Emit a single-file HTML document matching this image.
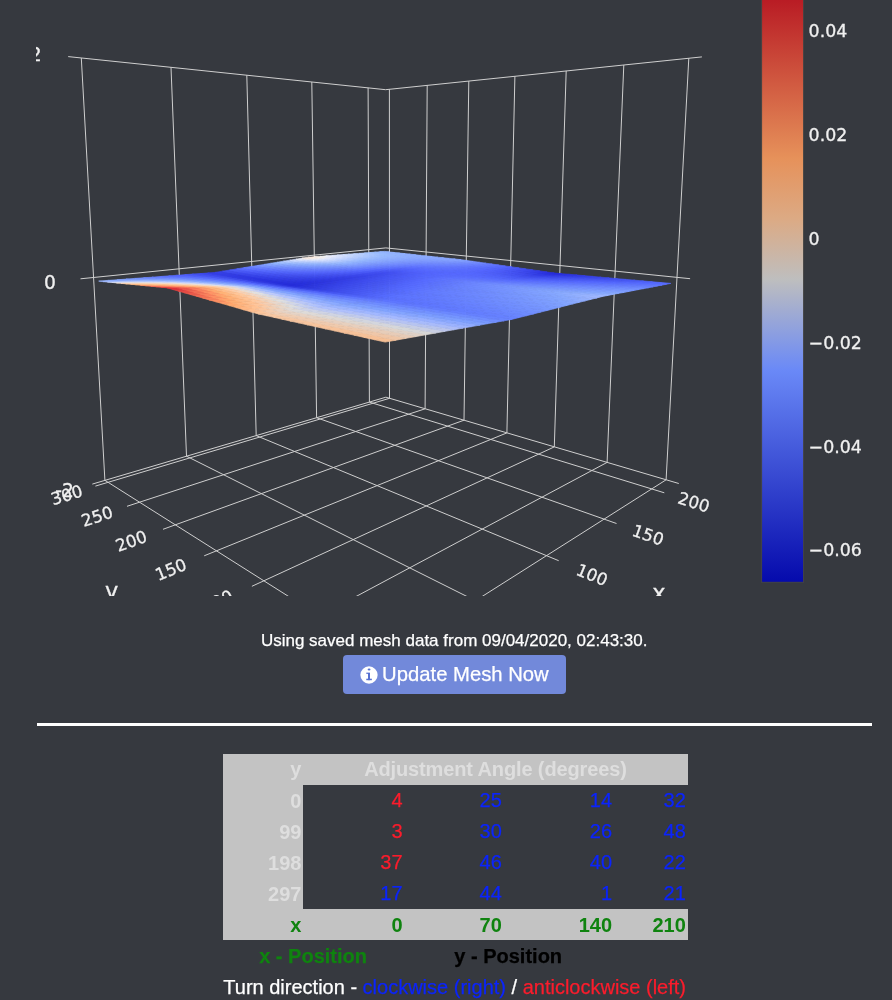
<!DOCTYPE html>
<html lang="en"><head><meta charset="utf-8"><title>Bed Visualizer</title>
<style>
html,body{margin:0;padding:0}
body{width:892px;height:1000px;overflow:hidden;background:#36393f;position:relative;font-family:"Liberation Sans",Arial,sans-serif;color:#fff}
#plot{position:absolute;left:36.2px;top:0;width:836px;height:596.4px;overflow:hidden}
#plot svg{position:absolute;left:-36.2px;top:0}
#info,#btn span,.leg,.r,.b{-webkit-text-stroke:0.25px currentColor}
#info{position:absolute;left:0;width:908.4px;top:630.9px;text-align:center;font-size:17px;line-height:20px;color:#fff;white-space:nowrap}
#btn{position:absolute;left:343.1px;top:655px;width:222.7px;height:39.2px;background:#7289da;border-radius:4px;box-sizing:border-box;color:#fff;font-size:20.25px;line-height:39.2px;white-space:nowrap}
#btn span{position:absolute;left:39px;top:0}
#btn svg{position:absolute;left:16.7px;top:10.6px}
#hr{position:absolute;left:36.9px;top:722.8px;width:835.2px;height:2.9px;background:#fff}
#tbl{position:absolute;left:222.5px;top:754.4px;width:465.2px;height:185.5px;background:#c3c3c3}
#inner{position:absolute;left:80.7px;top:30.4px;width:384.5px;height:124.2px;background:#36393f}
.c{position:absolute;height:31px;line-height:31px;font-size:20px;text-align:right;white-space:nowrap}
.h{font-weight:bold;color:#dedede}
.r{color:#fb1c2c}.b{color:#0b24fb}.g{color:#0f830f;font-weight:bold}
.leg{position:absolute;font-size:20px;font-weight:bold;line-height:22px;white-space:nowrap}
</style></head><body>
<div id="plot"><svg width="892" height="600" viewBox="0 0 892 600">
<defs><linearGradient id="cbg" gradientUnits="userSpaceOnUse" x1="0" y1="-24" x2="0" y2="582.3"><stop offset="0" stop-color="rgb(178,10,28)"/><stop offset="0.3" stop-color="rgb(230,145,90)"/><stop offset="0.4" stop-color="rgb(220,170,132)"/><stop offset="0.5" stop-color="rgb(190,190,190)"/><stop offset="0.65" stop-color="rgb(106,137,247)"/><stop offset="1" stop-color="rgb(5,10,172)"/></linearGradient></defs>
<rect x="761.6" y="-24" width="42" height="606.3" fill="url(#cbg)" stroke="#444" stroke-width="1"/>
<text x="808.6" y="37.3" font-size="17.4" font-family="DejaVu Sans, Verdana, sans-serif" stroke="#f0f0f0" stroke-width="0.3" fill="#f0f0f0">0.04</text>
<text x="808.6" y="141.3" font-size="17.4" font-family="DejaVu Sans, Verdana, sans-serif" stroke="#f0f0f0" stroke-width="0.3" fill="#f0f0f0">0.02</text>
<text x="808.6" y="245.3" font-size="17.4" font-family="DejaVu Sans, Verdana, sans-serif" stroke="#f0f0f0" stroke-width="0.3" fill="#f0f0f0">0</text>
<text x="808.6" y="349.3" font-size="17.4" font-family="DejaVu Sans, Verdana, sans-serif" stroke="#f0f0f0" stroke-width="0.3" fill="#f0f0f0">−0.02</text>
<text x="808.6" y="452.8" font-size="17.4" font-family="DejaVu Sans, Verdana, sans-serif" stroke="#f0f0f0" stroke-width="0.3" fill="#f0f0f0">−0.04</text>
<text x="808.6" y="556.3" font-size="17.4" font-family="DejaVu Sans, Verdana, sans-serif" stroke="#f0f0f0" stroke-width="0.3" fill="#f0f0f0">−0.06</text>
<g stroke="#cfcfcf" stroke-width="1.0" fill="none" stroke-linecap="butt">
<path d="M104.9 480.3L81.3 58.0"/>
<path d="M186.5 456.2L171.0 67.3"/>
<path d="M256.2 435.6L246.8 75.2"/>
<path d="M316.6 417.7L311.8 82.0"/>
<path d="M369.4 402.1L368.1 87.8"/>
<path d="M385.9 397.2L92.3 484.1"/>
<path d="M385.8 247.9L80.5 278.8"/>
<path d="M385.6 89.7L68.2 56.6"/>
<path d="M666.1 479.8L688.8 58.2"/>
<path d="M607.1 462.4L623.8 65.0"/>
<path d="M554.3 446.9L566.2 70.9"/>
<path d="M506.9 432.9L514.9 76.3"/>
<path d="M464.0 420.2L468.8 81.0"/>
<path d="M425.1 408.8L427.2 85.4"/>
<path d="M389.5 398.3L389.4 89.3"/>
<path d="M385.9 397.2L678.8 483.5"/>
<path d="M385.8 247.9L690.1 278.7"/>
<path d="M385.6 89.7L701.9 56.9"/>
<path d="M104.9 480.3L396.7 664.8"/>
<path d="M186.5 456.2L487.2 606.6"/>
<path d="M256.2 435.6L558.7 560.7"/>
<path d="M316.6 417.7L616.5 523.5"/>
<path d="M369.4 402.1L664.3 492.8"/>
<path d="M666.1 479.8L374.4 664.8"/>
<path d="M607.1 462.4L307.9 622.2"/>
<path d="M554.3 446.9L251.9 586.3"/>
<path d="M506.9 432.9L204.2 555.8"/>
<path d="M464.0 420.2L163.0 529.3"/>
<path d="M425.1 408.8L127.0 506.3"/>
<path d="M389.5 398.3L95.4 486.1"/>
</g>
<g stroke-width="0.7" stroke-linejoin="round">
<path d="M385.2 342.1L395.8 340.2L385.1 337.9L374.5 339.7Z" fill="#f6c096" stroke="#f6c096"/>
<path d="M374.5 339.7L385.1 337.9L374.7 335.6L364.0 337.4Z" fill="#f6c097" stroke="#f6c097"/>
<path d="M364.0 337.4L374.7 335.6L364.6 333.4L353.9 335.1Z" fill="#f6c198" stroke="#f6c198"/>
<path d="M353.9 335.1L364.6 333.4L354.7 331.3L344.0 333.0Z" fill="#f6c299" stroke="#f6c299"/>
<path d="M344.0 333.0L354.7 331.3L345.1 329.2L334.4 330.8Z" fill="#f7c29a" stroke="#f7c29a"/>
<path d="M334.4 330.8L345.1 329.2L335.7 327.2L325.1 328.8Z" fill="#f7c39b" stroke="#f7c39b"/>
<path d="M325.1 328.8L335.7 327.2L326.6 325.2L316.0 326.7Z" fill="#f7c39c" stroke="#f7c39c"/>
<path d="M316.0 326.7L326.6 325.2L317.7 323.3L307.1 324.8Z" fill="#f7c49d" stroke="#f7c49d"/>
<path d="M307.1 324.8L317.7 323.3L309.0 321.4L298.4 322.8Z" fill="#f7c59f" stroke="#f7c59f"/>
<path d="M298.4 322.8L309.0 321.4L300.5 319.6L290.0 321.0Z" fill="#f7c5a0" stroke="#f7c5a0"/>
<path d="M290.0 321.0L300.5 319.6L292.3 317.8L281.7 319.1Z" fill="#f7c6a1" stroke="#f7c6a1"/>
<path d="M281.7 319.1L292.3 317.8L284.2 316.0L273.7 317.3Z" fill="#f7c7a2" stroke="#f7c7a2"/>
<path d="M273.7 317.3L284.2 316.0L276.3 314.3L265.8 315.6Z" fill="#f7c7a3" stroke="#f7c7a3"/>
<path d="M265.8 315.6L276.3 314.3L268.6 312.7L258.2 313.9Z" fill="#f8c8a4" stroke="#f8c8a4"/>
<path d="M395.8 340.2L406.2 338.3L395.5 336.1L385.1 337.9Z" fill="#eec5a6" stroke="#eec5a6"/>
<path d="M385.1 337.9L395.5 336.1L385.1 333.9L374.7 335.6Z" fill="#efc6a7" stroke="#efc6a7"/>
<path d="M374.7 335.6L385.1 333.9L375.0 331.7L364.6 333.4Z" fill="#efc7a9" stroke="#efc7a9"/>
<path d="M364.6 333.4L375.0 331.7L365.1 329.7L354.7 331.3Z" fill="#efc8aa" stroke="#efc8aa"/>
<path d="M354.7 331.3L365.1 329.7L355.5 327.6L345.1 329.2Z" fill="#efc8ab" stroke="#efc8ab"/>
<path d="M345.1 329.2L355.5 327.6L346.1 325.7L335.7 327.2Z" fill="#efc9ac" stroke="#efc9ac"/>
<path d="M335.7 327.2L346.1 325.7L336.9 323.7L326.6 325.2Z" fill="#efcaad" stroke="#efcaad"/>
<path d="M326.6 325.2L336.9 323.7L328.0 321.8L317.7 323.3Z" fill="#efcaaf" stroke="#efcaaf"/>
<path d="M317.7 323.3L328.0 321.8L319.3 320.0L309.0 321.4Z" fill="#efcbb0" stroke="#efcbb0"/>
<path d="M309.0 321.4L319.3 320.0L310.8 318.2L300.5 319.6Z" fill="#efccb1" stroke="#efccb1"/>
<path d="M300.5 319.6L310.8 318.2L302.5 316.5L292.3 317.8Z" fill="#efccb2" stroke="#efccb2"/>
<path d="M292.3 317.8L302.5 316.5L294.4 314.8L284.2 316.0Z" fill="#efcdb3" stroke="#efcdb3"/>
<path d="M284.2 316.0L294.4 314.8L286.5 313.1L276.3 314.3Z" fill="#efceb5" stroke="#efceb5"/>
<path d="M276.3 314.3L286.5 313.1L278.8 311.5L268.6 312.7Z" fill="#efceb6" stroke="#efceb6"/>
<path d="M406.2 338.3L416.3 336.5L405.6 334.3L395.5 336.1Z" fill="#e7cbb6" stroke="#e7cbb6"/>
<path d="M395.5 336.1L405.6 334.3L395.2 332.2L385.1 333.9Z" fill="#e7ccb8" stroke="#e7ccb8"/>
<path d="M385.1 333.9L395.2 332.2L385.1 330.1L375.0 331.7Z" fill="#e7cdb9" stroke="#e7cdb9"/>
<path d="M375.0 331.7L385.1 330.1L375.2 328.1L365.1 329.7Z" fill="#e7cdba" stroke="#e7cdba"/>
<path d="M365.1 329.7L375.2 328.1L365.6 326.1L355.5 327.6Z" fill="#e7cebc" stroke="#e7cebc"/>
<path d="M355.5 327.6L365.6 326.1L356.2 324.2L346.1 325.7Z" fill="#e7cfbd" stroke="#e7cfbd"/>
<path d="M346.1 325.7L356.2 324.2L347.0 322.3L336.9 323.7Z" fill="#e7d0be" stroke="#e7d0be"/>
<path d="M336.9 323.7L347.0 322.3L338.1 320.4L328.0 321.8Z" fill="#e6d0c0" stroke="#e6d0c0"/>
<path d="M328.0 321.8L338.1 320.4L329.4 318.7L319.3 320.0Z" fill="#e6d1c1" stroke="#e6d1c1"/>
<path d="M319.3 320.0L329.4 318.7L320.9 316.9L310.8 318.2Z" fill="#e6d2c2" stroke="#e6d2c2"/>
<path d="M310.8 318.2L320.9 316.9L312.5 315.2L302.5 316.5Z" fill="#e6d3c4" stroke="#e6d3c4"/>
<path d="M302.5 316.5L312.5 315.2L304.4 313.5L294.4 314.8Z" fill="#e6d3c5" stroke="#e6d3c5"/>
<path d="M294.4 314.8L304.4 313.5L296.5 311.9L286.5 313.1Z" fill="#e6d4c6" stroke="#e6d4c6"/>
<path d="M286.5 313.1L296.5 311.9L288.7 310.3L278.8 311.5Z" fill="#e6d5c8" stroke="#e6d5c8"/>
<path d="M416.3 336.5L426.2 334.7L415.5 332.6L405.6 334.3Z" fill="#dfd1c6" stroke="#dfd1c6"/>
<path d="M405.6 334.3L415.5 332.6L405.1 330.5L395.2 332.2Z" fill="#dfd2c8" stroke="#dfd2c8"/>
<path d="M395.2 332.2L405.1 330.5L394.9 328.5L385.1 330.1Z" fill="#dfd3c9" stroke="#dfd3c9"/>
<path d="M385.1 330.1L394.9 328.5L385.1 326.5L375.2 328.1Z" fill="#dfd3cb" stroke="#dfd3cb"/>
<path d="M375.2 328.1L385.1 326.5L375.4 324.6L365.6 326.1Z" fill="#dfd4cc" stroke="#dfd4cc"/>
<path d="M365.6 326.1L375.4 324.6L366.0 322.7L356.2 324.2Z" fill="#dfd5ce" stroke="#dfd5ce"/>
<path d="M356.2 324.2L366.0 322.7L356.9 320.9L347.0 322.3Z" fill="#ded6cf" stroke="#ded6cf"/>
<path d="M347.0 322.3L356.9 320.9L347.9 319.1L338.1 320.4Z" fill="#ded7d1" stroke="#ded7d1"/>
<path d="M338.1 320.4L347.9 319.1L339.2 317.3L329.4 318.7Z" fill="#ded7d2" stroke="#ded7d2"/>
<path d="M329.4 318.7L339.2 317.3L330.7 315.6L320.9 316.9Z" fill="#ded8d4" stroke="#ded8d4"/>
<path d="M320.9 316.9L330.7 315.6L322.3 314.0L312.5 315.2Z" fill="#ded9d5" stroke="#ded9d5"/>
<path d="M312.5 315.2L322.3 314.0L314.2 312.3L304.4 313.5Z" fill="#dedad7" stroke="#dedad7"/>
<path d="M304.4 313.5L314.2 312.3L306.2 310.7L296.5 311.9Z" fill="#dedbd8" stroke="#dedbd8"/>
<path d="M296.5 311.9L306.2 310.7L298.5 309.2L288.7 310.3Z" fill="#dedbda" stroke="#dedbda"/>
<path d="M426.2 334.7L435.7 333.0L425.1 330.9L415.5 332.6Z" fill="#d8d7d6" stroke="#d8d7d6"/>
<path d="M415.5 332.6L425.1 330.9L414.7 328.9L405.1 330.5Z" fill="#d7d7d8" stroke="#d7d7d8"/>
<path d="M405.1 330.5L414.7 328.9L404.5 326.9L394.9 328.5Z" fill="#d6d7d9" stroke="#d6d7d9"/>
<path d="M394.9 328.5L404.5 326.9L394.7 325.0L385.1 326.5Z" fill="#d6d7da" stroke="#d6d7da"/>
<path d="M385.1 326.5L394.7 325.0L385.0 323.1L375.4 324.6Z" fill="#d5d6dc" stroke="#d5d6dc"/>
<path d="M375.4 324.6L385.0 323.1L375.6 321.3L366.0 322.7Z" fill="#d4d6dd" stroke="#d4d6dd"/>
<path d="M366.0 322.7L375.6 321.3L366.5 319.5L356.9 320.9Z" fill="#d3d6de" stroke="#d3d6de"/>
<path d="M356.9 320.9L366.5 319.5L357.5 317.7L347.9 319.1Z" fill="#d3d5df" stroke="#d3d5df"/>
<path d="M347.9 319.1L357.5 317.7L348.8 316.0L339.2 317.3Z" fill="#d2d5e1" stroke="#d2d5e1"/>
<path d="M339.2 317.3L348.8 316.0L340.2 314.4L330.7 315.6Z" fill="#d1d5e2" stroke="#d1d5e2"/>
<path d="M330.7 315.6L340.2 314.4L331.9 312.7L322.3 314.0Z" fill="#d0d4e3" stroke="#d0d4e3"/>
<path d="M322.3 314.0L331.9 312.7L323.7 311.2L314.2 312.3Z" fill="#d0d4e4" stroke="#d0d4e4"/>
<path d="M314.2 312.3L323.7 311.2L315.8 309.6L306.2 310.7Z" fill="#cfd4e5" stroke="#cfd4e5"/>
<path d="M306.2 310.7L315.8 309.6L308.0 308.1L298.5 309.2Z" fill="#ced3e7" stroke="#ced3e7"/>
<path d="M435.7 333.0L445.1 331.3L434.4 329.3L425.1 330.9Z" fill="#c9cee1" stroke="#c9cee1"/>
<path d="M425.1 330.9L434.4 329.3L424.0 327.3L414.7 328.9Z" fill="#c8cee3" stroke="#c8cee3"/>
<path d="M414.7 328.9L424.0 327.3L413.9 325.4L404.5 326.9Z" fill="#c7cee4" stroke="#c7cee4"/>
<path d="M404.5 326.9L413.9 325.4L404.0 323.5L394.7 325.0Z" fill="#c6cde5" stroke="#c6cde5"/>
<path d="M394.7 325.0L404.0 323.5L394.4 321.7L385.0 323.1Z" fill="#c6cde7" stroke="#c6cde7"/>
<path d="M385.0 323.1L394.4 321.7L385.0 319.9L375.6 321.3Z" fill="#c5cce8" stroke="#c5cce8"/>
<path d="M375.6 321.3L385.0 319.9L375.9 318.2L366.5 319.5Z" fill="#c4cce9" stroke="#c4cce9"/>
<path d="M366.5 319.5L375.9 318.2L366.9 316.4L357.5 317.7Z" fill="#c3cceb" stroke="#c3cceb"/>
<path d="M357.5 317.7L366.9 316.4L358.1 314.8L348.8 316.0Z" fill="#c2cbec" stroke="#c2cbec"/>
<path d="M348.8 316.0L358.1 314.8L349.6 313.2L340.2 314.4Z" fill="#c1cbed" stroke="#c1cbed"/>
<path d="M340.2 314.4L349.6 313.2L341.2 311.6L331.9 312.7Z" fill="#c0caef" stroke="#c0caef"/>
<path d="M331.9 312.7L341.2 311.6L333.1 310.0L323.7 311.2Z" fill="#bfcaf0" stroke="#bfcaf0"/>
<path d="M323.7 311.2L333.1 310.0L325.1 308.5L315.8 309.6Z" fill="#becaf1" stroke="#becaf1"/>
<path d="M315.8 309.6L325.1 308.5L317.3 307.0L308.0 308.1Z" fill="#bdc9f3" stroke="#bdc9f3"/>
<path d="M445.1 331.3L454.1 329.7L443.5 327.7L434.4 329.3Z" fill="#bbc5ec" stroke="#bbc5ec"/>
<path d="M434.4 329.3L443.5 327.7L433.2 325.8L424.0 327.3Z" fill="#b9c5ed" stroke="#b9c5ed"/>
<path d="M424.0 327.3L433.2 325.8L423.0 323.9L413.9 325.4Z" fill="#b8c4ef" stroke="#b8c4ef"/>
<path d="M413.9 325.4L423.0 323.9L413.2 322.1L404.0 323.5Z" fill="#b7c4f0" stroke="#b7c4f0"/>
<path d="M404.0 323.5L413.2 322.1L403.6 320.3L394.4 321.7Z" fill="#b6c3f2" stroke="#b6c3f2"/>
<path d="M394.4 321.7L403.6 320.3L394.2 318.6L385.0 319.9Z" fill="#b5c3f3" stroke="#b5c3f3"/>
<path d="M385.0 319.9L394.2 318.6L385.0 316.8L375.9 318.2Z" fill="#b4c2f5" stroke="#b4c2f5"/>
<path d="M375.9 318.2L385.0 316.8L376.0 315.2L366.9 316.4Z" fill="#b3c2f6" stroke="#b3c2f6"/>
<path d="M366.9 316.4L376.0 315.2L367.3 313.5L358.1 314.8Z" fill="#b2c1f7" stroke="#b2c1f7"/>
<path d="M358.1 314.8L367.3 313.5L358.7 312.0L349.6 313.2Z" fill="#b1c1f9" stroke="#b1c1f9"/>
<path d="M349.6 313.2L358.7 312.0L350.4 310.4L341.2 311.6Z" fill="#b0c0fa" stroke="#b0c0fa"/>
<path d="M341.2 311.6L350.4 310.4L342.2 308.9L333.1 310.0Z" fill="#afc0fc" stroke="#afc0fc"/>
<path d="M333.1 310.0L342.2 308.9L334.2 307.4L325.1 308.5Z" fill="#aebffd" stroke="#aebffd"/>
<path d="M325.1 308.5L334.2 307.4L326.4 305.9L317.3 307.0Z" fill="#adbfff" stroke="#adbfff"/>
<path d="M454.1 329.7L463.0 328.1L452.4 326.2L443.5 327.7Z" fill="#acbcf7" stroke="#acbcf7"/>
<path d="M443.5 327.7L452.4 326.2L442.0 324.3L433.2 325.8Z" fill="#abbcf8" stroke="#abbcf8"/>
<path d="M433.2 325.8L442.0 324.3L432.0 322.5L423.0 323.9Z" fill="#a9bbfa" stroke="#a9bbfa"/>
<path d="M423.0 323.9L432.0 322.5L422.1 320.7L413.2 322.1Z" fill="#a8bbfb" stroke="#a8bbfb"/>
<path d="M413.2 322.1L422.1 320.7L412.5 318.9L403.6 320.3Z" fill="#a7bafd" stroke="#a7bafd"/>
<path d="M403.6 320.3L412.5 318.9L403.1 317.2L394.2 318.6Z" fill="#a6b9fe" stroke="#a6b9fe"/>
<path d="M394.2 318.6L403.1 317.2L393.9 315.6L385.0 316.8Z" fill="#a5b9ff" stroke="#a5b9ff"/>
<path d="M385.0 316.8L393.9 315.6L385.0 313.9L376.0 315.2Z" fill="#a3b8ff" stroke="#a3b8ff"/>
<path d="M376.0 315.2L385.0 313.9L376.2 312.3L367.3 313.5Z" fill="#a2b8ff" stroke="#a2b8ff"/>
<path d="M367.3 313.5L376.2 312.3L367.7 310.8L358.7 312.0Z" fill="#a1b7ff" stroke="#a1b7ff"/>
<path d="M358.7 312.0L367.7 310.8L359.3 309.3L350.4 310.4Z" fill="#a0b6ff" stroke="#a0b6ff"/>
<path d="M350.4 310.4L359.3 309.3L351.1 307.8L342.2 308.9Z" fill="#9fb6ff" stroke="#9fb6ff"/>
<path d="M342.2 308.9L351.1 307.8L343.1 306.3L334.2 307.4Z" fill="#9db5ff" stroke="#9db5ff"/>
<path d="M334.2 307.4L343.1 306.3L335.3 304.9L326.4 305.9Z" fill="#9cb5ff" stroke="#9cb5ff"/>
<path d="M463.0 328.1L471.6 326.6L461.0 324.7L452.4 326.2Z" fill="#9db3ff" stroke="#9db3ff"/>
<path d="M452.4 326.2L461.0 324.7L450.7 322.9L442.0 324.3Z" fill="#9cb3ff" stroke="#9cb3ff"/>
<path d="M442.0 324.3L450.7 322.9L440.6 321.1L432.0 322.5Z" fill="#9bb2ff" stroke="#9bb2ff"/>
<path d="M432.0 322.5L440.6 321.1L430.8 319.3L422.1 320.7Z" fill="#99b1ff" stroke="#99b1ff"/>
<path d="M422.1 320.7L430.8 319.3L421.2 317.6L412.5 318.9Z" fill="#98b0ff" stroke="#98b0ff"/>
<path d="M412.5 318.9L421.2 317.6L411.8 315.9L403.1 317.2Z" fill="#96b0ff" stroke="#96b0ff"/>
<path d="M403.1 317.2L411.8 315.9L402.7 314.3L393.9 315.6Z" fill="#95afff" stroke="#95afff"/>
<path d="M393.9 315.6L402.7 314.3L393.7 312.7L385.0 313.9Z" fill="#94aeff" stroke="#94aeff"/>
<path d="M385.0 313.9L393.7 312.7L385.0 311.2L376.2 312.3Z" fill="#92aeff" stroke="#92aeff"/>
<path d="M376.2 312.3L385.0 311.2L376.4 309.6L367.7 310.8Z" fill="#91adff" stroke="#91adff"/>
<path d="M367.7 310.8L376.4 309.6L368.0 308.2L359.3 309.3Z" fill="#90acff" stroke="#90acff"/>
<path d="M359.3 309.3L368.0 308.2L359.9 306.7L351.1 307.8Z" fill="#8eacff" stroke="#8eacff"/>
<path d="M351.1 307.8L359.9 306.7L351.8 305.3L343.1 306.3Z" fill="#8dabff" stroke="#8dabff"/>
<path d="M343.1 306.3L351.8 305.3L344.0 303.9L335.3 304.9Z" fill="#8caaff" stroke="#8caaff"/>
<path d="M471.6 326.6L480.0 325.1L469.5 323.2L461.0 324.7Z" fill="#8faaff" stroke="#8faaff"/>
<path d="M461.0 324.7L469.5 323.2L459.2 321.4L450.7 322.9Z" fill="#8da9ff" stroke="#8da9ff"/>
<path d="M450.7 322.9L459.2 321.4L449.1 319.7L440.6 321.1Z" fill="#8ca9ff" stroke="#8ca9ff"/>
<path d="M440.6 321.1L449.1 319.7L439.3 318.0L430.8 319.3Z" fill="#8aa8ff" stroke="#8aa8ff"/>
<path d="M430.8 319.3L439.3 318.0L429.7 316.3L421.2 317.6Z" fill="#89a7ff" stroke="#89a7ff"/>
<path d="M421.2 317.6L429.7 316.3L420.4 314.7L411.8 315.9Z" fill="#87a6ff" stroke="#87a6ff"/>
<path d="M411.8 315.9L420.4 314.7L411.2 313.1L402.7 314.3Z" fill="#86a5ff" stroke="#86a5ff"/>
<path d="M402.7 314.3L411.2 313.1L402.3 311.5L393.7 312.7Z" fill="#84a5ff" stroke="#84a5ff"/>
<path d="M393.7 312.7L402.3 311.5L393.5 310.0L385.0 311.2Z" fill="#83a4ff" stroke="#83a4ff"/>
<path d="M385.0 311.2L393.5 310.0L385.0 308.5L376.4 309.6Z" fill="#81a3ff" stroke="#81a3ff"/>
<path d="M376.4 309.6L385.0 308.5L376.6 307.1L368.0 308.2Z" fill="#80a2ff" stroke="#80a2ff"/>
<path d="M368.0 308.2L376.6 307.1L368.4 305.6L359.9 306.7Z" fill="#80a1ff" stroke="#80a1ff"/>
<path d="M359.9 306.7L368.4 305.6L360.4 304.2L351.8 305.3Z" fill="#7fa1ff" stroke="#7fa1ff"/>
<path d="M351.8 305.3L360.4 304.2L352.5 302.9L344.0 303.9Z" fill="#7fa0ff" stroke="#7fa0ff"/>
<path d="M480.0 325.1L488.2 323.6L477.7 321.8L469.5 323.2Z" fill="#80a1ff" stroke="#80a1ff"/>
<path d="M469.5 323.2L477.7 321.8L467.4 320.1L459.2 321.4Z" fill="#7ea0ff" stroke="#7ea0ff"/>
<path d="M459.2 321.4L467.4 320.1L457.4 318.3L449.1 319.7Z" fill="#7d9fff" stroke="#7d9fff"/>
<path d="M449.1 319.7L457.4 318.3L447.6 316.7L439.3 318.0Z" fill="#7d9eff" stroke="#7d9eff"/>
<path d="M439.3 318.0L447.6 316.7L438.0 315.0L429.7 316.3Z" fill="#7c9dff" stroke="#7c9dff"/>
<path d="M429.7 316.3L438.0 315.0L428.7 313.5L420.4 314.7Z" fill="#7b9dff" stroke="#7b9dff"/>
<path d="M420.4 314.7L428.7 313.5L419.5 311.9L411.2 313.1Z" fill="#7b9cff" stroke="#7b9cff"/>
<path d="M411.2 313.1L419.5 311.9L410.6 310.4L402.3 311.5Z" fill="#7a9bff" stroke="#7a9bff"/>
<path d="M402.3 311.5L410.6 310.4L401.9 308.9L393.5 310.0Z" fill="#7a9aff" stroke="#7a9aff"/>
<path d="M393.5 310.0L401.9 308.9L393.3 307.4L385.0 308.5Z" fill="#7999ff" stroke="#7999ff"/>
<path d="M385.0 308.5L393.3 307.4L384.9 306.0L376.6 307.1Z" fill="#7898ff" stroke="#7898ff"/>
<path d="M376.6 307.1L384.9 306.0L376.7 304.6L368.4 305.6Z" fill="#7897ff" stroke="#7897ff"/>
<path d="M368.4 305.6L376.7 304.6L368.7 303.2L360.4 304.2Z" fill="#7796ff" stroke="#7796ff"/>
<path d="M360.4 304.2L368.7 303.2L360.9 301.9L352.5 302.9Z" fill="#7695ff" stroke="#7695ff"/>
<path d="M488.2 323.6L496.3 322.2L485.8 320.4L477.7 321.8Z" fill="#7798ff" stroke="#7798ff"/>
<path d="M477.7 321.8L485.8 320.4L475.5 318.7L467.4 320.1Z" fill="#7797ff" stroke="#7797ff"/>
<path d="M467.4 320.1L475.5 318.7L465.5 317.0L457.4 318.3Z" fill="#7696ff" stroke="#7696ff"/>
<path d="M457.4 318.3L465.5 317.0L455.7 315.4L447.6 316.7Z" fill="#7595ff" stroke="#7595ff"/>
<path d="M447.6 316.7L455.7 315.4L446.2 313.8L438.0 315.0Z" fill="#7494ff" stroke="#7494ff"/>
<path d="M438.0 315.0L446.2 313.8L436.8 312.3L428.7 313.5Z" fill="#7493ff" stroke="#7493ff"/>
<path d="M428.7 313.5L436.8 312.3L427.7 310.7L419.5 311.9Z" fill="#7392ff" stroke="#7392ff"/>
<path d="M419.5 311.9L427.7 310.7L418.8 309.2L410.6 310.4Z" fill="#7291ff" stroke="#7291ff"/>
<path d="M410.6 310.4L418.8 309.2L410.0 307.8L401.9 308.9Z" fill="#7290ff" stroke="#7290ff"/>
<path d="M401.9 308.9L410.0 307.8L401.5 306.4L393.3 307.4Z" fill="#718fff" stroke="#718fff"/>
<path d="M393.3 307.4L401.5 306.4L393.1 305.0L384.9 306.0Z" fill="#708eff" stroke="#708eff"/>
<path d="M384.9 306.0L393.1 305.0L384.9 303.6L376.7 304.6Z" fill="#6f8dff" stroke="#6f8dff"/>
<path d="M376.7 304.6L384.9 303.6L376.9 302.3L368.7 303.2Z" fill="#6f8cff" stroke="#6f8cff"/>
<path d="M368.7 303.2L376.9 302.3L369.0 300.9L360.9 301.9Z" fill="#6e8bff" stroke="#6e8bff"/>
<path d="M496.3 322.2L504.1 320.8L493.6 319.1L485.8 320.4Z" fill="#708eff" stroke="#708eff"/>
<path d="M485.8 320.4L493.6 319.1L483.4 317.4L475.5 318.7Z" fill="#6f8dff" stroke="#6f8dff"/>
<path d="M475.5 318.7L483.4 317.4L473.4 315.8L465.5 317.0Z" fill="#6e8cff" stroke="#6e8cff"/>
<path d="M465.5 317.0L473.4 315.8L463.7 314.2L455.7 315.4Z" fill="#6e8bff" stroke="#6e8bff"/>
<path d="M455.7 315.4L463.7 314.2L454.1 312.6L446.2 313.8Z" fill="#6d8aff" stroke="#6d8aff"/>
<path d="M446.2 313.8L454.1 312.6L444.8 311.1L436.8 312.3Z" fill="#6c89ff" stroke="#6c89ff"/>
<path d="M436.8 312.3L444.8 311.1L435.7 309.6L427.7 310.7Z" fill="#6b88ff" stroke="#6b88ff"/>
<path d="M427.7 310.7L435.7 309.6L426.8 308.1L418.8 309.2Z" fill="#6a87ff" stroke="#6a87ff"/>
<path d="M418.8 309.2L426.8 308.1L418.0 306.7L410.0 307.8Z" fill="#6a86ff" stroke="#6a86ff"/>
<path d="M410.0 307.8L418.0 306.7L409.5 305.3L401.5 306.4Z" fill="#6984ff" stroke="#6984ff"/>
<path d="M401.5 306.4L409.5 305.3L401.1 303.9L393.1 305.0Z" fill="#6883ff" stroke="#6883ff"/>
<path d="M393.1 305.0L401.1 303.9L392.9 302.6L384.9 303.6Z" fill="#6782ff" stroke="#6782ff"/>
<path d="M384.9 303.6L392.9 302.6L384.9 301.3L376.9 302.3Z" fill="#6681ff" stroke="#6681ff"/>
<path d="M376.9 302.3L384.9 301.3L377.0 300.0L369.0 300.9Z" fill="#6680ff" stroke="#6680ff"/>
<path d="M504.1 320.8L511.7 319.4L501.3 317.7L493.6 319.1Z" fill="#6985ff" stroke="#6985ff"/>
<path d="M493.6 319.1L501.3 317.7L491.1 316.1L483.4 317.4Z" fill="#6884ff" stroke="#6884ff"/>
<path d="M483.4 317.4L491.1 316.1L481.1 314.5L473.4 315.8Z" fill="#6783ff" stroke="#6783ff"/>
<path d="M473.4 315.8L481.1 314.5L471.4 312.9L463.7 314.2Z" fill="#6681ff" stroke="#6681ff"/>
<path d="M463.7 314.2L471.4 312.9L461.9 311.4L454.1 312.6Z" fill="#6580ff" stroke="#6580ff"/>
<path d="M454.1 312.6L461.9 311.4L452.6 309.9L444.8 311.1Z" fill="#647fff" stroke="#647fff"/>
<path d="M444.8 311.1L452.6 309.9L443.5 308.5L435.7 309.6Z" fill="#637eff" stroke="#637eff"/>
<path d="M435.7 309.6L443.5 308.5L434.6 307.0L426.8 308.1Z" fill="#637dff" stroke="#637dff"/>
<path d="M426.8 308.1L434.6 307.0L425.8 305.6L418.0 306.7Z" fill="#627bff" stroke="#627bff"/>
<path d="M418.0 306.7L425.8 305.6L417.3 304.3L409.5 305.3Z" fill="#617aff" stroke="#617aff"/>
<path d="M409.5 305.3L417.3 304.3L409.0 302.9L401.1 303.9Z" fill="#6079ff" stroke="#6079ff"/>
<path d="M401.1 303.9L409.0 302.9L400.8 301.6L392.9 302.6Z" fill="#5f78ff" stroke="#5f78ff"/>
<path d="M392.9 302.6L400.8 301.6L392.7 300.4L384.9 301.3Z" fill="#5e77ff" stroke="#5e77ff"/>
<path d="M384.9 301.3L392.7 300.4L384.9 299.1L377.0 300.0Z" fill="#5d75ff" stroke="#5d75ff"/>
<path d="M511.7 319.4L519.2 317.5L508.8 315.9L501.3 317.7Z" fill="#6782ff" stroke="#6782ff"/>
<path d="M501.3 317.7L508.8 315.9L498.6 314.3L491.1 316.1Z" fill="#6681ff" stroke="#6681ff"/>
<path d="M491.1 316.1L498.6 314.3L488.7 312.8L481.1 314.5Z" fill="#6580ff" stroke="#6580ff"/>
<path d="M481.1 314.5L488.7 312.8L479.0 311.2L471.4 312.9Z" fill="#647eff" stroke="#647eff"/>
<path d="M471.4 312.9L479.0 311.2L469.5 309.8L461.9 311.4Z" fill="#637dff" stroke="#637dff"/>
<path d="M461.9 311.4L469.5 309.8L460.2 308.3L452.6 309.9Z" fill="#627cff" stroke="#627cff"/>
<path d="M452.6 309.9L460.2 308.3L451.1 306.9L443.5 308.5Z" fill="#617aff" stroke="#617aff"/>
<path d="M443.5 308.5L451.1 306.9L442.2 305.5L434.6 307.0Z" fill="#6079ff" stroke="#6079ff"/>
<path d="M434.6 307.0L442.2 305.5L433.5 304.1L425.8 305.6Z" fill="#5f78ff" stroke="#5f78ff"/>
<path d="M425.8 305.6L433.5 304.1L425.0 302.8L417.3 304.3Z" fill="#5e76ff" stroke="#5e76ff"/>
<path d="M417.3 304.3L425.0 302.8L416.6 301.5L409.0 302.9Z" fill="#5d75ff" stroke="#5d75ff"/>
<path d="M409.0 302.9L416.6 301.5L408.5 300.2L400.8 301.6Z" fill="#5c74ff" stroke="#5c74ff"/>
<path d="M400.8 301.6L408.5 300.2L400.4 299.0L392.7 300.4Z" fill="#5b72ff" stroke="#5b72ff"/>
<path d="M392.7 300.4L400.4 299.0L392.6 297.8L384.9 299.1Z" fill="#5a71ff" stroke="#5a71ff"/>
<path d="M519.2 317.5L526.5 315.7L516.1 314.1L508.8 315.9Z" fill="#6a86ff" stroke="#6a86ff"/>
<path d="M508.8 315.9L516.1 314.1L506.0 312.5L498.6 314.3Z" fill="#6985ff" stroke="#6985ff"/>
<path d="M498.6 314.3L506.0 312.5L496.1 311.0L488.7 312.8Z" fill="#6883ff" stroke="#6883ff"/>
<path d="M488.7 312.8L496.1 311.0L486.4 309.6L479.0 311.2Z" fill="#6782ff" stroke="#6782ff"/>
<path d="M479.0 311.2L486.4 309.6L476.9 308.1L469.5 309.8Z" fill="#6580ff" stroke="#6580ff"/>
<path d="M469.5 309.8L476.9 308.1L467.7 306.7L460.2 308.3Z" fill="#647fff" stroke="#647fff"/>
<path d="M460.2 308.3L467.7 306.7L458.6 305.3L451.1 306.9Z" fill="#637dff" stroke="#637dff"/>
<path d="M451.1 306.9L458.6 305.3L449.7 304.0L442.2 305.5Z" fill="#627cff" stroke="#627cff"/>
<path d="M442.2 305.5L449.7 304.0L441.0 302.7L433.5 304.1Z" fill="#617aff" stroke="#617aff"/>
<path d="M433.5 304.1L441.0 302.7L432.5 301.4L425.0 302.8Z" fill="#6079ff" stroke="#6079ff"/>
<path d="M425.0 302.8L432.5 301.4L424.2 300.1L416.6 301.5Z" fill="#5f77ff" stroke="#5f77ff"/>
<path d="M416.6 301.5L424.2 300.1L416.0 298.9L408.5 300.2Z" fill="#5e76ff" stroke="#5e76ff"/>
<path d="M408.5 300.2L416.0 298.9L408.0 297.6L400.4 299.0Z" fill="#5d74ff" stroke="#5d74ff"/>
<path d="M400.4 299.0L408.0 297.6L400.1 296.4L392.6 297.8Z" fill="#5c73ff" stroke="#5c73ff"/>
<path d="M526.5 315.7L533.6 313.9L523.3 312.3L516.1 314.1Z" fill="#6d8aff" stroke="#6d8aff"/>
<path d="M516.1 314.1L523.3 312.3L513.2 310.8L506.0 312.5Z" fill="#6c89ff" stroke="#6c89ff"/>
<path d="M506.0 312.5L513.2 310.8L503.3 309.4L496.1 311.0Z" fill="#6b87ff" stroke="#6b87ff"/>
<path d="M496.1 311.0L503.3 309.4L493.7 307.9L486.4 309.6Z" fill="#6985ff" stroke="#6985ff"/>
<path d="M486.4 309.6L493.7 307.9L484.2 306.5L476.9 308.1Z" fill="#6884ff" stroke="#6884ff"/>
<path d="M476.9 308.1L484.2 306.5L475.0 305.2L467.7 306.7Z" fill="#6782ff" stroke="#6782ff"/>
<path d="M467.7 306.7L475.0 305.2L465.9 303.8L458.6 305.3Z" fill="#6680ff" stroke="#6680ff"/>
<path d="M458.6 305.3L465.9 303.8L457.0 302.5L449.7 304.0Z" fill="#657fff" stroke="#657fff"/>
<path d="M449.7 304.0L457.0 302.5L448.4 301.2L441.0 302.7Z" fill="#637dff" stroke="#637dff"/>
<path d="M441.0 302.7L448.4 301.2L439.9 300.0L432.5 301.4Z" fill="#627bff" stroke="#627bff"/>
<path d="M432.5 301.4L439.9 300.0L431.5 298.7L424.2 300.1Z" fill="#617aff" stroke="#617aff"/>
<path d="M424.2 300.1L431.5 298.7L423.4 297.5L416.0 298.9Z" fill="#6078ff" stroke="#6078ff"/>
<path d="M416.0 298.9L423.4 297.5L415.3 296.3L408.0 297.6Z" fill="#5e76ff" stroke="#5e76ff"/>
<path d="M408.0 297.6L415.3 296.3L407.5 295.2L400.1 296.4Z" fill="#5d75ff" stroke="#5d75ff"/>
<path d="M533.6 313.9L540.6 312.1L530.3 310.6L523.3 312.3Z" fill="#708eff" stroke="#708eff"/>
<path d="M523.3 312.3L530.3 310.6L520.2 309.2L513.2 310.8Z" fill="#6f8dff" stroke="#6f8dff"/>
<path d="M513.2 310.8L520.2 309.2L510.4 307.7L503.3 309.4Z" fill="#6e8bff" stroke="#6e8bff"/>
<path d="M503.3 309.4L510.4 307.7L500.8 306.3L493.7 307.9Z" fill="#6c89ff" stroke="#6c89ff"/>
<path d="M493.7 307.9L500.8 306.3L491.3 305.0L484.2 306.5Z" fill="#6b87ff" stroke="#6b87ff"/>
<path d="M484.2 306.5L491.3 305.0L482.1 303.6L475.0 305.2Z" fill="#6a85ff" stroke="#6a85ff"/>
<path d="M475.0 305.2L482.1 303.6L473.1 302.3L465.9 303.8Z" fill="#6883ff" stroke="#6883ff"/>
<path d="M465.9 303.8L473.1 302.3L464.2 301.1L457.0 302.5Z" fill="#6782ff" stroke="#6782ff"/>
<path d="M457.0 302.5L464.2 301.1L455.6 299.8L448.4 301.2Z" fill="#6680ff" stroke="#6680ff"/>
<path d="M448.4 301.2L455.6 299.8L447.1 298.6L439.9 300.0Z" fill="#647eff" stroke="#647eff"/>
<path d="M439.9 300.0L447.1 298.6L438.7 297.4L431.5 298.7Z" fill="#637cff" stroke="#637cff"/>
<path d="M431.5 298.7L438.7 297.4L430.6 296.2L423.4 297.5Z" fill="#617aff" stroke="#617aff"/>
<path d="M423.4 297.5L430.6 296.2L422.6 295.0L415.3 296.3Z" fill="#6078ff" stroke="#6078ff"/>
<path d="M415.3 296.3L422.6 295.0L414.7 293.9L407.5 295.2Z" fill="#5f77ff" stroke="#5f77ff"/>
<path d="M540.6 312.1L547.4 310.4L537.1 308.9L530.3 310.6Z" fill="#7493ff" stroke="#7493ff"/>
<path d="M530.3 310.6L537.1 308.9L527.1 307.5L520.2 309.2Z" fill="#7291ff" stroke="#7291ff"/>
<path d="M520.2 309.2L527.1 307.5L517.3 306.1L510.4 307.7Z" fill="#718fff" stroke="#718fff"/>
<path d="M510.4 307.7L517.3 306.1L507.7 304.8L500.8 306.3Z" fill="#6f8dff" stroke="#6f8dff"/>
<path d="M500.8 306.3L507.7 304.8L498.3 303.4L491.3 305.0Z" fill="#6e8bff" stroke="#6e8bff"/>
<path d="M491.3 305.0L498.3 303.4L489.1 302.2L482.1 303.6Z" fill="#6c89ff" stroke="#6c89ff"/>
<path d="M482.1 303.6L489.1 302.2L480.1 300.9L473.1 302.3Z" fill="#6b87ff" stroke="#6b87ff"/>
<path d="M473.1 302.3L480.1 300.9L471.3 299.6L464.2 301.1Z" fill="#6985ff" stroke="#6985ff"/>
<path d="M464.2 301.1L471.3 299.6L462.6 298.4L455.6 299.8Z" fill="#6883ff" stroke="#6883ff"/>
<path d="M455.6 299.8L462.6 298.4L454.1 297.2L447.1 298.6Z" fill="#6681ff" stroke="#6681ff"/>
<path d="M447.1 298.6L454.1 297.2L445.8 296.0L438.7 297.4Z" fill="#657fff" stroke="#657fff"/>
<path d="M438.7 297.4L445.8 296.0L437.7 294.9L430.6 296.2Z" fill="#637cff" stroke="#637cff"/>
<path d="M430.6 296.2L437.7 294.9L429.7 293.8L422.6 295.0Z" fill="#627aff" stroke="#627aff"/>
<path d="M422.6 295.0L429.7 293.8L421.8 292.7L414.7 293.9Z" fill="#6078ff" stroke="#6078ff"/>
<path d="M547.4 310.4L554.1 308.7L543.9 307.3L537.1 308.9Z" fill="#7797ff" stroke="#7797ff"/>
<path d="M537.1 308.9L543.9 307.3L533.9 305.9L527.1 307.5Z" fill="#7594ff" stroke="#7594ff"/>
<path d="M527.1 307.5L533.9 305.9L524.1 304.6L517.3 306.1Z" fill="#7492ff" stroke="#7492ff"/>
<path d="M517.3 306.1L524.1 304.6L514.5 303.2L507.7 304.8Z" fill="#7290ff" stroke="#7290ff"/>
<path d="M507.7 304.8L514.5 303.2L505.1 302.0L498.3 303.4Z" fill="#718eff" stroke="#718eff"/>
<path d="M498.3 303.4L505.1 302.0L496.0 300.7L489.1 302.2Z" fill="#6f8cff" stroke="#6f8cff"/>
<path d="M489.1 302.2L496.0 300.7L487.0 299.5L480.1 300.9Z" fill="#6d8aff" stroke="#6d8aff"/>
<path d="M480.1 300.9L487.0 299.5L478.2 298.2L471.3 299.6Z" fill="#6c87ff" stroke="#6c87ff"/>
<path d="M471.3 299.6L478.2 298.2L469.5 297.1L462.6 298.4Z" fill="#6a85ff" stroke="#6a85ff"/>
<path d="M462.6 298.4L469.5 297.1L461.1 295.9L454.1 297.2Z" fill="#6883ff" stroke="#6883ff"/>
<path d="M454.1 297.2L461.1 295.9L452.8 294.7L445.8 296.0Z" fill="#6781ff" stroke="#6781ff"/>
<path d="M445.8 296.0L452.8 294.7L444.6 293.6L437.7 294.9Z" fill="#657fff" stroke="#657fff"/>
<path d="M437.7 294.9L444.6 293.6L436.6 292.5L429.7 293.8Z" fill="#637dff" stroke="#637dff"/>
<path d="M429.7 293.8L436.6 292.5L428.8 291.4L421.8 292.7Z" fill="#627aff" stroke="#627aff"/>
<path d="M554.1 308.7L560.6 307.0L550.4 305.7L543.9 307.3Z" fill="#7a9bff" stroke="#7a9bff"/>
<path d="M543.9 307.3L550.4 305.7L540.5 304.3L533.9 305.9Z" fill="#7998ff" stroke="#7998ff"/>
<path d="M533.9 305.9L540.5 304.3L530.7 303.0L524.1 304.6Z" fill="#7796ff" stroke="#7796ff"/>
<path d="M524.1 304.6L530.7 303.0L521.2 301.7L514.5 303.2Z" fill="#7594ff" stroke="#7594ff"/>
<path d="M514.5 303.2L521.2 301.7L511.8 300.5L505.1 302.0Z" fill="#7391ff" stroke="#7391ff"/>
<path d="M505.1 302.0L511.8 300.5L502.7 299.3L496.0 300.7Z" fill="#728fff" stroke="#728fff"/>
<path d="M496.0 300.7L502.7 299.3L493.7 298.1L487.0 299.5Z" fill="#708dff" stroke="#708dff"/>
<path d="M487.0 299.5L493.7 298.1L484.9 296.9L478.2 298.2Z" fill="#6e8aff" stroke="#6e8aff"/>
<path d="M478.2 298.2L484.9 296.9L476.3 295.7L469.5 297.1Z" fill="#6c88ff" stroke="#6c88ff"/>
<path d="M469.5 297.1L476.3 295.7L467.9 294.6L461.1 295.9Z" fill="#6a86ff" stroke="#6a86ff"/>
<path d="M461.1 295.9L467.9 294.6L459.6 293.5L452.8 294.7Z" fill="#6983ff" stroke="#6983ff"/>
<path d="M452.8 294.7L459.6 293.5L451.4 292.4L444.6 293.6Z" fill="#6781ff" stroke="#6781ff"/>
<path d="M444.6 293.6L451.4 292.4L443.5 291.3L436.6 292.5Z" fill="#657fff" stroke="#657fff"/>
<path d="M436.6 292.5L443.5 291.3L435.7 290.3L428.8 291.4Z" fill="#637cff" stroke="#637cff"/>
<path d="M560.6 307.0L567.0 305.4L556.8 304.1L550.4 305.7Z" fill="#7e9fff" stroke="#7e9fff"/>
<path d="M550.4 305.7L556.8 304.1L546.9 302.8L540.5 304.3Z" fill="#7c9cff" stroke="#7c9cff"/>
<path d="M540.5 304.3L546.9 302.8L537.2 301.5L530.7 303.0Z" fill="#7a9aff" stroke="#7a9aff"/>
<path d="M530.7 303.0L537.2 301.5L527.7 300.3L521.2 301.7Z" fill="#7897ff" stroke="#7897ff"/>
<path d="M521.2 301.7L527.7 300.3L518.4 299.1L511.8 300.5Z" fill="#7695ff" stroke="#7695ff"/>
<path d="M511.8 300.5L518.4 299.1L509.3 297.9L502.7 299.3Z" fill="#7492ff" stroke="#7492ff"/>
<path d="M502.7 299.3L509.3 297.9L500.3 296.7L493.7 298.1Z" fill="#7290ff" stroke="#7290ff"/>
<path d="M493.7 298.1L500.3 296.7L491.5 295.5L484.9 296.9Z" fill="#708dff" stroke="#708dff"/>
<path d="M484.9 296.9L491.5 295.5L482.9 294.4L476.3 295.7Z" fill="#6e8bff" stroke="#6e8bff"/>
<path d="M476.3 295.7L482.9 294.4L474.5 293.3L467.9 294.6Z" fill="#6d88ff" stroke="#6d88ff"/>
<path d="M467.9 294.6L474.5 293.3L466.2 292.2L459.6 293.5Z" fill="#6b86ff" stroke="#6b86ff"/>
<path d="M459.6 293.5L466.2 292.2L458.1 291.2L451.4 292.4Z" fill="#6983ff" stroke="#6983ff"/>
<path d="M451.4 292.4L458.1 291.2L450.2 290.1L443.5 291.3Z" fill="#6781ff" stroke="#6781ff"/>
<path d="M443.5 291.3L450.2 290.1L442.4 289.1L435.7 290.3Z" fill="#657eff" stroke="#657eff"/>
<path d="M567.0 305.4L573.2 303.8L563.1 302.6L556.8 304.1Z" fill="#81a3ff" stroke="#81a3ff"/>
<path d="M556.8 304.1L563.1 302.6L553.2 301.3L546.9 302.8Z" fill="#7fa0ff" stroke="#7fa0ff"/>
<path d="M546.9 302.8L553.2 301.3L543.6 300.1L537.2 301.5Z" fill="#7d9dff" stroke="#7d9dff"/>
<path d="M537.2 301.5L543.6 300.1L534.1 298.8L527.7 300.3Z" fill="#7b9bff" stroke="#7b9bff"/>
<path d="M527.7 300.3L534.1 298.8L524.8 297.7L518.4 299.1Z" fill="#7998ff" stroke="#7998ff"/>
<path d="M518.4 299.1L524.8 297.7L515.7 296.5L509.3 297.9Z" fill="#7795ff" stroke="#7795ff"/>
<path d="M509.3 297.9L515.7 296.5L506.8 295.3L500.3 296.7Z" fill="#7593ff" stroke="#7593ff"/>
<path d="M500.3 296.7L506.8 295.3L498.0 294.2L491.5 295.5Z" fill="#7390ff" stroke="#7390ff"/>
<path d="M491.5 295.5L498.0 294.2L489.5 293.1L482.9 294.4Z" fill="#718dff" stroke="#718dff"/>
<path d="M482.9 294.4L489.5 293.1L481.0 292.0L474.5 293.3Z" fill="#6f8bff" stroke="#6f8bff"/>
<path d="M474.5 293.3L481.0 292.0L472.8 291.0L466.2 292.2Z" fill="#6d88ff" stroke="#6d88ff"/>
<path d="M466.2 292.2L472.8 291.0L464.7 290.0L458.1 291.2Z" fill="#6b85ff" stroke="#6b85ff"/>
<path d="M458.1 291.2L464.7 290.0L456.8 288.9L450.2 290.1Z" fill="#6883ff" stroke="#6883ff"/>
<path d="M450.2 290.1L456.8 288.9L449.0 287.9L442.4 289.1Z" fill="#6680ff" stroke="#6680ff"/>
<path d="M573.2 303.8L579.3 302.3L569.3 301.0L563.1 302.6Z" fill="#86a7ff" stroke="#86a7ff"/>
<path d="M563.1 302.6L569.3 301.0L559.4 299.8L553.2 301.3Z" fill="#82a4ff" stroke="#82a4ff"/>
<path d="M553.2 301.3L559.4 299.8L549.8 298.6L543.6 300.1Z" fill="#80a1ff" stroke="#80a1ff"/>
<path d="M543.6 300.1L549.8 298.6L540.4 297.4L534.1 298.8Z" fill="#7e9eff" stroke="#7e9eff"/>
<path d="M534.1 298.8L540.4 297.4L531.1 296.3L524.8 297.7Z" fill="#7c9bff" stroke="#7c9bff"/>
<path d="M524.8 297.7L531.1 296.3L522.0 295.1L515.7 296.5Z" fill="#7998ff" stroke="#7998ff"/>
<path d="M515.7 296.5L522.0 295.1L513.1 294.0L506.8 295.3Z" fill="#7796ff" stroke="#7796ff"/>
<path d="M506.8 295.3L513.1 294.0L504.4 292.9L498.0 294.2Z" fill="#7593ff" stroke="#7593ff"/>
<path d="M498.0 294.2L504.4 292.9L495.8 291.9L489.5 293.1Z" fill="#7390ff" stroke="#7390ff"/>
<path d="M489.5 293.1L495.8 291.9L487.5 290.8L481.0 292.0Z" fill="#718dff" stroke="#718dff"/>
<path d="M481.0 292.0L487.5 290.8L479.2 289.8L472.8 291.0Z" fill="#6f8aff" stroke="#6f8aff"/>
<path d="M472.8 291.0L479.2 289.8L471.1 288.8L464.7 290.0Z" fill="#6c87ff" stroke="#6c87ff"/>
<path d="M464.7 290.0L471.1 288.8L463.2 287.8L456.8 288.9Z" fill="#6a85ff" stroke="#6a85ff"/>
<path d="M456.8 288.9L463.2 287.8L455.4 286.8L449.0 287.9Z" fill="#6882ff" stroke="#6882ff"/>
<path d="M579.3 302.3L585.3 300.8L575.3 299.6L569.3 301.0Z" fill="#8cabff" stroke="#8cabff"/>
<path d="M569.3 301.0L575.3 299.6L565.5 298.4L559.4 299.8Z" fill="#87a8ff" stroke="#87a8ff"/>
<path d="M559.4 299.8L565.5 298.4L555.9 297.2L549.8 298.6Z" fill="#83a5ff" stroke="#83a5ff"/>
<path d="M549.8 298.6L555.9 297.2L546.5 296.0L540.4 297.4Z" fill="#81a2ff" stroke="#81a2ff"/>
<path d="M540.4 297.4L546.5 296.0L537.3 294.9L531.1 296.3Z" fill="#7e9fff" stroke="#7e9fff"/>
<path d="M531.1 296.3L537.3 294.9L528.2 293.8L522.0 295.1Z" fill="#7c9cff" stroke="#7c9cff"/>
<path d="M522.0 295.1L528.2 293.8L519.3 292.7L513.1 294.0Z" fill="#7a99ff" stroke="#7a99ff"/>
<path d="M513.1 294.0L519.3 292.7L510.6 291.7L504.4 292.9Z" fill="#7796ff" stroke="#7796ff"/>
<path d="M504.4 292.9L510.6 291.7L502.1 290.6L495.8 291.9Z" fill="#7593ff" stroke="#7593ff"/>
<path d="M495.8 291.9L502.1 290.6L493.7 289.6L487.5 290.8Z" fill="#7390ff" stroke="#7390ff"/>
<path d="M487.5 290.8L493.7 289.6L485.5 288.6L479.2 289.8Z" fill="#708dff" stroke="#708dff"/>
<path d="M479.2 289.8L485.5 288.6L477.5 287.6L471.1 288.8Z" fill="#6e8aff" stroke="#6e8aff"/>
<path d="M471.1 288.8L477.5 287.6L469.5 286.7L463.2 287.8Z" fill="#6c87ff" stroke="#6c87ff"/>
<path d="M463.2 287.8L469.5 286.7L461.8 285.7L455.4 286.8Z" fill="#6a84ff" stroke="#6a84ff"/>
<path d="M585.3 300.8L591.2 299.3L581.2 298.1L575.3 299.6Z" fill="#92afff" stroke="#92afff"/>
<path d="M575.3 299.6L581.2 298.1L571.5 297.0L565.5 298.4Z" fill="#8cabff" stroke="#8cabff"/>
<path d="M565.5 298.4L571.5 297.0L561.9 295.8L555.9 297.2Z" fill="#87a8ff" stroke="#87a8ff"/>
<path d="M555.9 297.2L561.9 295.8L552.5 294.7L546.5 296.0Z" fill="#84a5ff" stroke="#84a5ff"/>
<path d="M546.5 296.0L552.5 294.7L543.3 293.6L537.3 294.9Z" fill="#81a2ff" stroke="#81a2ff"/>
<path d="M537.3 294.9L543.3 293.6L534.3 292.5L528.2 293.8Z" fill="#7f9fff" stroke="#7f9fff"/>
<path d="M528.2 293.8L534.3 292.5L525.5 291.5L519.3 292.7Z" fill="#7c9cff" stroke="#7c9cff"/>
<path d="M519.3 292.7L525.5 291.5L516.8 290.4L510.6 291.7Z" fill="#7a99ff" stroke="#7a99ff"/>
<path d="M510.6 291.7L516.8 290.4L508.3 289.4L502.1 290.6Z" fill="#7795ff" stroke="#7795ff"/>
<path d="M502.1 290.6L508.3 289.4L499.9 288.4L493.7 289.6Z" fill="#7592ff" stroke="#7592ff"/>
<path d="M493.7 289.6L499.9 288.4L491.7 287.5L485.5 288.6Z" fill="#728fff" stroke="#728fff"/>
<path d="M485.5 288.6L491.7 287.5L483.7 286.5L477.5 287.6Z" fill="#708cff" stroke="#708cff"/>
<path d="M477.5 287.6L483.7 286.5L475.8 285.6L469.5 286.7Z" fill="#6e89ff" stroke="#6e89ff"/>
<path d="M469.5 286.7L475.8 285.6L468.0 284.6L461.8 285.7Z" fill="#6b85ff" stroke="#6b85ff"/>
<path d="M591.2 299.3L597.0 297.9L587.0 296.7L581.2 298.1Z" fill="#98b2ff" stroke="#98b2ff"/>
<path d="M581.2 298.1L587.0 296.7L577.3 295.6L571.5 297.0Z" fill="#92afff" stroke="#92afff"/>
<path d="M571.5 297.0L577.3 295.6L567.8 294.5L561.9 295.8Z" fill="#8dacff" stroke="#8dacff"/>
<path d="M561.9 295.8L567.8 294.5L558.4 293.4L552.5 294.7Z" fill="#87a9ff" stroke="#87a9ff"/>
<path d="M552.5 294.7L558.4 293.4L549.2 292.3L543.3 293.6Z" fill="#84a5ff" stroke="#84a5ff"/>
<path d="M543.3 293.6L549.2 292.3L540.3 291.3L534.3 292.5Z" fill="#81a2ff" stroke="#81a2ff"/>
<path d="M534.3 292.5L540.3 291.3L531.4 290.2L525.5 291.5Z" fill="#7f9fff" stroke="#7f9fff"/>
<path d="M525.5 291.5L531.4 290.2L522.8 289.2L516.8 290.4Z" fill="#7c9bff" stroke="#7c9bff"/>
<path d="M516.8 290.4L522.8 289.2L514.3 288.2L508.3 289.4Z" fill="#7a98ff" stroke="#7a98ff"/>
<path d="M508.3 289.4L514.3 288.2L506.0 287.3L499.9 288.4Z" fill="#7795ff" stroke="#7795ff"/>
<path d="M499.9 288.4L506.0 287.3L497.8 286.3L491.7 287.5Z" fill="#7491ff" stroke="#7491ff"/>
<path d="M491.7 287.5L497.8 286.3L489.8 285.4L483.7 286.5Z" fill="#728eff" stroke="#728eff"/>
<path d="M483.7 286.5L489.8 285.4L481.9 284.5L475.8 285.6Z" fill="#6f8bff" stroke="#6f8bff"/>
<path d="M475.8 285.6L481.9 284.5L474.1 283.6L468.0 284.6Z" fill="#6d87ff" stroke="#6d87ff"/>
<path d="M597.0 297.9L602.6 296.4L592.7 295.3L587.0 296.7Z" fill="#9eb6ff" stroke="#9eb6ff"/>
<path d="M587.0 296.7L592.7 295.3L583.0 294.2L577.3 295.6Z" fill="#98b3ff" stroke="#98b3ff"/>
<path d="M577.3 295.6L583.0 294.2L573.5 293.1L567.8 294.5Z" fill="#92b0ff" stroke="#92b0ff"/>
<path d="M567.8 294.5L573.5 293.1L564.2 292.1L558.4 293.4Z" fill="#8dacff" stroke="#8dacff"/>
<path d="M558.4 293.4L564.2 292.1L555.1 291.0L549.2 292.3Z" fill="#87a9ff" stroke="#87a9ff"/>
<path d="M549.2 292.3L555.1 291.0L546.1 290.0L540.3 291.3Z" fill="#84a5ff" stroke="#84a5ff"/>
<path d="M540.3 291.3L546.1 290.0L537.3 289.0L531.4 290.2Z" fill="#81a2ff" stroke="#81a2ff"/>
<path d="M531.4 290.2L537.3 289.0L528.7 288.0L522.8 289.2Z" fill="#7e9eff" stroke="#7e9eff"/>
<path d="M522.8 289.2L528.7 288.0L520.2 287.1L514.3 288.2Z" fill="#7c9bff" stroke="#7c9bff"/>
<path d="M514.3 288.2L520.2 287.1L511.9 286.1L506.0 287.3Z" fill="#7997ff" stroke="#7997ff"/>
<path d="M506.0 287.3L511.9 286.1L503.8 285.2L497.8 286.3Z" fill="#7694ff" stroke="#7694ff"/>
<path d="M497.8 286.3L503.8 285.2L495.7 284.3L489.8 285.4Z" fill="#7490ff" stroke="#7490ff"/>
<path d="M489.8 285.4L495.7 284.3L487.9 283.4L481.9 284.5Z" fill="#718dff" stroke="#718dff"/>
<path d="M481.9 284.5L487.9 283.4L480.1 282.5L474.1 283.6Z" fill="#6e89ff" stroke="#6e89ff"/>
<path d="M602.6 296.4L608.1 295.4L598.3 294.3L592.7 295.3Z" fill="#9cb6ff" stroke="#9cb6ff"/>
<path d="M592.7 295.3L598.3 294.3L588.6 293.2L583.0 294.2Z" fill="#96b2ff" stroke="#96b2ff"/>
<path d="M583.0 294.2L588.6 293.2L579.1 292.1L573.5 293.1Z" fill="#90afff" stroke="#90afff"/>
<path d="M573.5 293.1L579.1 292.1L569.9 291.1L564.2 292.1Z" fill="#8aabff" stroke="#8aabff"/>
<path d="M564.2 292.1L569.9 291.1L560.8 290.1L555.1 291.0Z" fill="#86a7ff" stroke="#86a7ff"/>
<path d="M555.1 291.0L560.8 290.1L551.8 289.1L546.1 290.0Z" fill="#83a4ff" stroke="#83a4ff"/>
<path d="M546.1 290.0L551.8 289.1L543.1 288.1L537.3 289.0Z" fill="#80a0ff" stroke="#80a0ff"/>
<path d="M537.3 289.0L543.1 288.1L534.5 287.2L528.7 288.0Z" fill="#7d9dff" stroke="#7d9dff"/>
<path d="M528.7 288.0L534.5 287.2L526.0 286.2L520.2 287.1Z" fill="#7a99ff" stroke="#7a99ff"/>
<path d="M520.2 287.1L526.0 286.2L517.7 285.3L511.9 286.1Z" fill="#7895ff" stroke="#7895ff"/>
<path d="M511.9 286.1L517.7 285.3L509.6 284.4L503.8 285.2Z" fill="#7592ff" stroke="#7592ff"/>
<path d="M503.8 285.2L509.6 284.4L501.6 283.5L495.7 284.3Z" fill="#728eff" stroke="#728eff"/>
<path d="M495.7 284.3L501.6 283.5L493.8 282.6L487.9 283.4Z" fill="#6f8aff" stroke="#6f8aff"/>
<path d="M487.9 283.4L493.8 282.6L486.1 281.8L480.1 282.5Z" fill="#6c87ff" stroke="#6c87ff"/>
<path d="M608.1 295.4L613.5 294.3L603.7 293.3L598.3 294.3Z" fill="#93b0ff" stroke="#93b0ff"/>
<path d="M598.3 294.3L603.7 293.3L594.1 292.2L588.6 293.2Z" fill="#8dadff" stroke="#8dadff"/>
<path d="M588.6 293.2L594.1 292.2L584.7 291.2L579.1 292.1Z" fill="#87a9ff" stroke="#87a9ff"/>
<path d="M579.1 292.1L584.7 291.2L575.4 290.2L569.9 291.1Z" fill="#84a5ff" stroke="#84a5ff"/>
<path d="M569.9 291.1L575.4 290.2L566.4 289.2L560.8 290.1Z" fill="#81a1ff" stroke="#81a1ff"/>
<path d="M560.8 290.1L566.4 289.2L557.5 288.2L551.8 289.1Z" fill="#7e9eff" stroke="#7e9eff"/>
<path d="M551.8 289.1L557.5 288.2L548.7 287.2L543.1 288.1Z" fill="#7b9aff" stroke="#7b9aff"/>
<path d="M543.1 288.1L548.7 287.2L540.2 286.3L534.5 287.2Z" fill="#7896ff" stroke="#7896ff"/>
<path d="M534.5 287.2L540.2 286.3L531.7 285.4L526.0 286.2Z" fill="#7592ff" stroke="#7592ff"/>
<path d="M526.0 286.2L531.7 285.4L523.5 284.5L517.7 285.3Z" fill="#728fff" stroke="#728fff"/>
<path d="M517.7 285.3L523.5 284.5L515.4 283.6L509.6 284.4Z" fill="#708bff" stroke="#708bff"/>
<path d="M509.6 284.4L515.4 283.6L507.4 282.7L501.6 283.5Z" fill="#6d87ff" stroke="#6d87ff"/>
<path d="M501.6 283.5L507.4 282.7L499.6 281.9L493.8 282.6Z" fill="#6a83ff" stroke="#6a83ff"/>
<path d="M493.8 282.6L499.6 281.9L491.9 281.0L486.1 281.8Z" fill="#6780ff" stroke="#6780ff"/>
<path d="M613.5 294.3L618.8 293.3L609.0 292.3L603.7 293.3Z" fill="#8aabff" stroke="#8aabff"/>
<path d="M603.7 293.3L609.0 292.3L599.5 291.3L594.1 292.2Z" fill="#85a7ff" stroke="#85a7ff"/>
<path d="M594.1 292.2L599.5 291.3L590.1 290.2L584.7 291.2Z" fill="#82a3ff" stroke="#82a3ff"/>
<path d="M584.7 291.2L590.1 290.2L580.9 289.3L575.4 290.2Z" fill="#7f9fff" stroke="#7f9fff"/>
<path d="M575.4 290.2L580.9 289.3L571.8 288.3L566.4 289.2Z" fill="#7c9bff" stroke="#7c9bff"/>
<path d="M566.4 289.2L571.8 288.3L563.0 287.3L557.5 288.2Z" fill="#7998ff" stroke="#7998ff"/>
<path d="M557.5 288.2L563.0 287.3L554.3 286.4L548.7 287.2Z" fill="#7694ff" stroke="#7694ff"/>
<path d="M548.7 287.2L554.3 286.4L545.7 285.5L540.2 286.3Z" fill="#7390ff" stroke="#7390ff"/>
<path d="M540.2 286.3L545.7 285.5L537.3 284.6L531.7 285.4Z" fill="#708cff" stroke="#708cff"/>
<path d="M531.7 285.4L537.3 284.6L529.1 283.7L523.5 284.5Z" fill="#6d88ff" stroke="#6d88ff"/>
<path d="M523.5 284.5L529.1 283.7L521.0 282.8L515.4 283.6Z" fill="#6a84ff" stroke="#6a84ff"/>
<path d="M515.4 283.6L521.0 282.8L513.1 282.0L507.4 282.7Z" fill="#6781ff" stroke="#6781ff"/>
<path d="M507.4 282.7L513.1 282.0L505.2 281.1L499.6 281.9Z" fill="#657dff" stroke="#657dff"/>
<path d="M499.6 281.9L505.2 281.1L497.6 280.3L491.9 281.0Z" fill="#6279ff" stroke="#6279ff"/>
<path d="M618.8 293.3L624.0 292.4L614.3 291.3L609.0 292.3Z" fill="#84a5ff" stroke="#84a5ff"/>
<path d="M609.0 292.3L614.3 291.3L604.7 290.3L599.5 291.3Z" fill="#81a1ff" stroke="#81a1ff"/>
<path d="M599.5 291.3L604.7 290.3L595.4 289.3L590.1 290.2Z" fill="#7e9dff" stroke="#7e9dff"/>
<path d="M590.1 290.2L595.4 289.3L586.2 288.4L580.9 289.3Z" fill="#7b99ff" stroke="#7b99ff"/>
<path d="M580.9 289.3L586.2 288.4L577.2 287.4L571.8 288.3Z" fill="#7795ff" stroke="#7795ff"/>
<path d="M571.8 288.3L577.2 287.4L568.4 286.5L563.0 287.3Z" fill="#7491ff" stroke="#7491ff"/>
<path d="M563.0 287.3L568.4 286.5L559.7 285.5L554.3 286.4Z" fill="#718dff" stroke="#718dff"/>
<path d="M554.3 286.4L559.7 285.5L551.2 284.6L545.7 285.5Z" fill="#6e8aff" stroke="#6e8aff"/>
<path d="M545.7 285.5L551.2 284.6L542.8 283.8L537.3 284.6Z" fill="#6b86ff" stroke="#6b86ff"/>
<path d="M537.3 284.6L542.8 283.8L534.6 282.9L529.1 283.7Z" fill="#6882ff" stroke="#6882ff"/>
<path d="M529.1 283.7L534.6 282.9L526.5 282.0L521.0 282.8Z" fill="#657eff" stroke="#657eff"/>
<path d="M521.0 282.8L526.5 282.0L518.6 281.2L513.1 282.0Z" fill="#627aff" stroke="#627aff"/>
<path d="M513.1 282.0L518.6 281.2L510.8 280.4L505.2 281.1Z" fill="#5f76ff" stroke="#5f76ff"/>
<path d="M505.2 281.1L510.8 280.4L503.2 279.6L497.6 280.3Z" fill="#5c72ff" stroke="#5c72ff"/>
<path d="M624.0 292.4L629.1 291.4L619.4 290.4L614.3 291.3Z" fill="#7f9fff" stroke="#7f9fff"/>
<path d="M614.3 291.3L619.4 290.4L609.9 289.4L604.7 290.3Z" fill="#7c9bff" stroke="#7c9bff"/>
<path d="M604.7 290.3L609.9 289.4L600.6 288.4L595.4 289.3Z" fill="#7997ff" stroke="#7997ff"/>
<path d="M595.4 289.3L600.6 288.4L591.5 287.5L586.2 288.4Z" fill="#7693ff" stroke="#7693ff"/>
<path d="M586.2 288.4L591.5 287.5L582.5 286.5L577.2 287.4Z" fill="#738fff" stroke="#738fff"/>
<path d="M577.2 287.4L582.5 286.5L573.7 285.6L568.4 286.5Z" fill="#708bff" stroke="#708bff"/>
<path d="M568.4 286.5L573.7 285.6L565.1 284.7L559.7 285.5Z" fill="#6d87ff" stroke="#6d87ff"/>
<path d="M559.7 285.5L565.1 284.7L556.6 283.8L551.2 284.6Z" fill="#6983ff" stroke="#6983ff"/>
<path d="M551.2 284.6L556.6 283.8L548.2 283.0L542.8 283.8Z" fill="#667fff" stroke="#667fff"/>
<path d="M542.8 283.8L548.2 283.0L540.0 282.1L534.6 282.9Z" fill="#637bff" stroke="#637bff"/>
<path d="M534.6 282.9L540.0 282.1L532.0 281.3L526.5 282.0Z" fill="#6077ff" stroke="#6077ff"/>
<path d="M526.5 282.0L532.0 281.3L524.1 280.5L518.6 281.2Z" fill="#5d73ff" stroke="#5d73ff"/>
<path d="M518.6 281.2L524.1 280.5L516.3 279.7L510.8 280.4Z" fill="#5a6fff" stroke="#5a6fff"/>
<path d="M510.8 280.4L516.3 279.7L508.7 278.9L503.2 279.6Z" fill="#576bff" stroke="#576bff"/>
<path d="M629.1 291.4L634.1 290.4L624.4 289.4L619.4 290.4Z" fill="#7b9aff" stroke="#7b9aff"/>
<path d="M619.4 290.4L624.4 289.4L615.0 288.5L609.9 289.4Z" fill="#7896ff" stroke="#7896ff"/>
<path d="M609.9 289.4L615.0 288.5L605.7 287.5L600.6 288.4Z" fill="#7491ff" stroke="#7491ff"/>
<path d="M600.6 288.4L605.7 287.5L596.6 286.6L591.5 287.5Z" fill="#718dff" stroke="#718dff"/>
<path d="M591.5 287.5L596.6 286.6L587.7 285.7L582.5 286.5Z" fill="#6e89ff" stroke="#6e89ff"/>
<path d="M582.5 286.5L587.7 285.7L578.9 284.8L573.7 285.6Z" fill="#6b85ff" stroke="#6b85ff"/>
<path d="M573.7 285.6L578.9 284.8L570.3 283.9L565.1 284.7Z" fill="#6881ff" stroke="#6881ff"/>
<path d="M565.1 284.7L570.3 283.9L561.9 283.0L556.6 283.8Z" fill="#647dff" stroke="#647dff"/>
<path d="M556.6 283.8L561.9 283.0L553.5 282.2L548.2 283.0Z" fill="#6179ff" stroke="#6179ff"/>
<path d="M548.2 283.0L553.5 282.2L545.4 281.4L540.0 282.1Z" fill="#5e75ff" stroke="#5e75ff"/>
<path d="M540.0 282.1L545.4 281.4L537.4 280.5L532.0 281.3Z" fill="#5b71ff" stroke="#5b71ff"/>
<path d="M532.0 281.3L537.4 280.5L529.5 279.7L524.1 280.5Z" fill="#586cff" stroke="#586cff"/>
<path d="M524.1 280.5L529.5 279.7L521.7 278.9L516.3 279.7Z" fill="#5568fe" stroke="#5568fe"/>
<path d="M516.3 279.7L521.7 278.9L514.1 278.2L508.7 278.9Z" fill="#5164fc" stroke="#5164fc"/>
<path d="M634.1 290.4L638.9 289.5L629.4 288.5L624.4 289.4Z" fill="#7694ff" stroke="#7694ff"/>
<path d="M624.4 289.4L629.4 288.5L620.0 287.6L615.0 288.5Z" fill="#7390ff" stroke="#7390ff"/>
<path d="M615.0 288.5L620.0 287.6L610.7 286.7L605.7 287.5Z" fill="#708cff" stroke="#708cff"/>
<path d="M605.7 287.5L610.7 286.7L601.7 285.7L596.6 286.6Z" fill="#6d87ff" stroke="#6d87ff"/>
<path d="M596.6 286.6L601.7 285.7L592.8 284.9L587.7 285.7Z" fill="#6983ff" stroke="#6983ff"/>
<path d="M587.7 285.7L592.8 284.9L584.1 284.0L578.9 284.8Z" fill="#667fff" stroke="#667fff"/>
<path d="M578.9 284.8L584.1 284.0L575.5 283.1L570.3 283.9Z" fill="#637bff" stroke="#637bff"/>
<path d="M570.3 283.9L575.5 283.1L567.0 282.3L561.9 283.0Z" fill="#6077ff" stroke="#6077ff"/>
<path d="M561.9 283.0L567.0 282.3L558.8 281.4L553.5 282.2Z" fill="#5c72ff" stroke="#5c72ff"/>
<path d="M553.5 282.2L558.8 281.4L550.6 280.6L545.4 281.4Z" fill="#596eff" stroke="#596eff"/>
<path d="M545.4 281.4L550.6 280.6L542.6 279.8L537.4 280.5Z" fill="#566aff" stroke="#566aff"/>
<path d="M537.4 280.5L542.6 279.8L534.8 279.0L529.5 279.7Z" fill="#5266fc" stroke="#5266fc"/>
<path d="M529.5 279.7L534.8 279.0L527.0 278.2L521.7 278.9Z" fill="#4f61fa" stroke="#4f61fa"/>
<path d="M521.7 278.9L527.0 278.2L519.4 277.5L514.1 278.2Z" fill="#4c5df8" stroke="#4c5df8"/>
<path d="M638.9 289.5L643.8 288.6L634.2 287.6L629.4 288.5Z" fill="#728eff" stroke="#728eff"/>
<path d="M629.4 288.5L634.2 287.6L624.9 286.7L620.0 287.6Z" fill="#6f8aff" stroke="#6f8aff"/>
<path d="M620.0 287.6L624.9 286.7L615.7 285.8L610.7 286.7Z" fill="#6b86ff" stroke="#6b86ff"/>
<path d="M610.7 286.7L615.7 285.8L606.7 284.9L601.7 285.7Z" fill="#6881ff" stroke="#6881ff"/>
<path d="M601.7 285.7L606.7 284.9L597.8 284.0L592.8 284.9Z" fill="#657dff" stroke="#657dff"/>
<path d="M592.8 284.9L597.8 284.0L589.1 283.2L584.1 284.0Z" fill="#6179ff" stroke="#6179ff"/>
<path d="M584.1 284.0L589.1 283.2L580.5 282.3L575.5 283.1Z" fill="#5e75ff" stroke="#5e75ff"/>
<path d="M575.5 283.1L580.5 282.3L572.1 281.5L567.0 282.3Z" fill="#5b70ff" stroke="#5b70ff"/>
<path d="M567.0 282.3L572.1 281.5L563.9 280.7L558.8 281.4Z" fill="#576cff" stroke="#576cff"/>
<path d="M558.8 281.4L563.9 280.7L555.8 279.9L550.6 280.6Z" fill="#5468fd" stroke="#5468fd"/>
<path d="M550.6 280.6L555.8 279.9L547.8 279.1L542.6 279.8Z" fill="#5163fb" stroke="#5163fb"/>
<path d="M542.6 279.8L547.8 279.1L539.9 278.3L534.8 279.0Z" fill="#4d5ff9" stroke="#4d5ff9"/>
<path d="M534.8 279.0L539.9 278.3L532.2 277.6L527.0 278.2Z" fill="#4a5bf6" stroke="#4a5bf6"/>
<path d="M527.0 278.2L532.2 277.6L524.7 276.8L519.4 277.5Z" fill="#4756f4" stroke="#4756f4"/>
<path d="M643.8 288.6L648.5 287.7L639.0 286.8L634.2 287.6Z" fill="#6e89ff" stroke="#6e89ff"/>
<path d="M634.2 287.6L639.0 286.8L629.7 285.9L624.9 286.7Z" fill="#6a84ff" stroke="#6a84ff"/>
<path d="M624.9 286.7L629.7 285.9L620.5 285.0L615.7 285.8Z" fill="#6780ff" stroke="#6780ff"/>
<path d="M615.7 285.8L620.5 285.0L611.5 284.1L606.7 284.9Z" fill="#637cff" stroke="#637cff"/>
<path d="M606.7 284.9L611.5 284.1L602.7 283.2L597.8 284.0Z" fill="#6077ff" stroke="#6077ff"/>
<path d="M597.8 284.0L602.7 283.2L594.0 282.4L589.1 283.2Z" fill="#5c73ff" stroke="#5c73ff"/>
<path d="M589.1 283.2L594.0 282.4L585.5 281.6L580.5 282.3Z" fill="#596eff" stroke="#596eff"/>
<path d="M580.5 282.3L585.5 281.6L577.1 280.7L572.1 281.5Z" fill="#566aff" stroke="#566aff"/>
<path d="M572.1 281.5L577.1 280.7L568.9 279.9L563.9 280.7Z" fill="#5265fc" stroke="#5265fc"/>
<path d="M563.9 280.7L568.9 279.9L560.8 279.2L555.8 279.9Z" fill="#4f61fa" stroke="#4f61fa"/>
<path d="M555.8 279.9L560.8 279.2L552.9 278.4L547.8 279.1Z" fill="#4b5df7" stroke="#4b5df7"/>
<path d="M547.8 279.1L552.9 278.4L545.1 277.6L539.9 278.3Z" fill="#4858f5" stroke="#4858f5"/>
<path d="M539.9 278.3L545.1 277.6L537.4 276.9L532.2 277.6Z" fill="#4554f2" stroke="#4554f2"/>
<path d="M532.2 277.6L537.4 276.9L529.8 276.1L524.7 276.8Z" fill="#414ff0" stroke="#414ff0"/>
<path d="M648.5 287.7L653.1 286.8L643.7 285.9L639.0 286.8Z" fill="#6983ff" stroke="#6983ff"/>
<path d="M639.0 286.8L643.7 285.9L634.4 285.0L629.7 285.9Z" fill="#667fff" stroke="#667fff"/>
<path d="M629.7 285.9L634.4 285.0L625.3 284.1L620.5 285.0Z" fill="#627aff" stroke="#627aff"/>
<path d="M620.5 285.0L625.3 284.1L616.3 283.3L611.5 284.1Z" fill="#5f76ff" stroke="#5f76ff"/>
<path d="M611.5 284.1L616.3 283.3L607.5 282.4L602.7 283.2Z" fill="#5b71ff" stroke="#5b71ff"/>
<path d="M602.7 283.2L607.5 282.4L598.9 281.6L594.0 282.4Z" fill="#586dff" stroke="#586dff"/>
<path d="M594.0 282.4L598.9 281.6L590.4 280.8L585.5 281.6Z" fill="#5468fe" stroke="#5468fe"/>
<path d="M585.5 281.6L590.4 280.8L582.1 280.0L577.1 280.7Z" fill="#5164fb" stroke="#5164fb"/>
<path d="M577.1 280.7L582.1 280.0L573.9 279.2L568.9 279.9Z" fill="#4d5ff9" stroke="#4d5ff9"/>
<path d="M568.9 279.9L573.9 279.2L565.8 278.5L560.8 279.2Z" fill="#4a5bf6" stroke="#4a5bf6"/>
<path d="M560.8 279.2L565.8 278.5L557.9 277.7L552.9 278.4Z" fill="#4656f4" stroke="#4656f4"/>
<path d="M552.9 278.4L557.9 277.7L550.1 277.0L545.1 277.6Z" fill="#4352f1" stroke="#4352f1"/>
<path d="M545.1 277.6L550.1 277.0L542.4 276.2L537.4 276.9Z" fill="#3f4def" stroke="#3f4def"/>
<path d="M537.4 276.9L542.4 276.2L534.9 275.5L529.8 276.1Z" fill="#3c49ec" stroke="#3c49ec"/>
<path d="M653.1 286.8L657.6 285.9L648.2 285.0L643.7 285.9Z" fill="#657dff" stroke="#657dff"/>
<path d="M643.7 285.9L648.2 285.0L639.0 284.2L634.4 285.0Z" fill="#6179ff" stroke="#6179ff"/>
<path d="M634.4 285.0L639.0 284.2L629.9 283.3L625.3 284.1Z" fill="#5e74ff" stroke="#5e74ff"/>
<path d="M625.3 284.1L629.9 283.3L621.0 282.5L616.3 283.3Z" fill="#5a70ff" stroke="#5a70ff"/>
<path d="M616.3 283.3L621.0 282.5L612.3 281.7L607.5 282.4Z" fill="#566bff" stroke="#566bff"/>
<path d="M607.5 282.4L612.3 281.7L603.7 280.9L598.9 281.6Z" fill="#5366fd" stroke="#5366fd"/>
<path d="M598.9 281.6L603.7 280.9L595.2 280.1L590.4 280.8Z" fill="#4f62fa" stroke="#4f62fa"/>
<path d="M590.4 280.8L595.2 280.1L586.9 279.3L582.1 280.0Z" fill="#4c5df7" stroke="#4c5df7"/>
<path d="M582.1 280.0L586.9 279.3L578.7 278.5L573.9 279.2Z" fill="#4859f5" stroke="#4859f5"/>
<path d="M573.9 279.2L578.7 278.5L570.7 277.8L565.8 278.5Z" fill="#4554f2" stroke="#4554f2"/>
<path d="M565.8 278.5L570.7 277.8L562.8 277.0L557.9 277.7Z" fill="#414ff0" stroke="#414ff0"/>
<path d="M557.9 277.7L562.8 277.0L555.0 276.3L550.1 277.0Z" fill="#3d4bed" stroke="#3d4bed"/>
<path d="M550.1 277.0L555.0 276.3L547.4 275.6L542.4 276.2Z" fill="#3a46eb" stroke="#3a46eb"/>
<path d="M542.4 276.2L547.4 275.6L539.9 274.9L534.9 275.5Z" fill="#3642e8" stroke="#3642e8"/>
<path d="M657.6 285.9L662.1 285.1L652.8 284.2L648.2 285.0Z" fill="#6078ff" stroke="#6078ff"/>
<path d="M648.2 285.0L652.8 284.2L643.6 283.4L639.0 284.2Z" fill="#5d73ff" stroke="#5d73ff"/>
<path d="M639.0 284.2L643.6 283.4L634.5 282.5L629.9 283.3Z" fill="#596eff" stroke="#596eff"/>
<path d="M629.9 283.3L634.5 282.5L625.7 281.7L621.0 282.5Z" fill="#556afe" stroke="#556afe"/>
<path d="M621.0 282.5L625.7 281.7L616.9 280.9L612.3 281.7Z" fill="#5265fc" stroke="#5265fc"/>
<path d="M612.3 281.7L616.9 280.9L608.4 280.1L603.7 280.9Z" fill="#4e60f9" stroke="#4e60f9"/>
<path d="M603.7 280.9L608.4 280.1L599.9 279.3L595.2 280.1Z" fill="#4a5cf7" stroke="#4a5cf7"/>
<path d="M595.2 280.1L599.9 279.3L591.7 278.6L586.9 279.3Z" fill="#4757f4" stroke="#4757f4"/>
<path d="M586.9 279.3L591.7 278.6L583.5 277.8L578.7 278.5Z" fill="#4352f1" stroke="#4352f1"/>
<path d="M578.7 278.5L583.5 277.8L575.5 277.1L570.7 277.8Z" fill="#404eef" stroke="#404eef"/>
<path d="M570.7 277.8L575.5 277.1L567.6 276.3L562.8 277.0Z" fill="#3c49ec" stroke="#3c49ec"/>
<path d="M562.8 277.0L567.6 276.3L559.9 275.6L555.0 276.3Z" fill="#3844ea" stroke="#3844ea"/>
<path d="M555.0 276.3L559.9 275.6L552.3 274.9L547.4 275.6Z" fill="#353fe7" stroke="#353fe7"/>
<path d="M547.4 275.6L552.3 274.9L544.8 274.2L539.9 274.9Z" fill="#313be4" stroke="#313be4"/>
<path d="M662.1 285.1L666.5 284.2L657.2 283.4L652.8 284.2Z" fill="#5c72ff" stroke="#5c72ff"/>
<path d="M652.8 284.2L657.2 283.4L648.0 282.6L643.6 283.4Z" fill="#586dff" stroke="#586dff"/>
<path d="M643.6 283.4L648.0 282.6L639.0 281.7L634.5 282.5Z" fill="#5469fe" stroke="#5469fe"/>
<path d="M634.5 282.5L639.0 281.7L630.2 280.9L625.7 281.7Z" fill="#5164fb" stroke="#5164fb"/>
<path d="M625.7 281.7L630.2 280.9L621.5 280.2L616.9 280.9Z" fill="#4d5ff8" stroke="#4d5ff8"/>
<path d="M616.9 280.9L621.5 280.2L613.0 279.4L608.4 280.1Z" fill="#495af6" stroke="#495af6"/>
<path d="M608.4 280.1L613.0 279.4L604.6 278.6L599.9 279.3Z" fill="#4655f3" stroke="#4655f3"/>
<path d="M599.9 279.3L604.6 278.6L596.3 277.9L591.7 278.6Z" fill="#4251f0" stroke="#4251f0"/>
<path d="M591.7 278.6L596.3 277.9L588.2 277.1L583.5 277.8Z" fill="#3e4cee" stroke="#3e4cee"/>
<path d="M583.5 277.8L588.2 277.1L580.2 276.4L575.5 277.1Z" fill="#3a47eb" stroke="#3a47eb"/>
<path d="M575.5 277.1L580.2 276.4L572.4 275.7L567.6 276.3Z" fill="#3742e8" stroke="#3742e8"/>
<path d="M567.6 276.3L572.4 275.7L564.7 275.0L559.9 275.6Z" fill="#333de6" stroke="#333de6"/>
<path d="M559.9 275.6L564.7 275.0L557.1 274.3L552.3 274.9Z" fill="#2f39e3" stroke="#2f39e3"/>
<path d="M552.3 274.9L557.1 274.3L549.6 273.6L544.8 274.2Z" fill="#2c34e0" stroke="#2c34e0"/>
<path d="M666.5 284.2L670.8 283.4L661.5 282.6L657.2 283.4Z" fill="#586cff" stroke="#586cff"/>
<path d="M657.2 283.4L661.5 282.6L652.4 281.8L648.0 282.6Z" fill="#5468fd" stroke="#5468fd"/>
<path d="M648.0 282.6L652.4 281.8L643.5 281.0L639.0 281.7Z" fill="#5063fa" stroke="#5063fa"/>
<path d="M639.0 281.7L643.5 281.0L634.7 280.2L630.2 280.9Z" fill="#4c5ef8" stroke="#4c5ef8"/>
<path d="M630.2 280.9L634.7 280.2L626.0 279.4L621.5 280.2Z" fill="#4859f5" stroke="#4859f5"/>
<path d="M621.5 280.2L626.0 279.4L617.5 278.7L613.0 279.4Z" fill="#4554f2" stroke="#4554f2"/>
<path d="M613.0 279.4L617.5 278.7L609.2 277.9L604.6 278.6Z" fill="#414ff0" stroke="#414ff0"/>
<path d="M604.6 278.6L609.2 277.9L600.9 277.2L596.3 277.9Z" fill="#3d4aed" stroke="#3d4aed"/>
<path d="M596.3 277.9L600.9 277.2L592.9 276.4L588.2 277.1Z" fill="#3945ea" stroke="#3945ea"/>
<path d="M588.2 277.1L592.9 276.4L584.9 275.7L580.2 276.4Z" fill="#3540e7" stroke="#3540e7"/>
<path d="M580.2 276.4L584.9 275.7L577.1 275.0L572.4 275.7Z" fill="#323ce5" stroke="#323ce5"/>
<path d="M572.4 275.7L577.1 275.0L569.4 274.3L564.7 275.0Z" fill="#2e37e2" stroke="#2e37e2"/>
<path d="M564.7 275.0L569.4 274.3L561.8 273.7L557.1 274.3Z" fill="#2a32df" stroke="#2a32df"/>
<path d="M557.1 274.3L561.8 273.7L554.3 273.0L549.6 273.6Z" fill="#262ddd" stroke="#262ddd"/>
<path d="M258.2 313.9L268.6 312.7L261.1 310.6L250.7 311.8Z" fill="#fcc69c" stroke="#fcc69c"/>
<path d="M250.7 311.8L261.1 310.6L253.7 308.6L243.3 309.7Z" fill="#ffbf90" stroke="#ffbf90"/>
<path d="M243.3 309.7L253.7 308.6L246.5 306.6L236.2 307.6Z" fill="#ffb784" stroke="#ffb784"/>
<path d="M236.2 307.6L246.5 306.6L239.5 304.7L229.2 305.6Z" fill="#ffb078" stroke="#ffb078"/>
<path d="M229.2 305.6L239.5 304.7L232.6 302.8L222.3 303.6Z" fill="#ffa86d" stroke="#ffa86d"/>
<path d="M222.3 303.6L232.6 302.8L225.9 301.0L215.6 301.7Z" fill="#ff9b68" stroke="#ff9b68"/>
<path d="M215.6 301.7L225.9 301.0L219.3 299.2L209.1 299.9Z" fill="#fe8e62" stroke="#fe8e62"/>
<path d="M209.1 299.9L219.3 299.2L212.8 297.4L202.6 298.0Z" fill="#f9815c" stroke="#f9815c"/>
<path d="M202.6 298.0L212.8 297.4L206.5 295.7L196.4 296.2Z" fill="#f57456" stroke="#f57456"/>
<path d="M196.4 296.2L206.5 295.7L200.3 294.0L190.2 294.5Z" fill="#f06751" stroke="#f06751"/>
<path d="M190.2 294.5L200.3 294.0L194.2 292.4L184.2 292.7Z" fill="#eb5a4b" stroke="#eb5a4b"/>
<path d="M184.2 292.7L194.2 292.4L188.3 290.7L178.3 291.1Z" fill="#e64d45" stroke="#e64d45"/>
<path d="M178.3 291.1L188.3 290.7L182.5 289.2L172.5 289.4Z" fill="#e24040" stroke="#e24040"/>
<path d="M172.5 289.4L182.5 289.2L176.8 287.6L166.8 287.8Z" fill="#dd333a" stroke="#dd333a"/>
<path d="M268.6 312.7L278.8 311.5L271.2 309.5L261.1 310.6Z" fill="#f3ccaf" stroke="#f3ccaf"/>
<path d="M261.1 310.6L271.2 309.5L263.8 307.6L253.7 308.6Z" fill="#fbc7a0" stroke="#fbc7a0"/>
<path d="M253.7 308.6L263.8 307.6L256.6 305.7L246.5 306.6Z" fill="#ffc294" stroke="#ffc294"/>
<path d="M246.5 306.6L256.6 305.7L249.5 303.9L239.5 304.7Z" fill="#ffbb8a" stroke="#ffbb8a"/>
<path d="M239.5 304.7L249.5 303.9L242.6 302.1L232.6 302.8Z" fill="#ffb57f" stroke="#ffb57f"/>
<path d="M232.6 302.8L242.6 302.1L235.9 300.3L225.9 301.0Z" fill="#ffaf74" stroke="#ffaf74"/>
<path d="M225.9 301.0L235.9 300.3L229.2 298.6L219.3 299.2Z" fill="#ffa66d" stroke="#ffa66d"/>
<path d="M219.3 299.2L229.2 298.6L222.7 296.9L212.8 297.4Z" fill="#ff9a68" stroke="#ff9a68"/>
<path d="M212.8 297.4L222.7 296.9L216.4 295.2L206.5 295.7Z" fill="#ff8f63" stroke="#ff8f63"/>
<path d="M206.5 295.7L216.4 295.2L210.2 293.6L200.3 294.0Z" fill="#fb835e" stroke="#fb835e"/>
<path d="M200.3 294.0L210.2 293.6L204.1 292.0L194.2 292.4Z" fill="#f77859" stroke="#f77859"/>
<path d="M194.2 292.4L204.1 292.0L198.1 290.4L188.3 290.7Z" fill="#f36c54" stroke="#f36c54"/>
<path d="M188.3 290.7L198.1 290.4L192.2 288.9L182.5 289.2Z" fill="#ef614f" stroke="#ef614f"/>
<path d="M182.5 289.2L192.2 288.9L186.5 287.4L176.8 287.6Z" fill="#ea554a" stroke="#ea554a"/>
<path d="M278.8 311.5L288.7 310.3L281.2 308.4L271.2 309.5Z" fill="#ead3c2" stroke="#ead3c2"/>
<path d="M271.2 309.5L281.2 308.4L273.7 306.6L263.8 307.6Z" fill="#f1cfb5" stroke="#f1cfb5"/>
<path d="M263.8 307.6L273.7 306.6L266.5 304.8L256.6 305.7Z" fill="#f9cba8" stroke="#f9cba8"/>
<path d="M256.6 305.7L266.5 304.8L259.4 303.0L249.5 303.9Z" fill="#ffc69c" stroke="#ffc69c"/>
<path d="M249.5 303.9L259.4 303.0L252.4 301.3L242.6 302.1Z" fill="#ffc192" stroke="#ffc192"/>
<path d="M242.6 302.1L252.4 301.3L245.6 299.6L235.9 300.3Z" fill="#ffbc89" stroke="#ffbc89"/>
<path d="M235.9 300.3L245.6 299.6L239.0 297.9L229.2 298.6Z" fill="#ffb680" stroke="#ffb680"/>
<path d="M229.2 298.6L239.0 297.9L232.5 296.3L222.7 296.9Z" fill="#ffb177" stroke="#ffb177"/>
<path d="M222.7 296.9L232.5 296.3L226.1 294.7L216.4 295.2Z" fill="#ffa96f" stroke="#ffa96f"/>
<path d="M216.4 295.2L226.1 294.7L219.8 293.2L210.2 293.6Z" fill="#ff9f6b" stroke="#ff9f6b"/>
<path d="M210.2 293.6L219.8 293.2L213.7 291.6L204.1 292.0Z" fill="#ff9567" stroke="#ff9567"/>
<path d="M204.1 292.0L213.7 291.6L207.7 290.1L198.1 290.4Z" fill="#ff8b62" stroke="#ff8b62"/>
<path d="M198.1 290.4L207.7 290.1L201.8 288.7L192.2 288.9Z" fill="#fc815e" stroke="#fc815e"/>
<path d="M192.2 288.9L201.8 288.7L196.0 287.2L186.5 287.4Z" fill="#f8775a" stroke="#f8775a"/>
<path d="M288.7 310.3L298.5 309.2L290.9 307.4L281.2 308.4Z" fill="#e1dad5" stroke="#e1dad5"/>
<path d="M281.2 308.4L290.9 307.4L283.4 305.6L273.7 306.6Z" fill="#e7d7ca" stroke="#e7d7ca"/>
<path d="M273.7 306.6L283.4 305.6L276.1 303.9L266.5 304.8Z" fill="#edd3bf" stroke="#edd3bf"/>
<path d="M266.5 304.8L276.1 303.9L269.0 302.2L259.4 303.0Z" fill="#f4cfb4" stroke="#f4cfb4"/>
<path d="M259.4 303.0L269.0 302.2L262.1 300.5L252.4 301.3Z" fill="#facca9" stroke="#facca9"/>
<path d="M252.4 301.3L262.1 300.5L255.2 298.9L245.6 299.6Z" fill="#ffc89e" stroke="#ffc89e"/>
<path d="M245.6 299.6L255.2 298.9L248.5 297.3L239.0 297.9Z" fill="#ffc496" stroke="#ffc496"/>
<path d="M239.0 297.9L248.5 297.3L242.0 295.8L232.5 296.3Z" fill="#ffbf8e" stroke="#ffbf8e"/>
<path d="M232.5 296.3L242.0 295.8L235.6 294.2L226.1 294.7Z" fill="#ffbb86" stroke="#ffbb86"/>
<path d="M226.1 294.7L235.6 294.2L229.3 292.7L219.8 293.2Z" fill="#ffb67e" stroke="#ffb67e"/>
<path d="M219.8 293.2L229.3 292.7L223.1 291.3L213.7 291.6Z" fill="#ffb276" stroke="#ffb276"/>
<path d="M213.7 291.6L223.1 291.3L217.1 289.8L207.7 290.1Z" fill="#ffab71" stroke="#ffab71"/>
<path d="M207.7 290.1L217.1 289.8L211.2 288.4L201.8 288.7Z" fill="#ffa26d" stroke="#ffa26d"/>
<path d="M201.8 288.7L211.2 288.4L205.4 287.1L196.0 287.2Z" fill="#ff9a6a" stroke="#ff9a6a"/>
<path d="M298.5 309.2L308.0 308.1L300.4 306.4L290.9 307.4Z" fill="#d3d6e4" stroke="#d3d6e4"/>
<path d="M290.9 307.4L300.4 306.4L292.9 304.7L283.4 305.6Z" fill="#dcddde" stroke="#dcddde"/>
<path d="M283.4 305.6L292.9 304.7L285.6 303.0L276.1 303.9Z" fill="#e2dbd6" stroke="#e2dbd6"/>
<path d="M276.1 303.9L285.6 303.0L278.5 301.4L269.0 302.2Z" fill="#e8d8cd" stroke="#e8d8cd"/>
<path d="M269.0 302.2L278.5 301.4L271.5 299.8L262.1 300.5Z" fill="#edd5c3" stroke="#edd5c3"/>
<path d="M262.1 300.5L271.5 299.8L264.6 298.2L255.2 298.9Z" fill="#f2d3ba" stroke="#f2d3ba"/>
<path d="M255.2 298.9L264.6 298.2L257.9 296.7L248.5 297.3Z" fill="#f8d0b1" stroke="#f8d0b1"/>
<path d="M248.5 297.3L257.9 296.7L251.3 295.2L242.0 295.8Z" fill="#fdcda8" stroke="#fdcda8"/>
<path d="M242.0 295.8L251.3 295.2L244.9 293.8L235.6 294.2Z" fill="#ffca9f" stroke="#ffca9f"/>
<path d="M235.6 294.2L244.9 293.8L238.6 292.3L229.3 292.7Z" fill="#ffc699" stroke="#ffc699"/>
<path d="M229.3 292.7L238.6 292.3L232.4 290.9L223.1 291.3Z" fill="#ffc292" stroke="#ffc292"/>
<path d="M223.1 291.3L232.4 290.9L226.3 289.6L217.1 289.8Z" fill="#ffbf8c" stroke="#ffbf8c"/>
<path d="M217.1 289.8L226.3 289.6L220.4 288.2L211.2 288.4Z" fill="#ffbb85" stroke="#ffbb85"/>
<path d="M211.2 288.4L220.4 288.2L214.5 286.9L205.4 287.1Z" fill="#ffb77f" stroke="#ffb77f"/>
<path d="M308.0 308.1L317.3 307.0L309.6 305.3L300.4 306.4Z" fill="#c1ccf1" stroke="#c1ccf1"/>
<path d="M300.4 306.4L309.6 305.3L302.2 303.7L292.9 304.7Z" fill="#c9d1ec" stroke="#c9d1ec"/>
<path d="M292.9 304.7L302.2 303.7L294.8 302.1L285.6 303.0Z" fill="#d1d6e8" stroke="#d1d6e8"/>
<path d="M285.6 303.0L294.8 302.1L287.7 300.6L278.5 301.4Z" fill="#d9dbe3" stroke="#d9dbe3"/>
<path d="M278.5 301.4L287.7 300.6L280.7 299.1L271.5 299.8Z" fill="#e0dfde" stroke="#e0dfde"/>
<path d="M271.5 299.8L280.7 299.1L273.8 297.6L264.6 298.2Z" fill="#e4ddd7" stroke="#e4ddd7"/>
<path d="M264.6 298.2L273.8 297.6L267.1 296.1L257.9 296.7Z" fill="#e9dad0" stroke="#e9dad0"/>
<path d="M257.9 296.7L267.1 296.1L260.5 294.7L251.3 295.2Z" fill="#edd8c8" stroke="#edd8c8"/>
<path d="M251.3 295.2L260.5 294.7L254.0 293.3L244.9 293.8Z" fill="#f2d6c1" stroke="#f2d6c1"/>
<path d="M244.9 293.8L254.0 293.3L247.7 291.9L238.6 292.3Z" fill="#f6d4ba" stroke="#f6d4ba"/>
<path d="M238.6 292.3L247.7 291.9L241.4 290.6L232.4 290.9Z" fill="#fad2b3" stroke="#fad2b3"/>
<path d="M232.4 290.9L241.4 290.6L235.3 289.3L226.3 289.6Z" fill="#ffcfab" stroke="#ffcfab"/>
<path d="M226.3 289.6L235.3 289.3L229.4 288.0L220.4 288.2Z" fill="#ffcda4" stroke="#ffcda4"/>
<path d="M220.4 288.2L229.4 288.0L223.5 286.7L214.5 286.9Z" fill="#ffca9f" stroke="#ffca9f"/>
<path d="M317.3 307.0L326.4 305.9L318.7 304.4L309.6 305.3Z" fill="#afc1fe" stroke="#afc1fe"/>
<path d="M309.6 305.3L318.7 304.4L311.2 302.8L302.2 303.7Z" fill="#b5c5fa" stroke="#b5c5fa"/>
<path d="M302.2 303.7L311.2 302.8L303.9 301.3L294.8 302.1Z" fill="#bbc8f7" stroke="#bbc8f7"/>
<path d="M294.8 302.1L303.9 301.3L296.7 299.8L287.7 300.6Z" fill="#c1ccf4" stroke="#c1ccf4"/>
<path d="M287.7 300.6L296.7 299.8L289.7 298.4L280.7 299.1Z" fill="#c7d0f0" stroke="#c7d0f0"/>
<path d="M280.7 299.1L289.7 298.4L282.8 296.9L273.8 297.6Z" fill="#cdd4ed" stroke="#cdd4ed"/>
<path d="M273.8 297.6L282.8 296.9L276.0 295.6L267.1 296.1Z" fill="#d3d8e9" stroke="#d3d8e9"/>
<path d="M267.1 296.1L276.0 295.6L269.4 294.2L260.5 294.7Z" fill="#d9dce6" stroke="#d9dce6"/>
<path d="M260.5 294.7L269.4 294.2L262.9 292.8L254.0 293.3Z" fill="#dfe0e3" stroke="#dfe0e3"/>
<path d="M254.0 293.3L262.9 292.8L256.6 291.5L247.7 291.9Z" fill="#e4e1de" stroke="#e4e1de"/>
<path d="M247.7 291.9L256.6 291.5L250.3 290.3L241.4 290.6Z" fill="#e7dfd9" stroke="#e7dfd9"/>
<path d="M241.4 290.6L250.3 290.3L244.2 289.0L235.3 289.3Z" fill="#ebddd3" stroke="#ebddd3"/>
<path d="M235.3 289.3L244.2 289.0L238.2 287.8L229.4 288.0Z" fill="#eedcce" stroke="#eedcce"/>
<path d="M229.4 288.0L238.2 287.8L232.3 286.5L223.5 286.7Z" fill="#f1dac9" stroke="#f1dac9"/>
<path d="M326.4 305.9L335.3 304.9L327.6 303.4L318.7 304.4Z" fill="#9eb6ff" stroke="#9eb6ff"/>
<path d="M318.7 304.4L327.6 303.4L320.1 301.9L311.2 302.8Z" fill="#a2b8ff" stroke="#a2b8ff"/>
<path d="M311.2 302.8L320.1 301.9L312.8 300.5L303.9 301.3Z" fill="#a6bbff" stroke="#a6bbff"/>
<path d="M303.9 301.3L312.8 300.5L305.6 299.1L296.7 299.8Z" fill="#aabeff" stroke="#aabeff"/>
<path d="M296.7 299.8L305.6 299.1L298.5 297.7L289.7 298.4Z" fill="#aec1ff" stroke="#aec1ff"/>
<path d="M289.7 298.4L298.5 297.7L291.6 296.3L282.8 296.9Z" fill="#b3c4ff" stroke="#b3c4ff"/>
<path d="M282.8 296.9L291.6 296.3L284.8 295.0L276.0 295.6Z" fill="#b7c6fe" stroke="#b7c6fe"/>
<path d="M276.0 295.6L284.8 295.0L278.2 293.7L269.4 294.2Z" fill="#bbc9fc" stroke="#bbc9fc"/>
<path d="M269.4 294.2L278.2 293.7L271.7 292.4L262.9 292.8Z" fill="#bfccf9" stroke="#bfccf9"/>
<path d="M262.9 292.8L271.7 292.4L265.3 291.2L256.6 291.5Z" fill="#c3cff7" stroke="#c3cff7"/>
<path d="M256.6 291.5L265.3 291.2L259.0 289.9L250.3 290.3Z" fill="#c7d1f5" stroke="#c7d1f5"/>
<path d="M250.3 290.3L259.0 289.9L252.9 288.7L244.2 289.0Z" fill="#ccd4f3" stroke="#ccd4f3"/>
<path d="M244.2 289.0L252.9 288.7L246.9 287.5L238.2 287.8Z" fill="#d0d7f1" stroke="#d0d7f1"/>
<path d="M238.2 287.8L246.9 287.5L240.9 286.4L232.3 286.5Z" fill="#d4daef" stroke="#d4daef"/>
<path d="M335.3 304.9L344.0 303.9L336.3 302.4L327.6 303.4Z" fill="#8cabff" stroke="#8cabff"/>
<path d="M327.6 303.4L336.3 302.4L328.8 301.0L320.1 301.9Z" fill="#8facff" stroke="#8facff"/>
<path d="M320.1 301.9L328.8 301.0L321.4 299.7L312.8 300.5Z" fill="#91aeff" stroke="#91aeff"/>
<path d="M312.8 300.5L321.4 299.7L314.2 298.3L305.6 299.1Z" fill="#93b0ff" stroke="#93b0ff"/>
<path d="M305.6 299.1L314.2 298.3L307.2 297.0L298.5 297.7Z" fill="#95b1ff" stroke="#95b1ff"/>
<path d="M298.5 297.7L307.2 297.0L300.2 295.7L291.6 296.3Z" fill="#98b3ff" stroke="#98b3ff"/>
<path d="M291.6 296.3L300.2 295.7L293.4 294.4L284.8 295.0Z" fill="#9ab4ff" stroke="#9ab4ff"/>
<path d="M284.8 295.0L293.4 294.4L286.8 293.2L278.2 293.7Z" fill="#9cb6ff" stroke="#9cb6ff"/>
<path d="M278.2 293.7L286.8 293.2L280.3 292.0L271.7 292.4Z" fill="#9fb8ff" stroke="#9fb8ff"/>
<path d="M271.7 292.4L280.3 292.0L273.9 290.8L265.3 291.2Z" fill="#a1b9ff" stroke="#a1b9ff"/>
<path d="M265.3 291.2L273.9 290.8L267.6 289.6L259.0 289.9Z" fill="#a3bbff" stroke="#a3bbff"/>
<path d="M259.0 289.9L267.6 289.6L261.4 288.4L252.9 288.7Z" fill="#a6bdff" stroke="#a6bdff"/>
<path d="M252.9 288.7L261.4 288.4L255.4 287.3L246.9 287.5Z" fill="#a8beff" stroke="#a8beff"/>
<path d="M246.9 287.5L255.4 287.3L249.4 286.2L240.9 286.4Z" fill="#aac0ff" stroke="#aac0ff"/>
<path d="M344.0 303.9L352.5 302.9L344.8 301.5L336.3 302.4Z" fill="#7fa0ff" stroke="#7fa0ff"/>
<path d="M336.3 302.4L344.8 301.5L337.3 300.2L328.8 301.0Z" fill="#7fa0ff" stroke="#7fa0ff"/>
<path d="M328.8 301.0L337.3 300.2L329.9 298.9L321.4 299.7Z" fill="#80a1ff" stroke="#80a1ff"/>
<path d="M321.4 299.7L329.9 298.9L322.7 297.6L314.2 298.3Z" fill="#80a1ff" stroke="#80a1ff"/>
<path d="M314.2 298.3L322.7 297.6L315.6 296.3L307.2 297.0Z" fill="#80a1ff" stroke="#80a1ff"/>
<path d="M307.2 297.0L315.6 296.3L308.7 295.1L300.2 295.7Z" fill="#81a2ff" stroke="#81a2ff"/>
<path d="M300.2 295.7L308.7 295.1L301.9 293.9L293.4 294.4Z" fill="#81a2ff" stroke="#81a2ff"/>
<path d="M293.4 294.4L301.9 293.9L295.2 292.7L286.8 293.2Z" fill="#82a3ff" stroke="#82a3ff"/>
<path d="M286.8 293.2L295.2 292.7L288.7 291.5L280.3 292.0Z" fill="#82a3ff" stroke="#82a3ff"/>
<path d="M280.3 292.0L288.7 291.5L282.2 290.4L273.9 290.8Z" fill="#83a4ff" stroke="#83a4ff"/>
<path d="M273.9 290.8L282.2 290.4L275.9 289.3L267.6 289.6Z" fill="#83a4ff" stroke="#83a4ff"/>
<path d="M267.6 289.6L275.9 289.3L269.8 288.2L261.4 288.4Z" fill="#84a5ff" stroke="#84a5ff"/>
<path d="M261.4 288.4L269.8 288.2L263.7 287.1L255.4 287.3Z" fill="#84a5ff" stroke="#84a5ff"/>
<path d="M255.4 287.3L263.7 287.1L257.7 286.1L249.4 286.2Z" fill="#84a6ff" stroke="#84a6ff"/>
<path d="M352.5 302.9L360.9 301.9L353.2 300.6L344.8 301.5Z" fill="#7694ff" stroke="#7694ff"/>
<path d="M344.8 301.5L353.2 300.6L345.6 299.3L337.3 300.2Z" fill="#7594ff" stroke="#7594ff"/>
<path d="M337.3 300.2L345.6 299.3L338.3 298.1L329.9 298.9Z" fill="#7593ff" stroke="#7593ff"/>
<path d="M329.9 298.9L338.3 298.1L331.0 296.9L322.7 297.6Z" fill="#7492ff" stroke="#7492ff"/>
<path d="M322.7 297.6L331.0 296.9L323.9 295.7L315.6 296.3Z" fill="#7491ff" stroke="#7491ff"/>
<path d="M315.6 296.3L323.9 295.7L317.0 294.5L308.7 295.1Z" fill="#7391ff" stroke="#7391ff"/>
<path d="M308.7 295.1L317.0 294.5L310.2 293.4L301.9 293.9Z" fill="#7390ff" stroke="#7390ff"/>
<path d="M301.9 293.9L310.2 293.4L303.5 292.2L295.2 292.7Z" fill="#728fff" stroke="#728fff"/>
<path d="M295.2 292.7L303.5 292.2L296.9 291.1L288.7 291.5Z" fill="#728eff" stroke="#728eff"/>
<path d="M288.7 291.5L296.9 291.1L290.5 290.0L282.2 290.4Z" fill="#718eff" stroke="#718eff"/>
<path d="M282.2 290.4L290.5 290.0L284.2 289.0L275.9 289.3Z" fill="#718dff" stroke="#718dff"/>
<path d="M275.9 289.3L284.2 289.0L278.0 287.9L269.8 288.2Z" fill="#708cff" stroke="#708cff"/>
<path d="M269.8 288.2L278.0 287.9L271.9 286.9L263.7 287.1Z" fill="#708bff" stroke="#708bff"/>
<path d="M263.7 287.1L271.9 286.9L265.9 285.9L257.7 286.1Z" fill="#6f8bff" stroke="#6f8bff"/>
<path d="M360.9 301.9L369.0 300.9L361.3 299.7L353.2 300.6Z" fill="#6d89ff" stroke="#6d89ff"/>
<path d="M353.2 300.6L361.3 299.7L353.8 298.5L345.6 299.3Z" fill="#6b87ff" stroke="#6b87ff"/>
<path d="M345.6 299.3L353.8 298.5L346.4 297.3L338.3 298.1Z" fill="#6a85ff" stroke="#6a85ff"/>
<path d="M338.3 298.1L346.4 297.3L339.2 296.2L331.0 296.9Z" fill="#6983ff" stroke="#6983ff"/>
<path d="M331.0 296.9L339.2 296.2L332.1 295.0L323.9 295.7Z" fill="#6781ff" stroke="#6781ff"/>
<path d="M323.9 295.7L332.1 295.0L325.1 293.9L317.0 294.5Z" fill="#667fff" stroke="#667fff"/>
<path d="M317.0 294.5L325.1 293.9L318.3 292.8L310.2 293.4Z" fill="#647dff" stroke="#647dff"/>
<path d="M310.2 293.4L318.3 292.8L311.6 291.8L303.5 292.2Z" fill="#637cff" stroke="#637cff"/>
<path d="M303.5 292.2L311.6 291.8L305.0 290.7L296.9 291.1Z" fill="#617aff" stroke="#617aff"/>
<path d="M296.9 291.1L305.0 290.7L298.6 289.7L290.5 290.0Z" fill="#6078ff" stroke="#6078ff"/>
<path d="M290.5 290.0L298.6 289.7L292.2 288.7L284.2 289.0Z" fill="#5e76ff" stroke="#5e76ff"/>
<path d="M284.2 289.0L292.2 288.7L286.0 287.7L278.0 287.9Z" fill="#5d74ff" stroke="#5d74ff"/>
<path d="M278.0 287.9L286.0 287.7L279.9 286.7L271.9 286.9Z" fill="#5b72ff" stroke="#5b72ff"/>
<path d="M271.9 286.9L279.9 286.7L273.9 285.7L265.9 285.9Z" fill="#5a70ff" stroke="#5a70ff"/>
<path d="M369.0 300.9L377.0 300.0L369.4 298.8L361.3 299.7Z" fill="#647eff" stroke="#647eff"/>
<path d="M361.3 299.7L369.4 298.8L361.8 297.7L353.8 298.5Z" fill="#627bff" stroke="#627bff"/>
<path d="M353.8 298.5L361.8 297.7L354.4 296.6L346.4 297.3Z" fill="#5f78ff" stroke="#5f78ff"/>
<path d="M346.4 297.3L354.4 296.6L347.2 295.5L339.2 296.2Z" fill="#5d74ff" stroke="#5d74ff"/>
<path d="M339.2 296.2L347.2 295.5L340.1 294.4L332.1 295.0Z" fill="#5a71ff" stroke="#5a71ff"/>
<path d="M332.1 295.0L340.1 294.4L333.1 293.4L325.1 293.9Z" fill="#586eff" stroke="#586eff"/>
<path d="M325.1 293.9L333.1 293.4L326.2 292.3L318.3 292.8Z" fill="#566bfd" stroke="#566bfd"/>
<path d="M318.3 292.8L326.2 292.3L319.5 291.3L311.6 291.8Z" fill="#5368fc" stroke="#5368fc"/>
<path d="M311.6 291.8L319.5 291.3L312.9 290.3L305.0 290.7Z" fill="#5165fa" stroke="#5165fa"/>
<path d="M305.0 290.7L312.9 290.3L306.5 289.3L298.6 289.7Z" fill="#4e62f8" stroke="#4e62f8"/>
<path d="M298.6 289.7L306.5 289.3L300.1 288.4L292.2 288.7Z" fill="#4c5ff7" stroke="#4c5ff7"/>
<path d="M292.2 288.7L300.1 288.4L293.9 287.4L286.0 287.7Z" fill="#4a5bf5" stroke="#4a5bf5"/>
<path d="M286.0 287.7L293.9 287.4L287.8 286.5L279.9 286.7Z" fill="#4758f3" stroke="#4758f3"/>
<path d="M279.9 286.7L287.8 286.5L281.8 285.6L273.9 285.7Z" fill="#4555f2" stroke="#4555f2"/>
<path d="M377.0 300.0L384.9 299.1L377.2 298.0L369.4 298.8Z" fill="#5b73ff" stroke="#5b73ff"/>
<path d="M369.4 298.8L377.2 298.0L369.6 296.9L361.8 297.7Z" fill="#586eff" stroke="#586eff"/>
<path d="M361.8 297.7L369.6 296.9L362.2 295.9L354.4 296.6Z" fill="#546afc" stroke="#546afc"/>
<path d="M354.4 296.6L362.2 295.9L355.0 294.8L347.2 295.5Z" fill="#5166fa" stroke="#5166fa"/>
<path d="M347.2 295.5L355.0 294.8L347.9 293.8L340.1 294.4Z" fill="#4e61f7" stroke="#4e61f7"/>
<path d="M340.1 294.4L347.9 293.8L340.9 292.8L333.1 293.4Z" fill="#4a5df5" stroke="#4a5df5"/>
<path d="M333.1 293.4L340.9 292.8L334.1 291.8L326.2 292.3Z" fill="#4759f3" stroke="#4759f3"/>
<path d="M326.2 292.3L334.1 291.8L327.3 290.9L319.5 291.3Z" fill="#4454f0" stroke="#4454f0"/>
<path d="M319.5 291.3L327.3 290.9L320.7 289.9L312.9 290.3Z" fill="#4050ee" stroke="#4050ee"/>
<path d="M312.9 290.3L320.7 289.9L314.3 289.0L306.5 289.3Z" fill="#3d4ceb" stroke="#3d4ceb"/>
<path d="M306.5 289.3L314.3 289.0L307.9 288.1L300.1 288.4Z" fill="#3a47e9" stroke="#3a47e9"/>
<path d="M300.1 288.4L307.9 288.1L301.7 287.2L293.9 287.4Z" fill="#3643e7" stroke="#3643e7"/>
<path d="M293.9 287.4L301.7 287.2L295.5 286.3L287.8 286.5Z" fill="#333fe4" stroke="#333fe4"/>
<path d="M287.8 286.5L295.5 286.3L289.5 285.4L281.8 285.6Z" fill="#303ae2" stroke="#303ae2"/>
<path d="M384.9 299.1L392.6 297.8L384.9 296.7L377.2 298.0Z" fill="#586efe" stroke="#586efe"/>
<path d="M377.2 298.0L384.9 296.7L377.3 295.6L369.6 296.9Z" fill="#5469fc" stroke="#5469fc"/>
<path d="M369.6 296.9L377.3 295.6L369.9 294.6L362.2 295.9Z" fill="#5064f9" stroke="#5064f9"/>
<path d="M362.2 295.9L369.9 294.6L362.7 293.6L355.0 294.8Z" fill="#4c5ff6" stroke="#4c5ff6"/>
<path d="M355.0 294.8L362.7 293.6L355.6 292.6L347.9 293.8Z" fill="#485af3" stroke="#485af3"/>
<path d="M347.9 293.8L355.6 292.6L348.6 291.6L340.9 292.8Z" fill="#4455f1" stroke="#4455f1"/>
<path d="M340.9 292.8L348.6 291.6L341.7 290.6L334.1 291.8Z" fill="#4150ee" stroke="#4150ee"/>
<path d="M334.1 291.8L341.7 290.6L335.0 289.7L327.3 290.9Z" fill="#3d4ceb" stroke="#3d4ceb"/>
<path d="M327.3 290.9L335.0 289.7L328.4 288.8L320.7 289.9Z" fill="#3947e9" stroke="#3947e9"/>
<path d="M320.7 289.9L328.4 288.8L321.9 287.8L314.3 289.0Z" fill="#3542e6" stroke="#3542e6"/>
<path d="M314.3 289.0L321.9 287.8L315.5 287.0L307.9 288.1Z" fill="#313de3" stroke="#313de3"/>
<path d="M307.9 288.1L315.5 287.0L309.3 286.1L301.7 287.2Z" fill="#2e38e0" stroke="#2e38e0"/>
<path d="M301.7 287.2L309.3 286.1L303.1 285.2L295.5 286.3Z" fill="#2a33de" stroke="#2a33de"/>
<path d="M295.5 286.3L303.1 285.2L297.1 284.4L289.5 285.4Z" fill="#262edb" stroke="#262edb"/>
<path d="M392.6 297.8L400.1 296.4L392.4 295.4L384.9 296.7Z" fill="#5970ff" stroke="#5970ff"/>
<path d="M384.9 296.7L392.4 295.4L384.9 294.3L377.3 295.6Z" fill="#556bfd" stroke="#556bfd"/>
<path d="M377.3 295.6L384.9 294.3L377.5 293.3L369.9 294.6Z" fill="#5266fa" stroke="#5266fa"/>
<path d="M369.9 294.6L377.5 293.3L370.2 292.3L362.7 293.6Z" fill="#4e61f8" stroke="#4e61f8"/>
<path d="M362.7 293.6L370.2 292.3L363.1 291.4L355.6 292.6Z" fill="#4a5cf5" stroke="#4a5cf5"/>
<path d="M355.6 292.6L363.1 291.4L356.1 290.4L348.6 291.6Z" fill="#4657f2" stroke="#4657f2"/>
<path d="M348.6 291.6L356.1 290.4L349.2 289.5L341.7 290.6Z" fill="#4253ef" stroke="#4253ef"/>
<path d="M341.7 290.6L349.2 289.5L342.5 288.5L335.0 289.7Z" fill="#3f4eed" stroke="#3f4eed"/>
<path d="M335.0 289.7L342.5 288.5L335.9 287.6L328.4 288.8Z" fill="#3b49ea" stroke="#3b49ea"/>
<path d="M328.4 288.8L335.9 287.6L329.4 286.7L321.9 287.8Z" fill="#3744e7" stroke="#3744e7"/>
<path d="M321.9 287.8L329.4 286.7L323.0 285.8L315.5 287.0Z" fill="#333fe5" stroke="#333fe5"/>
<path d="M315.5 287.0L323.0 285.8L316.7 285.0L309.3 286.1Z" fill="#2f3ae2" stroke="#2f3ae2"/>
<path d="M309.3 286.1L316.7 285.0L310.6 284.1L303.1 285.2Z" fill="#2c35df" stroke="#2c35df"/>
<path d="M303.1 285.2L310.6 284.1L304.5 283.3L297.1 284.4Z" fill="#2830dd" stroke="#2830dd"/>
<path d="M400.1 296.4L407.5 295.2L399.8 294.1L392.4 295.4Z" fill="#5b72ff" stroke="#5b72ff"/>
<path d="M392.4 295.4L399.8 294.1L392.3 293.1L384.9 294.3Z" fill="#576dfe" stroke="#576dfe"/>
<path d="M384.9 294.3L392.3 293.1L384.9 292.1L377.5 293.3Z" fill="#5368fb" stroke="#5368fb"/>
<path d="M377.5 293.3L384.9 292.1L377.6 291.1L370.2 292.3Z" fill="#4f63f9" stroke="#4f63f9"/>
<path d="M370.2 292.3L377.6 291.1L370.5 290.2L363.1 291.4Z" fill="#4c5ef6" stroke="#4c5ef6"/>
<path d="M363.1 291.4L370.5 290.2L363.5 289.2L356.1 290.4Z" fill="#4859f3" stroke="#4859f3"/>
<path d="M356.1 290.4L363.5 289.2L356.6 288.3L349.2 289.5Z" fill="#4455f1" stroke="#4455f1"/>
<path d="M349.2 289.5L356.6 288.3L349.9 287.4L342.5 288.5Z" fill="#4050ee" stroke="#4050ee"/>
<path d="M342.5 288.5L349.9 287.4L343.2 286.5L335.9 287.6Z" fill="#3d4beb" stroke="#3d4beb"/>
<path d="M335.9 287.6L343.2 286.5L336.7 285.6L329.4 286.7Z" fill="#3946e9" stroke="#3946e9"/>
<path d="M329.4 286.7L336.7 285.6L330.4 284.8L323.0 285.8Z" fill="#3541e6" stroke="#3541e6"/>
<path d="M323.0 285.8L330.4 284.8L324.1 283.9L316.7 285.0Z" fill="#313de3" stroke="#313de3"/>
<path d="M316.7 285.0L324.1 283.9L317.9 283.1L310.6 284.1Z" fill="#2e38e1" stroke="#2e38e1"/>
<path d="M310.6 284.1L317.9 283.1L311.9 282.3L304.5 283.3Z" fill="#2a33de" stroke="#2a33de"/>
<path d="M407.5 295.2L414.7 293.9L407.1 292.9L399.8 294.1Z" fill="#5c73ff" stroke="#5c73ff"/>
<path d="M399.8 294.1L407.1 292.9L399.5 291.9L392.3 293.1Z" fill="#586fff" stroke="#586fff"/>
<path d="M392.3 293.1L399.5 291.9L392.1 290.9L384.9 292.1Z" fill="#556afd" stroke="#556afd"/>
<path d="M384.9 292.1L392.1 290.9L384.8 289.9L377.6 291.1Z" fill="#5165fa" stroke="#5165fa"/>
<path d="M377.6 291.1L384.8 289.9L377.7 289.0L370.5 290.2Z" fill="#4d60f8" stroke="#4d60f8"/>
<path d="M370.5 290.2L377.7 289.0L370.7 288.1L363.5 289.2Z" fill="#4a5bf5" stroke="#4a5bf5"/>
<path d="M363.5 289.2L370.7 288.1L363.8 287.2L356.6 288.3Z" fill="#4657f2" stroke="#4657f2"/>
<path d="M356.6 288.3L363.8 287.2L357.1 286.3L349.9 287.4Z" fill="#4252f0" stroke="#4252f0"/>
<path d="M349.9 287.4L357.1 286.3L350.5 285.4L343.2 286.5Z" fill="#3e4ded" stroke="#3e4ded"/>
<path d="M343.2 286.5L350.5 285.4L344.0 284.5L336.7 285.6Z" fill="#3b48ea" stroke="#3b48ea"/>
<path d="M336.7 285.6L344.0 284.5L337.6 283.7L330.4 284.8Z" fill="#3744e8" stroke="#3744e8"/>
<path d="M330.4 284.8L337.6 283.7L331.3 282.9L324.1 283.9Z" fill="#333fe5" stroke="#333fe5"/>
<path d="M324.1 283.9L331.3 282.9L325.1 282.1L317.9 283.1Z" fill="#303ae2" stroke="#303ae2"/>
<path d="M317.9 283.1L325.1 282.1L319.0 281.3L311.9 282.3Z" fill="#2c35e0" stroke="#2c35e0"/>
<path d="M414.7 293.9L421.8 292.7L414.2 291.7L407.1 292.9Z" fill="#5e75ff" stroke="#5e75ff"/>
<path d="M407.1 292.9L414.2 291.7L406.6 290.7L399.5 291.9Z" fill="#5a70ff" stroke="#5a70ff"/>
<path d="M399.5 291.9L406.6 290.7L399.2 289.7L392.1 290.9Z" fill="#566cfe" stroke="#566cfe"/>
<path d="M392.1 290.9L399.2 289.7L392.0 288.8L384.8 289.9Z" fill="#5367fb" stroke="#5367fb"/>
<path d="M384.8 289.9L392.0 288.8L384.8 287.9L377.7 289.0Z" fill="#4f62f9" stroke="#4f62f9"/>
<path d="M377.7 289.0L384.8 287.9L377.8 287.0L370.7 288.1Z" fill="#4b5ef6" stroke="#4b5ef6"/>
<path d="M370.7 288.1L377.8 287.0L371.0 286.1L363.8 287.2Z" fill="#4859f4" stroke="#4859f4"/>
<path d="M363.8 287.2L371.0 286.1L364.2 285.2L357.1 286.3Z" fill="#4454f1" stroke="#4454f1"/>
<path d="M357.1 286.3L364.2 285.2L357.6 284.3L350.5 285.4Z" fill="#404fee" stroke="#404fee"/>
<path d="M350.5 285.4L357.6 284.3L351.1 283.5L344.0 284.5Z" fill="#3d4bec" stroke="#3d4bec"/>
<path d="M344.0 284.5L351.1 283.5L344.7 282.7L337.6 283.7Z" fill="#3946e9" stroke="#3946e9"/>
<path d="M337.6 283.7L344.7 282.7L338.4 281.8L331.3 282.9Z" fill="#3541e7" stroke="#3541e7"/>
<path d="M331.3 282.9L338.4 281.8L332.2 281.0L325.1 282.1Z" fill="#323ce4" stroke="#323ce4"/>
<path d="M325.1 282.1L332.2 281.0L326.1 280.3L319.0 281.3Z" fill="#2e38e1" stroke="#2e38e1"/>
<path d="M421.8 292.7L428.8 291.4L421.1 290.5L414.2 291.7Z" fill="#5f77ff" stroke="#5f77ff"/>
<path d="M414.2 291.7L421.1 290.5L413.6 289.5L406.6 290.7Z" fill="#5c72ff" stroke="#5c72ff"/>
<path d="M406.6 290.7L413.6 289.5L406.2 288.6L399.2 289.7Z" fill="#586eff" stroke="#586eff"/>
<path d="M399.2 289.7L406.2 288.6L398.9 287.6L392.0 288.8Z" fill="#5469fd" stroke="#5469fd"/>
<path d="M392.0 288.8L398.9 287.6L391.8 286.7L384.8 287.9Z" fill="#5164fa" stroke="#5164fa"/>
<path d="M384.8 287.9L391.8 286.7L384.8 285.8L377.8 287.0Z" fill="#4d60f8" stroke="#4d60f8"/>
<path d="M377.8 287.0L384.8 285.8L377.9 285.0L371.0 286.1Z" fill="#495bf5" stroke="#495bf5"/>
<path d="M371.0 286.1L377.9 285.0L371.2 284.1L364.2 285.2Z" fill="#4656f2" stroke="#4656f2"/>
<path d="M364.2 285.2L371.2 284.1L364.6 283.3L357.6 284.3Z" fill="#4252f0" stroke="#4252f0"/>
<path d="M357.6 284.3L364.6 283.3L358.0 282.4L351.1 283.5Z" fill="#3e4ded" stroke="#3e4ded"/>
<path d="M351.1 283.5L358.0 282.4L351.6 281.6L344.7 282.7Z" fill="#3b48eb" stroke="#3b48eb"/>
<path d="M344.7 282.7L351.6 281.6L345.3 280.8L338.4 281.8Z" fill="#3744e8" stroke="#3744e8"/>
<path d="M338.4 281.8L345.3 280.8L339.2 280.0L332.2 281.0Z" fill="#343fe6" stroke="#343fe6"/>
<path d="M332.2 281.0L339.2 280.0L333.1 279.3L326.1 280.3Z" fill="#303ae3" stroke="#303ae3"/>
<path d="M428.8 291.4L435.7 290.3L428.0 289.3L421.1 290.5Z" fill="#6179ff" stroke="#6179ff"/>
<path d="M421.1 290.5L428.0 289.3L420.5 288.4L413.6 289.5Z" fill="#5d74ff" stroke="#5d74ff"/>
<path d="M413.6 289.5L420.5 288.4L413.1 287.4L406.2 288.6Z" fill="#596fff" stroke="#596fff"/>
<path d="M406.2 288.6L413.1 287.4L405.8 286.5L398.9 287.6Z" fill="#566bfe" stroke="#566bfe"/>
<path d="M398.9 287.6L405.8 286.5L398.7 285.6L391.8 286.7Z" fill="#5266fc" stroke="#5266fc"/>
<path d="M391.8 286.7L398.7 285.6L391.7 284.8L384.8 285.8Z" fill="#4f62f9" stroke="#4f62f9"/>
<path d="M384.8 285.8L391.7 284.8L384.8 283.9L377.9 285.0Z" fill="#4b5df6" stroke="#4b5df6"/>
<path d="M377.9 285.0L384.8 283.9L378.1 283.1L371.2 284.1Z" fill="#4858f4" stroke="#4858f4"/>
<path d="M371.2 284.1L378.1 283.1L371.4 282.2L364.6 283.3Z" fill="#4454f1" stroke="#4454f1"/>
<path d="M364.6 283.3L371.4 282.2L364.9 281.4L358.0 282.4Z" fill="#404fef" stroke="#404fef"/>
<path d="M358.0 282.4L364.9 281.4L358.5 280.6L351.6 281.6Z" fill="#3d4aec" stroke="#3d4aec"/>
<path d="M351.6 281.6L358.5 280.6L352.2 279.8L345.3 280.8Z" fill="#3946ea" stroke="#3946ea"/>
<path d="M345.3 280.8L352.2 279.8L346.0 279.1L339.2 280.0Z" fill="#3641e7" stroke="#3641e7"/>
<path d="M339.2 280.0L346.0 279.1L339.9 278.3L333.1 279.3Z" fill="#323de5" stroke="#323de5"/>
<path d="M435.7 290.3L442.4 289.1L434.7 288.1L428.0 289.3Z" fill="#627bff" stroke="#627bff"/>
<path d="M428.0 289.3L434.7 288.1L427.2 287.2L420.5 288.4Z" fill="#5f76ff" stroke="#5f76ff"/>
<path d="M420.5 288.4L427.2 287.2L419.8 286.3L413.1 287.4Z" fill="#5b71ff" stroke="#5b71ff"/>
<path d="M413.1 287.4L419.8 286.3L412.5 285.4L405.8 286.5Z" fill="#576dff" stroke="#576dff"/>
<path d="M405.8 286.5L412.5 285.4L405.4 284.6L398.7 285.6Z" fill="#5468fd" stroke="#5468fd"/>
<path d="M398.7 285.6L405.4 284.6L398.4 283.7L391.7 284.8Z" fill="#5064fa" stroke="#5064fa"/>
<path d="M391.7 284.8L398.4 283.7L391.6 282.9L384.8 283.9Z" fill="#4d5ff8" stroke="#4d5ff8"/>
<path d="M384.8 283.9L391.6 282.9L384.8 282.0L378.1 283.1Z" fill="#495af5" stroke="#495af5"/>
<path d="M378.1 283.1L384.8 282.0L378.2 281.2L371.4 282.2Z" fill="#4656f3" stroke="#4656f3"/>
<path d="M371.4 282.2L378.2 281.2L371.6 280.4L364.9 281.4Z" fill="#4251f0" stroke="#4251f0"/>
<path d="M364.9 281.4L371.6 280.4L365.2 279.6L358.5 280.6Z" fill="#3f4dee" stroke="#3f4dee"/>
<path d="M358.5 280.6L365.2 279.6L358.9 278.9L352.2 279.8Z" fill="#3b48eb" stroke="#3b48eb"/>
<path d="M352.2 279.8L358.9 278.9L352.7 278.1L346.0 279.1Z" fill="#3844e9" stroke="#3844e9"/>
<path d="M346.0 279.1L352.7 278.1L346.6 277.3L339.9 278.3Z" fill="#343fe6" stroke="#343fe6"/>
<path d="M442.4 289.1L449.0 287.9L441.3 287.0L434.7 288.1Z" fill="#647cff" stroke="#647cff"/>
<path d="M434.7 288.1L441.3 287.0L433.8 286.1L427.2 287.2Z" fill="#6078ff" stroke="#6078ff"/>
<path d="M427.2 287.2L433.8 286.1L426.4 285.2L419.8 286.3Z" fill="#5d73ff" stroke="#5d73ff"/>
<path d="M419.8 286.3L426.4 285.2L419.2 284.4L412.5 285.4Z" fill="#596fff" stroke="#596fff"/>
<path d="M412.5 285.4L419.2 284.4L412.0 283.5L405.4 284.6Z" fill="#566afe" stroke="#566afe"/>
<path d="M405.4 284.6L412.0 283.5L405.0 282.6L398.4 283.7Z" fill="#5266fc" stroke="#5266fc"/>
<path d="M398.4 283.7L405.0 282.6L398.2 281.8L391.6 282.9Z" fill="#4f61f9" stroke="#4f61f9"/>
<path d="M391.6 282.9L398.2 281.8L391.4 281.0L384.8 282.0Z" fill="#4b5df7" stroke="#4b5df7"/>
<path d="M384.8 282.0L391.4 281.0L384.8 280.2L378.2 281.2Z" fill="#4858f4" stroke="#4858f4"/>
<path d="M378.2 281.2L384.8 280.2L378.3 279.4L371.6 280.4Z" fill="#4454f2" stroke="#4454f2"/>
<path d="M371.6 280.4L378.3 279.4L371.8 278.6L365.2 279.6Z" fill="#414fef" stroke="#414fef"/>
<path d="M365.2 279.6L371.8 278.6L365.5 277.9L358.9 278.9Z" fill="#3d4aed" stroke="#3d4aed"/>
<path d="M358.9 278.9L365.5 277.9L359.3 277.1L352.7 278.1Z" fill="#3946ea" stroke="#3946ea"/>
<path d="M352.7 278.1L359.3 277.1L353.2 276.4L346.6 277.3Z" fill="#3641e8" stroke="#3641e8"/>
<path d="M449.0 287.9L455.4 286.8L447.8 285.9L441.3 287.0Z" fill="#657eff" stroke="#657eff"/>
<path d="M441.3 287.0L447.8 285.9L440.3 285.0L433.8 286.1Z" fill="#627aff" stroke="#627aff"/>
<path d="M433.8 286.1L440.3 285.0L432.9 284.1L426.4 285.2Z" fill="#5e75ff" stroke="#5e75ff"/>
<path d="M426.4 285.2L432.9 284.1L425.7 283.3L419.2 284.4Z" fill="#5b71ff" stroke="#5b71ff"/>
<path d="M419.2 284.4L425.7 283.3L418.5 282.4L412.0 283.5Z" fill="#576cff" stroke="#576cff"/>
<path d="M412.0 283.5L418.5 282.4L411.6 281.6L405.0 282.6Z" fill="#5468fd" stroke="#5468fd"/>
<path d="M405.0 282.6L411.6 281.6L404.7 280.8L398.2 281.8Z" fill="#5063fb" stroke="#5063fb"/>
<path d="M398.2 281.8L404.7 280.8L397.9 280.0L391.4 281.0Z" fill="#4d5ff8" stroke="#4d5ff8"/>
<path d="M391.4 281.0L397.9 280.0L391.3 279.2L384.8 280.2Z" fill="#495af6" stroke="#495af6"/>
<path d="M384.8 280.2L391.3 279.2L384.8 278.4L378.3 279.4Z" fill="#4656f3" stroke="#4656f3"/>
<path d="M378.3 279.4L384.8 278.4L378.4 277.7L371.8 278.6Z" fill="#4251f1" stroke="#4251f1"/>
<path d="M371.8 278.6L378.4 277.7L372.1 276.9L365.5 277.9Z" fill="#3f4dee" stroke="#3f4dee"/>
<path d="M365.5 277.9L372.1 276.9L365.8 276.2L359.3 277.1Z" fill="#3b48ec" stroke="#3b48ec"/>
<path d="M359.3 277.1L365.8 276.2L359.7 275.5L353.2 276.4Z" fill="#3844e9" stroke="#3844e9"/>
<path d="M455.4 286.8L461.8 285.7L454.1 284.8L447.8 285.9Z" fill="#6780ff" stroke="#6780ff"/>
<path d="M447.8 285.9L454.1 284.8L446.6 283.9L440.3 285.0Z" fill="#637bff" stroke="#637bff"/>
<path d="M440.3 285.0L446.6 283.9L439.3 283.1L432.9 284.1Z" fill="#6077ff" stroke="#6077ff"/>
<path d="M432.9 284.1L439.3 283.1L432.0 282.2L425.7 283.3Z" fill="#5c73ff" stroke="#5c73ff"/>
<path d="M425.7 283.3L432.0 282.2L424.9 281.4L418.5 282.4Z" fill="#596eff" stroke="#596eff"/>
<path d="M418.5 282.4L424.9 281.4L418.0 280.6L411.6 281.6Z" fill="#566afe" stroke="#566afe"/>
<path d="M411.6 281.6L418.0 280.6L411.1 279.8L404.7 280.8Z" fill="#5265fc" stroke="#5265fc"/>
<path d="M404.7 280.8L411.1 279.8L404.3 279.0L397.9 280.0Z" fill="#4f61fa" stroke="#4f61fa"/>
<path d="M397.9 280.0L404.3 279.0L397.7 278.2L391.3 279.2Z" fill="#4b5cf7" stroke="#4b5cf7"/>
<path d="M391.3 279.2L397.7 278.2L391.2 277.5L384.8 278.4Z" fill="#4858f5" stroke="#4858f5"/>
<path d="M384.8 278.4L391.2 277.5L384.8 276.7L378.4 277.7Z" fill="#4454f2" stroke="#4454f2"/>
<path d="M378.4 277.7L384.8 276.7L378.5 276.0L372.1 276.9Z" fill="#414ff0" stroke="#414ff0"/>
<path d="M372.1 276.9L378.5 276.0L372.2 275.3L365.8 276.2Z" fill="#3d4bed" stroke="#3d4bed"/>
<path d="M365.8 276.2L372.2 275.3L366.1 274.6L359.7 275.5Z" fill="#3a46eb" stroke="#3a46eb"/>
<path d="M461.8 285.7L468.0 284.6L460.4 283.8L454.1 284.8Z" fill="#6882ff" stroke="#6882ff"/>
<path d="M454.1 284.8L460.4 283.8L452.9 282.9L446.6 283.9Z" fill="#657dff" stroke="#657dff"/>
<path d="M446.6 283.9L452.9 282.9L445.5 282.1L439.3 283.1Z" fill="#6179ff" stroke="#6179ff"/>
<path d="M439.3 283.1L445.5 282.1L438.3 281.2L432.0 282.2Z" fill="#5e75ff" stroke="#5e75ff"/>
<path d="M432.0 282.2L438.3 281.2L431.2 280.4L424.9 281.4Z" fill="#5b70ff" stroke="#5b70ff"/>
<path d="M424.9 281.4L431.2 280.4L424.2 279.6L418.0 280.6Z" fill="#576cff" stroke="#576cff"/>
<path d="M418.0 280.6L424.2 279.6L417.4 278.8L411.1 279.8Z" fill="#5467fd" stroke="#5467fd"/>
<path d="M411.1 279.8L417.4 278.8L410.6 278.1L404.3 279.0Z" fill="#5063fb" stroke="#5063fb"/>
<path d="M404.3 279.0L410.6 278.1L404.0 277.3L397.7 278.2Z" fill="#4d5ff9" stroke="#4d5ff9"/>
<path d="M397.7 278.2L404.0 277.3L397.5 276.5L391.2 277.5Z" fill="#4a5af6" stroke="#4a5af6"/>
<path d="M391.2 277.5L397.5 276.5L391.1 275.8L384.8 276.7Z" fill="#4656f4" stroke="#4656f4"/>
<path d="M384.8 276.7L391.1 275.8L384.8 275.1L378.5 276.0Z" fill="#4351f1" stroke="#4351f1"/>
<path d="M378.5 276.0L384.8 275.1L378.5 274.4L372.2 275.3Z" fill="#3f4def" stroke="#3f4def"/>
<path d="M372.2 275.3L378.5 274.4L372.4 273.7L366.1 274.6Z" fill="#3c49ed" stroke="#3c49ed"/>
<path d="M468.0 284.6L474.1 283.6L466.5 282.7L460.4 283.8Z" fill="#6a83ff" stroke="#6a83ff"/>
<path d="M460.4 283.8L466.5 282.7L459.1 281.9L452.9 282.9Z" fill="#667fff" stroke="#667fff"/>
<path d="M452.9 282.9L459.1 281.9L451.7 281.0L445.5 282.1Z" fill="#637bff" stroke="#637bff"/>
<path d="M445.5 282.1L451.7 281.0L444.5 280.2L438.3 281.2Z" fill="#6076ff" stroke="#6076ff"/>
<path d="M438.3 281.2L444.5 280.2L437.4 279.4L431.2 280.4Z" fill="#5c72ff" stroke="#5c72ff"/>
<path d="M431.2 280.4L437.4 279.4L430.4 278.6L424.2 279.6Z" fill="#596eff" stroke="#596eff"/>
<path d="M424.2 279.6L430.4 278.6L423.6 277.9L417.4 278.8Z" fill="#5669ff" stroke="#5669ff"/>
<path d="M417.4 278.8L423.6 277.9L416.8 277.1L410.6 278.1Z" fill="#5265fc" stroke="#5265fc"/>
<path d="M410.6 278.1L416.8 277.1L410.2 276.4L404.0 277.3Z" fill="#4f61fa" stroke="#4f61fa"/>
<path d="M404.0 277.3L410.2 276.4L403.7 275.6L397.5 276.5Z" fill="#4b5cf8" stroke="#4b5cf8"/>
<path d="M397.5 276.5L403.7 275.6L397.3 274.9L391.1 275.8Z" fill="#4858f5" stroke="#4858f5"/>
<path d="M391.1 275.8L397.3 274.9L391.0 274.2L384.8 275.1Z" fill="#4554f3" stroke="#4554f3"/>
<path d="M384.8 275.1L391.0 274.2L384.7 273.5L378.5 274.4Z" fill="#414ff1" stroke="#414ff1"/>
<path d="M378.5 274.4L384.7 273.5L378.6 272.8L372.4 273.7Z" fill="#3e4bee" stroke="#3e4bee"/>
<path d="M474.1 283.6L480.1 282.5L472.6 281.7L466.5 282.7Z" fill="#6b85ff" stroke="#6b85ff"/>
<path d="M466.5 282.7L472.6 281.7L465.1 280.8L459.1 281.9Z" fill="#6881ff" stroke="#6881ff"/>
<path d="M459.1 281.9L465.1 280.8L457.8 280.0L451.7 281.0Z" fill="#657dff" stroke="#657dff"/>
<path d="M451.7 281.0L457.8 280.0L450.6 279.2L444.5 280.2Z" fill="#6178ff" stroke="#6178ff"/>
<path d="M444.5 280.2L450.6 279.2L443.5 278.4L437.4 279.4Z" fill="#5e74ff" stroke="#5e74ff"/>
<path d="M437.4 279.4L443.5 278.4L436.5 277.7L430.4 278.6Z" fill="#5b70ff" stroke="#5b70ff"/>
<path d="M430.4 278.6L436.5 277.7L429.7 276.9L423.6 277.9Z" fill="#576cff" stroke="#576cff"/>
<path d="M423.6 277.9L429.7 276.9L422.9 276.2L416.8 277.1Z" fill="#5467fe" stroke="#5467fe"/>
<path d="M416.8 277.1L422.9 276.2L416.3 275.4L410.2 276.4Z" fill="#5163fc" stroke="#5163fc"/>
<path d="M410.2 276.4L416.3 275.4L409.8 274.7L403.7 275.6Z" fill="#4d5ff9" stroke="#4d5ff9"/>
<path d="M403.7 275.6L409.8 274.7L403.4 274.0L397.3 274.9Z" fill="#4a5af7" stroke="#4a5af7"/>
<path d="M397.3 274.9L403.4 274.0L397.1 273.3L391.0 274.2Z" fill="#4756f4" stroke="#4756f4"/>
<path d="M391.0 274.2L397.1 273.3L390.9 272.6L384.7 273.5Z" fill="#4352f2" stroke="#4352f2"/>
<path d="M384.7 273.5L390.9 272.6L384.7 271.9L378.6 272.8Z" fill="#404df0" stroke="#404df0"/>
<path d="M480.1 282.5L486.1 281.8L478.5 280.9L472.6 281.7Z" fill="#6983ff" stroke="#6983ff"/>
<path d="M472.6 281.7L478.5 280.9L471.0 280.1L465.1 280.8Z" fill="#677fff" stroke="#677fff"/>
<path d="M465.1 280.8L471.0 280.1L463.7 279.2L457.8 280.0Z" fill="#647bff" stroke="#647bff"/>
<path d="M457.8 280.0L463.7 279.2L456.5 278.4L450.6 279.2Z" fill="#6178ff" stroke="#6178ff"/>
<path d="M450.6 279.2L456.5 278.4L449.4 277.6L443.5 278.4Z" fill="#5e74ff" stroke="#5e74ff"/>
<path d="M443.5 278.4L449.4 277.6L442.5 276.8L436.5 277.7Z" fill="#5b70ff" stroke="#5b70ff"/>
<path d="M436.5 277.7L442.5 276.8L435.6 276.0L429.7 276.9Z" fill="#586cff" stroke="#586cff"/>
<path d="M429.7 276.9L435.6 276.0L428.9 275.3L422.9 276.2Z" fill="#5568ff" stroke="#5568ff"/>
<path d="M422.9 276.2L428.9 275.3L422.3 274.5L416.3 275.4Z" fill="#5265fd" stroke="#5265fd"/>
<path d="M416.3 275.4L422.3 274.5L415.8 273.8L409.8 274.7Z" fill="#4f61fb" stroke="#4f61fb"/>
<path d="M409.8 274.7L415.8 273.8L409.4 273.1L403.4 274.0Z" fill="#4c5df9" stroke="#4c5df9"/>
<path d="M403.4 274.0L409.4 273.1L403.1 272.4L397.1 273.3Z" fill="#4959f7" stroke="#4959f7"/>
<path d="M397.1 273.3L403.1 272.4L396.9 271.7L390.9 272.6Z" fill="#4655f4" stroke="#4655f4"/>
<path d="M390.9 272.6L396.9 271.7L390.7 271.0L384.7 271.9Z" fill="#4352f2" stroke="#4352f2"/>
<path d="M486.1 281.8L491.9 281.0L484.3 280.1L478.5 280.9Z" fill="#647cff" stroke="#647cff"/>
<path d="M478.5 280.9L484.3 280.1L476.9 279.3L471.0 280.1Z" fill="#627aff" stroke="#627aff"/>
<path d="M471.0 280.1L476.9 279.3L469.6 278.4L463.7 279.2Z" fill="#6077ff" stroke="#6077ff"/>
<path d="M463.7 279.2L469.6 278.4L462.4 277.6L456.5 278.4Z" fill="#5e74ff" stroke="#5e74ff"/>
<path d="M456.5 278.4L462.4 277.6L455.3 276.8L449.4 277.6Z" fill="#5c71ff" stroke="#5c71ff"/>
<path d="M449.4 277.6L455.3 276.8L448.4 276.0L442.5 276.8Z" fill="#5a6eff" stroke="#5a6eff"/>
<path d="M442.5 276.8L448.4 276.0L441.5 275.2L435.6 276.0Z" fill="#576bff" stroke="#576bff"/>
<path d="M435.6 276.0L441.5 275.2L434.8 274.4L428.9 275.3Z" fill="#5569ff" stroke="#5569ff"/>
<path d="M428.9 275.3L434.8 274.4L428.2 273.7L422.3 274.5Z" fill="#5366fe" stroke="#5366fe"/>
<path d="M422.3 274.5L428.2 273.7L421.7 272.9L415.8 273.8Z" fill="#5163fc" stroke="#5163fc"/>
<path d="M415.8 273.8L421.7 272.9L415.3 272.2L409.4 273.1Z" fill="#4f60fb" stroke="#4f60fb"/>
<path d="M409.4 273.1L415.3 272.2L409.0 271.4L403.1 272.4Z" fill="#4d5df9" stroke="#4d5df9"/>
<path d="M403.1 272.4L409.0 271.4L402.8 270.7L396.9 271.7Z" fill="#4a5bf8" stroke="#4a5bf8"/>
<path d="M396.9 271.7L402.8 270.7L396.7 270.0L390.7 271.0Z" fill="#4858f6" stroke="#4858f6"/>
<path d="M491.9 281.0L497.6 280.3L490.0 279.4L484.3 280.1Z" fill="#5f76ff" stroke="#5f76ff"/>
<path d="M484.3 280.1L490.0 279.4L482.6 278.5L476.9 279.3Z" fill="#5e74ff" stroke="#5e74ff"/>
<path d="M476.9 279.3L482.6 278.5L475.3 277.7L469.6 278.4Z" fill="#5d72ff" stroke="#5d72ff"/>
<path d="M469.6 278.4L475.3 277.7L468.1 276.8L462.4 277.6Z" fill="#5b70ff" stroke="#5b70ff"/>
<path d="M462.4 277.6L468.1 276.8L461.1 276.0L455.3 276.8Z" fill="#5a6fff" stroke="#5a6fff"/>
<path d="M455.3 276.8L461.1 276.0L454.1 275.2L448.4 276.0Z" fill="#586dff" stroke="#586dff"/>
<path d="M448.4 276.0L454.1 275.2L447.3 274.4L441.5 275.2Z" fill="#576bff" stroke="#576bff"/>
<path d="M441.5 275.2L447.3 274.4L440.6 273.6L434.8 274.4Z" fill="#5669ff" stroke="#5669ff"/>
<path d="M434.8 274.4L440.6 273.6L434.0 272.8L428.2 273.7Z" fill="#5467fe" stroke="#5467fe"/>
<path d="M428.2 273.7L434.0 272.8L427.5 272.0L421.7 272.9Z" fill="#5365fe" stroke="#5365fe"/>
<path d="M421.7 272.9L427.5 272.0L421.1 271.3L415.3 272.2Z" fill="#5163fd" stroke="#5163fd"/>
<path d="M415.3 272.2L421.1 271.3L414.8 270.5L409.0 271.4Z" fill="#5061fc" stroke="#5061fc"/>
<path d="M409.0 271.4L414.8 270.5L408.6 269.8L402.8 270.7Z" fill="#4f60fb" stroke="#4f60fb"/>
<path d="M402.8 270.7L408.6 269.8L402.5 269.1L396.7 270.0Z" fill="#4d5efa" stroke="#4d5efa"/>
<path d="M497.6 280.3L503.2 279.6L495.6 278.7L490.0 279.4Z" fill="#5a70ff" stroke="#5a70ff"/>
<path d="M490.0 279.4L495.6 278.7L488.2 277.8L482.6 278.5Z" fill="#5a6fff" stroke="#5a6fff"/>
<path d="M482.6 278.5L488.2 277.8L481.0 276.9L475.3 277.7Z" fill="#596eff" stroke="#596eff"/>
<path d="M475.3 277.7L481.0 276.9L473.8 276.0L468.1 276.8Z" fill="#586dff" stroke="#586dff"/>
<path d="M468.1 276.8L473.8 276.0L466.8 275.2L461.1 276.0Z" fill="#586cff" stroke="#586cff"/>
<path d="M461.1 276.0L466.8 275.2L459.8 274.4L454.1 275.2Z" fill="#576bff" stroke="#576bff"/>
<path d="M454.1 275.2L459.8 274.4L453.0 273.5L447.3 274.4Z" fill="#566aff" stroke="#566aff"/>
<path d="M447.3 274.4L453.0 273.5L446.3 272.7L440.6 273.6Z" fill="#5669ff" stroke="#5669ff"/>
<path d="M440.6 273.6L446.3 272.7L439.7 271.9L434.0 272.8Z" fill="#5568ff" stroke="#5568ff"/>
<path d="M434.0 272.8L439.7 271.9L433.2 271.2L427.5 272.0Z" fill="#5567ff" stroke="#5567ff"/>
<path d="M427.5 272.0L433.2 271.2L426.8 270.4L421.1 271.3Z" fill="#5466ff" stroke="#5466ff"/>
<path d="M421.1 271.3L426.8 270.4L420.5 269.6L414.8 270.5Z" fill="#5365fe" stroke="#5365fe"/>
<path d="M414.8 270.5L420.5 269.6L414.3 268.9L408.6 269.8Z" fill="#5365fe" stroke="#5365fe"/>
<path d="M408.6 269.8L414.3 268.9L408.2 268.2L402.5 269.1Z" fill="#5264fe" stroke="#5264fe"/>
<path d="M503.2 279.6L508.7 278.9L501.2 277.9L495.6 278.7Z" fill="#5569ff" stroke="#5569ff"/>
<path d="M495.6 278.7L501.2 277.9L493.8 277.0L488.2 277.8Z" fill="#5569ff" stroke="#5569ff"/>
<path d="M488.2 277.8L493.8 277.0L486.5 276.1L481.0 276.9Z" fill="#5569ff" stroke="#5569ff"/>
<path d="M481.0 276.9L486.5 276.1L479.4 275.3L473.8 276.0Z" fill="#5669ff" stroke="#5669ff"/>
<path d="M473.8 276.0L479.4 275.3L472.3 274.4L466.8 275.2Z" fill="#5669ff" stroke="#5669ff"/>
<path d="M466.8 275.2L472.3 274.4L465.4 273.6L459.8 274.4Z" fill="#5669ff" stroke="#5669ff"/>
<path d="M459.8 274.4L465.4 273.6L458.6 272.7L453.0 273.5Z" fill="#5669ff" stroke="#5669ff"/>
<path d="M453.0 273.5L458.6 272.7L451.9 271.9L446.3 272.7Z" fill="#5669ff" stroke="#5669ff"/>
<path d="M446.3 272.7L451.9 271.9L445.3 271.1L439.7 271.9Z" fill="#5669ff" stroke="#5669ff"/>
<path d="M439.7 271.9L445.3 271.1L438.8 270.3L433.2 271.2Z" fill="#5669ff" stroke="#5669ff"/>
<path d="M433.2 271.2L438.8 270.3L432.5 269.5L426.8 270.4Z" fill="#566aff" stroke="#566aff"/>
<path d="M426.8 270.4L432.5 269.5L426.2 268.8L420.5 269.6Z" fill="#576aff" stroke="#576aff"/>
<path d="M420.5 269.6L426.2 268.8L420.0 268.0L414.3 268.9Z" fill="#576aff" stroke="#576aff"/>
<path d="M414.3 268.9L420.0 268.0L413.9 267.3L408.2 268.2Z" fill="#576aff" stroke="#576aff"/>
<path d="M508.7 278.9L514.1 278.2L506.6 277.2L501.2 277.9Z" fill="#5063fb" stroke="#5063fb"/>
<path d="M501.2 277.9L506.6 277.2L499.2 276.3L493.8 277.0Z" fill="#5164fc" stroke="#5164fc"/>
<path d="M493.8 277.0L499.2 276.3L492.0 275.4L486.5 276.1Z" fill="#5265fd" stroke="#5265fd"/>
<path d="M486.5 276.1L492.0 275.4L484.9 274.5L479.4 275.3Z" fill="#5366fd" stroke="#5366fd"/>
<path d="M479.4 275.3L484.9 274.5L477.8 273.6L472.3 274.4Z" fill="#5467fe" stroke="#5467fe"/>
<path d="M472.3 274.4L477.8 273.6L470.9 272.8L465.4 273.6Z" fill="#5568ff" stroke="#5568ff"/>
<path d="M465.4 273.6L470.9 272.8L464.1 271.9L458.6 272.7Z" fill="#5569ff" stroke="#5569ff"/>
<path d="M458.6 272.7L464.1 271.9L457.5 271.1L451.9 271.9Z" fill="#566aff" stroke="#566aff"/>
<path d="M451.9 271.9L457.5 271.1L450.9 270.3L445.3 271.1Z" fill="#576bff" stroke="#576bff"/>
<path d="M445.3 271.1L450.9 270.3L444.4 269.5L438.8 270.3Z" fill="#586cff" stroke="#586cff"/>
<path d="M438.8 270.3L444.4 269.5L438.0 268.7L432.5 269.5Z" fill="#596dff" stroke="#596dff"/>
<path d="M432.5 269.5L438.0 268.7L431.7 267.9L426.2 268.8Z" fill="#5a6eff" stroke="#5a6eff"/>
<path d="M426.2 268.8L431.7 267.9L425.5 267.1L420.0 268.0Z" fill="#5b6fff" stroke="#5b6fff"/>
<path d="M420.0 268.0L425.5 267.1L419.4 266.4L413.9 267.3Z" fill="#5c70ff" stroke="#5c70ff"/>
<path d="M514.1 278.2L519.4 277.5L511.9 276.5L506.6 277.2Z" fill="#4b5cf7" stroke="#4b5cf7"/>
<path d="M506.6 277.2L511.9 276.5L504.6 275.6L499.2 276.3Z" fill="#4d5ef9" stroke="#4d5ef9"/>
<path d="M499.2 276.3L504.6 275.6L497.4 274.7L492.0 275.4Z" fill="#4e60fa" stroke="#4e60fa"/>
<path d="M492.0 275.4L497.4 274.7L490.2 273.8L484.9 274.5Z" fill="#5062fb" stroke="#5062fb"/>
<path d="M484.9 274.5L490.2 273.8L483.2 272.9L477.8 273.6Z" fill="#5264fd" stroke="#5264fd"/>
<path d="M477.8 273.6L483.2 272.9L476.4 272.0L470.9 272.8Z" fill="#5366fe" stroke="#5366fe"/>
<path d="M470.9 272.8L476.4 272.0L469.6 271.2L464.1 271.9Z" fill="#5568ff" stroke="#5568ff"/>
<path d="M464.1 271.9L469.6 271.2L462.9 270.3L457.5 271.1Z" fill="#576aff" stroke="#576aff"/>
<path d="M457.5 271.1L462.9 270.3L456.3 269.5L450.9 270.3Z" fill="#586cff" stroke="#586cff"/>
<path d="M450.9 270.3L456.3 269.5L449.8 268.6L444.4 269.5Z" fill="#5a6eff" stroke="#5a6eff"/>
<path d="M444.4 269.5L449.8 268.6L443.5 267.8L438.0 268.7Z" fill="#5c70ff" stroke="#5c70ff"/>
<path d="M438.0 268.7L443.5 267.8L437.2 267.0L431.7 267.9Z" fill="#5d72ff" stroke="#5d72ff"/>
<path d="M431.7 267.9L437.2 267.0L431.0 266.3L425.5 267.1Z" fill="#5f74ff" stroke="#5f74ff"/>
<path d="M425.5 267.1L431.0 266.3L424.9 265.5L419.4 266.4Z" fill="#6176ff" stroke="#6176ff"/>
<path d="M519.4 277.5L524.7 276.8L517.2 275.8L511.9 276.5Z" fill="#4656f4" stroke="#4656f4"/>
<path d="M511.9 276.5L517.2 275.8L509.9 274.9L504.6 275.6Z" fill="#4859f6" stroke="#4859f6"/>
<path d="M504.6 275.6L509.9 274.9L502.7 274.0L497.4 274.7Z" fill="#4b5bf7" stroke="#4b5bf7"/>
<path d="M497.4 274.7L502.7 274.0L495.6 273.0L490.2 273.8Z" fill="#4d5ef9" stroke="#4d5ef9"/>
<path d="M490.2 273.8L495.6 273.0L488.6 272.1L483.2 272.9Z" fill="#5061fb" stroke="#5061fb"/>
<path d="M483.2 272.9L488.6 272.1L481.7 271.3L476.4 272.0Z" fill="#5264fd" stroke="#5264fd"/>
<path d="M476.4 272.0L481.7 271.3L474.9 270.4L469.6 271.2Z" fill="#5567ff" stroke="#5567ff"/>
<path d="M469.6 271.2L474.9 270.4L468.2 269.5L462.9 270.3Z" fill="#576aff" stroke="#576aff"/>
<path d="M462.9 270.3L468.2 269.5L461.7 268.7L456.3 269.5Z" fill="#596dff" stroke="#596dff"/>
<path d="M456.3 269.5L461.7 268.7L455.2 267.8L449.8 268.6Z" fill="#5c70ff" stroke="#5c70ff"/>
<path d="M449.8 268.6L455.2 267.8L448.9 267.0L443.5 267.8Z" fill="#5e73ff" stroke="#5e73ff"/>
<path d="M443.5 267.8L448.9 267.0L442.6 266.2L437.2 267.0Z" fill="#6176ff" stroke="#6176ff"/>
<path d="M437.2 267.0L442.6 266.2L436.4 265.4L431.0 266.3Z" fill="#6379ff" stroke="#6379ff"/>
<path d="M431.0 266.3L436.4 265.4L430.3 264.6L424.9 265.5Z" fill="#657cff" stroke="#657cff"/>
<path d="M524.7 276.8L529.8 276.1L522.4 275.2L517.2 275.8Z" fill="#414ff0" stroke="#414ff0"/>
<path d="M517.2 275.8L522.4 275.2L515.1 274.2L509.9 274.9Z" fill="#4453f3" stroke="#4453f3"/>
<path d="M509.9 274.9L515.1 274.2L507.9 273.3L502.7 274.0Z" fill="#4757f5" stroke="#4757f5"/>
<path d="M502.7 274.0L507.9 273.3L500.8 272.3L495.6 273.0Z" fill="#4b5bf7" stroke="#4b5bf7"/>
<path d="M495.6 273.0L500.8 272.3L493.8 271.4L488.6 272.1Z" fill="#4e5ffa" stroke="#4e5ffa"/>
<path d="M488.6 272.1L493.8 271.4L486.9 270.5L481.7 271.3Z" fill="#5163fc" stroke="#5163fc"/>
<path d="M481.7 271.3L486.9 270.5L480.2 269.6L474.9 270.4Z" fill="#5466ff" stroke="#5466ff"/>
<path d="M474.9 270.4L480.2 269.6L473.5 268.7L468.2 269.5Z" fill="#576aff" stroke="#576aff"/>
<path d="M468.2 269.5L473.5 268.7L467.0 267.9L461.7 268.7Z" fill="#5a6eff" stroke="#5a6eff"/>
<path d="M461.7 268.7L467.0 267.9L460.5 267.0L455.2 267.8Z" fill="#5e72ff" stroke="#5e72ff"/>
<path d="M455.2 267.8L460.5 267.0L454.2 266.2L448.9 267.0Z" fill="#6176ff" stroke="#6176ff"/>
<path d="M448.9 267.0L454.2 266.2L447.9 265.4L442.6 266.2Z" fill="#647aff" stroke="#647aff"/>
<path d="M442.6 266.2L447.9 265.4L441.7 264.6L436.4 265.4Z" fill="#677eff" stroke="#677eff"/>
<path d="M436.4 265.4L441.7 264.6L435.6 263.8L430.3 264.6Z" fill="#6a82ff" stroke="#6a82ff"/>
<path d="M529.8 276.1L534.9 275.5L527.5 274.5L522.4 275.2Z" fill="#3c49ec" stroke="#3c49ec"/>
<path d="M522.4 275.2L527.5 274.5L520.2 273.5L515.1 274.2Z" fill="#404eef" stroke="#404eef"/>
<path d="M515.1 274.2L520.2 273.5L513.0 272.6L507.9 273.3Z" fill="#4452f2" stroke="#4452f2"/>
<path d="M507.9 273.3L513.0 272.6L505.9 271.6L500.8 272.3Z" fill="#4857f5" stroke="#4857f5"/>
<path d="M500.8 272.3L505.9 271.6L499.0 270.7L493.8 271.4Z" fill="#4c5cf9" stroke="#4c5cf9"/>
<path d="M493.8 271.4L499.0 270.7L492.1 269.8L486.9 270.5Z" fill="#5061fc" stroke="#5061fc"/>
<path d="M486.9 270.5L492.1 269.8L485.4 268.9L480.2 269.6Z" fill="#5466ff" stroke="#5466ff"/>
<path d="M480.2 269.6L485.4 268.9L478.7 268.0L473.5 268.7Z" fill="#576bff" stroke="#576bff"/>
<path d="M473.5 268.7L478.7 268.0L472.2 267.1L467.0 267.9Z" fill="#5b6fff" stroke="#5b6fff"/>
<path d="M467.0 267.9L472.2 267.1L465.7 266.2L460.5 267.0Z" fill="#5f74ff" stroke="#5f74ff"/>
<path d="M460.5 267.0L465.7 266.2L459.4 265.4L454.2 266.2Z" fill="#6379ff" stroke="#6379ff"/>
<path d="M454.2 266.2L459.4 265.4L453.1 264.6L447.9 265.4Z" fill="#677eff" stroke="#677eff"/>
<path d="M447.9 265.4L453.1 264.6L447.0 263.7L441.7 264.6Z" fill="#6b83ff" stroke="#6b83ff"/>
<path d="M441.7 264.6L447.0 263.7L440.9 262.9L435.6 263.8Z" fill="#6f88ff" stroke="#6f88ff"/>
<path d="M534.9 275.5L539.9 274.9L532.5 273.9L527.5 274.5Z" fill="#3742e9" stroke="#3742e9"/>
<path d="M527.5 274.5L532.5 273.9L525.2 272.9L520.2 273.5Z" fill="#3c48ec" stroke="#3c48ec"/>
<path d="M520.2 273.5L525.2 272.9L518.0 271.9L513.0 272.6Z" fill="#404ef0" stroke="#404ef0"/>
<path d="M513.0 272.6L518.0 271.9L511.0 270.9L505.9 271.6Z" fill="#4554f4" stroke="#4554f4"/>
<path d="M505.9 271.6L511.0 270.9L504.0 270.0L499.0 270.7Z" fill="#4a59f7" stroke="#4a59f7"/>
<path d="M499.0 270.7L504.0 270.0L497.2 269.1L492.1 269.8Z" fill="#4e5ffb" stroke="#4e5ffb"/>
<path d="M492.1 269.8L497.2 269.1L490.5 268.1L485.4 268.9Z" fill="#5365fe" stroke="#5365fe"/>
<path d="M485.4 268.9L490.5 268.1L483.8 267.2L478.7 268.0Z" fill="#586bff" stroke="#586bff"/>
<path d="M478.7 268.0L483.8 267.2L477.3 266.3L472.2 267.1Z" fill="#5c71ff" stroke="#5c71ff"/>
<path d="M472.2 267.1L477.3 266.3L470.9 265.5L465.7 266.2Z" fill="#6176ff" stroke="#6176ff"/>
<path d="M465.7 266.2L470.9 265.5L464.5 264.6L459.4 265.4Z" fill="#667cff" stroke="#667cff"/>
<path d="M459.4 265.4L464.5 264.6L458.3 263.8L453.1 264.6Z" fill="#6b82ff" stroke="#6b82ff"/>
<path d="M453.1 264.6L458.3 263.8L452.1 262.9L447.0 263.7Z" fill="#6f88ff" stroke="#6f88ff"/>
<path d="M447.0 263.7L452.1 262.9L446.1 262.1L440.9 262.9Z" fill="#748eff" stroke="#748eff"/>
<path d="M539.9 274.9L544.8 274.2L537.4 273.2L532.5 273.9Z" fill="#323ce5" stroke="#323ce5"/>
<path d="M532.5 273.9L537.4 273.2L530.1 272.2L525.2 272.9Z" fill="#3743e9" stroke="#3743e9"/>
<path d="M525.2 272.9L530.1 272.2L523.0 271.2L518.0 271.9Z" fill="#3d49ed" stroke="#3d49ed"/>
<path d="M518.0 271.9L523.0 271.2L516.0 270.2L511.0 270.9Z" fill="#4250f2" stroke="#4250f2"/>
<path d="M511.0 270.9L516.0 270.2L509.0 269.3L504.0 270.0Z" fill="#4857f6" stroke="#4857f6"/>
<path d="M504.0 270.0L509.0 269.3L502.2 268.3L497.2 269.1Z" fill="#4d5efa" stroke="#4d5efa"/>
<path d="M497.2 269.1L502.2 268.3L495.5 267.4L490.5 268.1Z" fill="#5364fe" stroke="#5364fe"/>
<path d="M490.5 268.1L495.5 267.4L488.9 266.5L483.8 267.2Z" fill="#586bff" stroke="#586bff"/>
<path d="M483.8 267.2L488.9 266.5L482.3 265.6L477.3 266.3Z" fill="#5d72ff" stroke="#5d72ff"/>
<path d="M477.3 266.3L482.3 265.6L475.9 264.7L470.9 265.5Z" fill="#6379ff" stroke="#6379ff"/>
<path d="M470.9 265.5L475.9 264.7L469.6 263.8L464.5 264.6Z" fill="#687fff" stroke="#687fff"/>
<path d="M464.5 264.6L469.6 263.8L463.4 263.0L458.3 263.8Z" fill="#6e86ff" stroke="#6e86ff"/>
<path d="M458.3 263.8L463.4 263.0L457.2 262.1L452.1 262.9Z" fill="#738dff" stroke="#738dff"/>
<path d="M452.1 262.9L457.2 262.1L451.1 261.3L446.1 262.1Z" fill="#7994ff" stroke="#7994ff"/>
<path d="M544.8 274.2L549.6 273.6L542.2 272.6L537.4 273.2Z" fill="#2d35e1" stroke="#2d35e1"/>
<path d="M537.4 273.2L542.2 272.6L535.0 271.6L530.1 272.2Z" fill="#333de6" stroke="#333de6"/>
<path d="M530.1 272.2L535.0 271.6L527.9 270.6L523.0 271.2Z" fill="#3945eb" stroke="#3945eb"/>
<path d="M523.0 271.2L527.9 270.6L520.9 269.6L516.0 270.2Z" fill="#3f4cf0" stroke="#3f4cf0"/>
<path d="M516.0 270.2L520.9 269.6L513.9 268.6L509.0 269.3Z" fill="#4654f4" stroke="#4654f4"/>
<path d="M509.0 269.3L513.9 268.6L507.1 267.6L502.2 268.3Z" fill="#4c5cf9" stroke="#4c5cf9"/>
<path d="M502.2 268.3L507.1 267.6L500.4 266.7L495.5 267.4Z" fill="#5264fe" stroke="#5264fe"/>
<path d="M495.5 267.4L500.4 266.7L493.8 265.8L488.9 266.5Z" fill="#586bff" stroke="#586bff"/>
<path d="M488.9 266.5L493.8 265.8L487.3 264.8L482.3 265.6Z" fill="#5f73ff" stroke="#5f73ff"/>
<path d="M482.3 265.6L487.3 264.8L480.9 263.9L475.9 264.7Z" fill="#657bff" stroke="#657bff"/>
<path d="M475.9 264.7L480.9 263.9L474.6 263.1L469.6 263.8Z" fill="#6b82ff" stroke="#6b82ff"/>
<path d="M469.6 263.8L474.6 263.1L468.4 262.2L463.4 263.0Z" fill="#718aff" stroke="#718aff"/>
<path d="M463.4 263.0L468.4 262.2L462.2 261.3L457.2 262.1Z" fill="#7792ff" stroke="#7792ff"/>
<path d="M457.2 262.1L462.2 261.3L456.2 260.5L451.1 261.3Z" fill="#7e9aff" stroke="#7e9aff"/>
<path d="M549.6 273.6L554.3 273.0L547.0 272.0L542.2 272.6Z" fill="#282fde" stroke="#282fde"/>
<path d="M542.2 272.6L547.0 272.0L539.8 270.9L535.0 271.6Z" fill="#2f37e3" stroke="#2f37e3"/>
<path d="M535.0 271.6L539.8 270.9L532.7 269.9L527.9 270.6Z" fill="#3640e8" stroke="#3640e8"/>
<path d="M527.9 270.6L532.7 269.9L525.7 268.9L520.9 269.6Z" fill="#3d49ee" stroke="#3d49ee"/>
<path d="M520.9 269.6L525.7 268.9L518.8 267.9L513.9 268.6Z" fill="#4451f3" stroke="#4451f3"/>
<path d="M513.9 268.6L518.8 267.9L512.0 266.9L507.1 267.6Z" fill="#4b5af8" stroke="#4b5af8"/>
<path d="M507.1 267.6L512.0 266.9L505.3 266.0L500.4 266.7Z" fill="#5263fe" stroke="#5263fe"/>
<path d="M500.4 266.7L505.3 266.0L498.7 265.0L493.8 265.8Z" fill="#596cff" stroke="#596cff"/>
<path d="M493.8 265.8L498.7 265.0L492.2 264.1L487.3 264.8Z" fill="#6074ff" stroke="#6074ff"/>
<path d="M487.3 264.8L492.2 264.1L485.8 263.2L480.9 263.9Z" fill="#677dff" stroke="#677dff"/>
<path d="M480.9 263.9L485.8 263.2L479.5 262.3L474.6 263.1Z" fill="#6e86ff" stroke="#6e86ff"/>
<path d="M474.6 263.1L479.5 262.3L473.3 261.4L468.4 262.2Z" fill="#758eff" stroke="#758eff"/>
<path d="M468.4 262.2L473.3 261.4L467.2 260.5L462.2 261.3Z" fill="#7c97ff" stroke="#7c97ff"/>
<path d="M462.2 261.3L467.2 260.5L461.1 259.7L456.2 260.5Z" fill="#82a0ff" stroke="#82a0ff"/>
<path d="M166.8 287.8L176.8 287.6L171.2 287.0L161.3 287.3Z" fill="#df383c" stroke="#df383c"/>
<path d="M161.3 287.3L171.2 287.0L165.8 286.5L155.9 286.7Z" fill="#e84e46" stroke="#e84e46"/>
<path d="M155.9 286.7L165.8 286.5L160.4 285.9L150.7 286.2Z" fill="#f16451" stroke="#f16451"/>
<path d="M150.7 286.2L160.4 285.9L155.2 285.4L145.5 285.7Z" fill="#f97a5b" stroke="#f97a5b"/>
<path d="M145.5 285.7L155.2 285.4L150.1 284.8L140.4 285.2Z" fill="#ff9066" stroke="#ff9066"/>
<path d="M140.4 285.2L150.1 284.8L145.0 284.3L135.4 284.7Z" fill="#ffa670" stroke="#ffa670"/>
<path d="M135.4 284.7L145.0 284.3L140.1 283.8L130.5 284.2Z" fill="#ffb87f" stroke="#ffb87f"/>
<path d="M130.5 284.2L140.1 283.8L135.3 283.3L125.7 283.8Z" fill="#ffc493" stroke="#ffc493"/>
<path d="M125.7 283.8L135.3 283.3L130.5 282.8L121.0 283.3Z" fill="#ffd0a9" stroke="#ffd0a9"/>
<path d="M121.0 283.3L130.5 282.8L125.8 282.3L116.4 282.9Z" fill="#f6dac5" stroke="#f6dac5"/>
<path d="M116.4 282.9L125.8 282.3L121.3 281.8L111.8 282.4Z" fill="#e8e4e2" stroke="#e8e4e2"/>
<path d="M111.8 282.4L121.3 281.8L116.8 281.4L107.4 282.0Z" fill="#cfd8f6" stroke="#cfd8f6"/>
<path d="M107.4 282.0L116.8 281.4L112.3 280.9L103.0 281.6Z" fill="#b5c7ff" stroke="#b5c7ff"/>
<path d="M103.0 281.6L112.3 280.9L108.0 280.4L98.7 281.1Z" fill="#9ab6ff" stroke="#9ab6ff"/>
<path d="M176.8 287.6L186.5 287.4L180.9 286.8L171.2 287.0Z" fill="#ec5a4c" stroke="#ec5a4c"/>
<path d="M171.2 287.0L180.9 286.8L175.4 286.2L165.8 286.5Z" fill="#f56e56" stroke="#f56e56"/>
<path d="M165.8 286.5L175.4 286.2L170.0 285.6L160.4 285.9Z" fill="#fd825f" stroke="#fd825f"/>
<path d="M160.4 285.9L170.0 285.6L164.8 285.0L155.2 285.4Z" fill="#ff9769" stroke="#ff9769"/>
<path d="M155.2 285.4L164.8 285.0L159.6 284.4L150.1 284.8Z" fill="#ffab72" stroke="#ffab72"/>
<path d="M150.1 284.8L159.6 284.4L154.5 283.9L145.0 284.3Z" fill="#ffba82" stroke="#ffba82"/>
<path d="M145.0 284.3L154.5 283.9L149.5 283.3L140.1 283.8Z" fill="#ffc595" stroke="#ffc595"/>
<path d="M140.1 283.8L149.5 283.3L144.6 282.8L135.3 283.3Z" fill="#ffd0aa" stroke="#ffd0aa"/>
<path d="M135.3 283.3L144.6 282.8L139.8 282.3L130.5 282.8Z" fill="#f7dac4" stroke="#f7dac4"/>
<path d="M130.5 282.8L139.8 282.3L135.1 281.8L125.8 282.3Z" fill="#eae3de" stroke="#eae3de"/>
<path d="M125.8 282.3L135.1 281.8L130.5 281.2L121.3 281.8Z" fill="#d5dbf2" stroke="#d5dbf2"/>
<path d="M121.3 281.8L130.5 281.2L125.9 280.7L116.8 281.4Z" fill="#bcccff" stroke="#bcccff"/>
<path d="M116.8 281.4L125.9 280.7L121.5 280.3L112.3 280.9Z" fill="#a4bdff" stroke="#a4bdff"/>
<path d="M112.3 280.9L121.5 280.3L117.1 279.8L108.0 280.4Z" fill="#8cadff" stroke="#8cadff"/>
<path d="M186.5 287.4L196.0 287.2L190.4 286.6L180.9 286.8Z" fill="#fa7c5c" stroke="#fa7c5c"/>
<path d="M180.9 286.8L190.4 286.6L184.9 285.9L175.4 286.2Z" fill="#ff8e65" stroke="#ff8e65"/>
<path d="M175.4 286.2L184.9 285.9L179.4 285.3L170.0 285.6Z" fill="#ffa16e" stroke="#ffa16e"/>
<path d="M170.0 285.6L179.4 285.3L174.1 284.7L164.8 285.0Z" fill="#ffb377" stroke="#ffb377"/>
<path d="M164.8 285.0L174.1 284.7L168.9 284.1L159.6 284.4Z" fill="#ffbe89" stroke="#ffbe89"/>
<path d="M159.6 284.4L168.9 284.1L163.8 283.5L154.5 283.9Z" fill="#ffc89a" stroke="#ffc89a"/>
<path d="M154.5 283.9L163.8 283.5L158.8 282.9L149.5 283.3Z" fill="#ffd2ae" stroke="#ffd2ae"/>
<path d="M149.5 283.3L158.8 282.9L153.8 282.3L144.6 282.8Z" fill="#f5dbc6" stroke="#f5dbc6"/>
<path d="M144.6 282.8L153.8 282.3L149.0 281.8L139.8 282.3Z" fill="#e9e3de" stroke="#e9e3de"/>
<path d="M139.8 282.3L149.0 281.8L144.2 281.2L135.1 281.8Z" fill="#d6dcf1" stroke="#d6dcf1"/>
<path d="M135.1 281.8L144.2 281.2L139.6 280.7L130.5 281.2Z" fill="#c0ceff" stroke="#c0ceff"/>
<path d="M130.5 281.2L139.6 280.7L135.0 280.1L125.9 280.7Z" fill="#aac0ff" stroke="#aac0ff"/>
<path d="M125.9 280.7L135.0 280.1L130.5 279.6L121.5 280.3Z" fill="#93b2ff" stroke="#93b2ff"/>
<path d="M121.5 280.3L130.5 279.6L126.0 279.1L117.1 279.8Z" fill="#84a4ff" stroke="#84a4ff"/>
<path d="M196.0 287.2L205.4 287.1L199.7 286.4L190.4 286.6Z" fill="#ff9e6c" stroke="#ff9e6c"/>
<path d="M190.4 286.6L199.7 286.4L194.1 285.7L184.9 285.9Z" fill="#ffaf74" stroke="#ffaf74"/>
<path d="M184.9 285.9L194.1 285.7L188.7 285.0L179.4 285.3Z" fill="#ffba83" stroke="#ffba83"/>
<path d="M179.4 285.3L188.7 285.0L183.3 284.4L174.1 284.7Z" fill="#ffc393" stroke="#ffc393"/>
<path d="M174.1 284.7L183.3 284.4L178.1 283.7L168.9 284.1Z" fill="#ffcda2" stroke="#ffcda2"/>
<path d="M168.9 284.1L178.1 283.7L172.9 283.1L163.8 283.5Z" fill="#fcd5b8" stroke="#fcd5b8"/>
<path d="M163.8 283.5L172.9 283.1L167.8 282.5L158.8 282.9Z" fill="#f2ddcd" stroke="#f2ddcd"/>
<path d="M158.8 282.9L167.8 282.5L162.9 281.9L153.8 282.3Z" fill="#e7e5e3" stroke="#e7e5e3"/>
<path d="M153.8 282.3L162.9 281.9L158.0 281.3L149.0 281.8Z" fill="#d4dbf3" stroke="#d4dbf3"/>
<path d="M149.0 281.8L158.0 281.3L153.2 280.7L144.2 281.2Z" fill="#bfceff" stroke="#bfceff"/>
<path d="M144.2 281.2L153.2 280.7L148.5 280.1L139.6 280.7Z" fill="#abc1ff" stroke="#abc1ff"/>
<path d="M139.6 280.7L148.5 280.1L143.9 279.5L135.0 280.1Z" fill="#97b5ff" stroke="#97b5ff"/>
<path d="M135.0 280.1L143.9 279.5L139.3 279.0L130.5 279.6Z" fill="#87a8ff" stroke="#87a8ff"/>
<path d="M130.5 279.6L139.3 279.0L134.8 278.4L126.0 279.1Z" fill="#7d9bff" stroke="#7d9bff"/>
<path d="M205.4 287.1L214.5 286.9L208.8 286.1L199.7 286.4Z" fill="#ffba83" stroke="#ffba83"/>
<path d="M199.7 286.4L208.8 286.1L203.2 285.4L194.1 285.7Z" fill="#ffc291" stroke="#ffc291"/>
<path d="M194.1 285.7L203.2 285.4L197.7 284.7L188.7 285.0Z" fill="#ffcb9f" stroke="#ffcb9f"/>
<path d="M188.7 285.0L197.7 284.7L192.3 284.0L183.3 284.4Z" fill="#ffd3b1" stroke="#ffd3b1"/>
<path d="M183.3 284.4L192.3 284.0L187.0 283.4L178.1 283.7Z" fill="#f5dac5" stroke="#f5dac5"/>
<path d="M178.1 283.7L187.0 283.4L181.8 282.7L172.9 283.1Z" fill="#ece1d9" stroke="#ece1d9"/>
<path d="M172.9 283.1L181.8 282.7L176.7 282.0L167.8 282.5Z" fill="#dfe2ea" stroke="#dfe2ea"/>
<path d="M167.8 282.5L176.7 282.0L171.7 281.4L162.9 281.9Z" fill="#cdd6f7" stroke="#cdd6f7"/>
<path d="M162.9 281.9L171.7 281.4L166.8 280.8L158.0 281.3Z" fill="#bbcbff" stroke="#bbcbff"/>
<path d="M158.0 281.3L166.8 280.8L162.0 280.2L153.2 280.7Z" fill="#a9c0ff" stroke="#a9c0ff"/>
<path d="M153.2 280.7L162.0 280.2L157.2 279.6L148.5 280.1Z" fill="#96b4ff" stroke="#96b4ff"/>
<path d="M148.5 280.1L157.2 279.6L152.6 279.0L143.9 279.5Z" fill="#88a9ff" stroke="#88a9ff"/>
<path d="M143.9 279.5L152.6 279.0L148.0 278.4L139.3 279.0Z" fill="#7f9dff" stroke="#7f9dff"/>
<path d="M139.3 279.0L148.0 278.4L143.5 277.8L134.8 278.4Z" fill="#7592ff" stroke="#7592ff"/>
<path d="M214.5 286.9L223.5 286.7L217.8 285.9L208.8 286.1Z" fill="#ffcda2" stroke="#ffcda2"/>
<path d="M208.8 286.1L217.8 285.9L212.1 285.2L203.2 285.4Z" fill="#fdd3b3" stroke="#fdd3b3"/>
<path d="M203.2 285.4L212.1 285.2L206.6 284.5L197.7 284.7Z" fill="#f5dac5" stroke="#f5dac5"/>
<path d="M197.7 284.7L206.6 284.5L201.2 283.7L192.3 284.0Z" fill="#ece0d7" stroke="#ece0d7"/>
<path d="M192.3 284.0L201.2 283.7L195.9 283.0L187.0 283.4Z" fill="#e2e3e7" stroke="#e2e3e7"/>
<path d="M187.0 283.4L195.9 283.0L190.6 282.3L181.8 282.7Z" fill="#d2d9f3" stroke="#d2d9f3"/>
<path d="M181.8 282.7L190.6 282.3L185.5 281.6L176.7 282.0Z" fill="#c2cfff" stroke="#c2cfff"/>
<path d="M176.7 282.0L185.5 281.6L180.5 281.0L171.7 281.4Z" fill="#b2c5ff" stroke="#b2c5ff"/>
<path d="M171.7 281.4L180.5 281.0L175.5 280.3L166.8 280.8Z" fill="#a2bbff" stroke="#a2bbff"/>
<path d="M166.8 280.8L175.5 280.3L170.6 279.6L162.0 280.2Z" fill="#92b1ff" stroke="#92b1ff"/>
<path d="M162.0 280.2L170.6 279.6L165.8 279.0L157.2 279.6Z" fill="#86a7ff" stroke="#86a7ff"/>
<path d="M157.2 279.6L165.8 279.0L161.1 278.4L152.6 279.0Z" fill="#7e9dff" stroke="#7e9dff"/>
<path d="M152.6 279.0L161.1 278.4L156.5 277.8L148.0 278.4Z" fill="#7693ff" stroke="#7693ff"/>
<path d="M148.0 278.4L156.5 277.8L152.0 277.2L143.5 277.8Z" fill="#6e88ff" stroke="#6e88ff"/>
<path d="M223.5 286.7L232.3 286.5L226.5 285.7L217.8 285.9Z" fill="#f0dcce" stroke="#f0dcce"/>
<path d="M217.8 285.9L226.5 285.7L220.9 284.9L212.1 285.2Z" fill="#e8e2dd" stroke="#e8e2dd"/>
<path d="M212.1 285.2L220.9 284.9L215.3 284.2L206.6 284.5Z" fill="#dde0ea" stroke="#dde0ea"/>
<path d="M206.6 284.5L215.3 284.2L209.9 283.4L201.2 283.7Z" fill="#cfd7f4" stroke="#cfd7f4"/>
<path d="M201.2 283.7L209.9 283.4L204.5 282.7L195.9 283.0Z" fill="#c1cffe" stroke="#c1cffe"/>
<path d="M195.9 283.0L204.5 282.7L199.3 281.9L190.6 282.3Z" fill="#b3c6ff" stroke="#b3c6ff"/>
<path d="M190.6 282.3L199.3 281.9L194.1 281.2L185.5 281.6Z" fill="#a5bdff" stroke="#a5bdff"/>
<path d="M185.5 281.6L194.1 281.2L189.0 280.5L180.5 281.0Z" fill="#97b5ff" stroke="#97b5ff"/>
<path d="M180.5 281.0L189.0 280.5L184.0 279.8L175.5 280.3Z" fill="#8aacff" stroke="#8aacff"/>
<path d="M175.5 280.3L184.0 279.8L179.1 279.1L170.6 279.6Z" fill="#83a3ff" stroke="#83a3ff"/>
<path d="M170.6 279.6L179.1 279.1L174.3 278.5L165.8 279.0Z" fill="#7c9aff" stroke="#7c9aff"/>
<path d="M165.8 279.0L174.3 278.5L169.6 277.8L161.1 278.4Z" fill="#7591ff" stroke="#7591ff"/>
<path d="M161.1 278.4L169.6 277.8L164.9 277.2L156.5 277.8Z" fill="#6e88ff" stroke="#6e88ff"/>
<path d="M156.5 277.8L164.9 277.2L160.3 276.5L152.0 277.2Z" fill="#677fff" stroke="#677fff"/>
<path d="M232.3 286.5L240.9 286.4L235.2 285.5L226.5 285.7Z" fill="#d0d8f2" stroke="#d0d8f2"/>
<path d="M226.5 285.7L235.2 285.5L229.5 284.7L220.9 284.9Z" fill="#c4d0fb" stroke="#c4d0fb"/>
<path d="M220.9 284.9L229.5 284.7L223.9 283.9L215.3 284.2Z" fill="#b8c9ff" stroke="#b8c9ff"/>
<path d="M215.3 284.2L223.9 283.9L218.4 283.1L209.9 283.4Z" fill="#acc1ff" stroke="#acc1ff"/>
<path d="M209.9 283.4L218.4 283.1L213.0 282.3L204.5 282.7Z" fill="#a0baff" stroke="#a0baff"/>
<path d="M204.5 282.7L213.0 282.3L207.7 281.6L199.3 281.9Z" fill="#94b2ff" stroke="#94b2ff"/>
<path d="M199.3 281.9L207.7 281.6L202.5 280.8L194.1 281.2Z" fill="#89abff" stroke="#89abff"/>
<path d="M194.1 281.2L202.5 280.8L197.4 280.1L189.0 280.5Z" fill="#83a3ff" stroke="#83a3ff"/>
<path d="M189.0 280.5L197.4 280.1L192.4 279.4L184.0 279.8Z" fill="#7d9cff" stroke="#7d9cff"/>
<path d="M184.0 279.8L192.4 279.4L187.5 278.7L179.1 279.1Z" fill="#7794ff" stroke="#7794ff"/>
<path d="M179.1 279.1L187.5 278.7L182.6 278.0L174.3 278.5Z" fill="#718dff" stroke="#718dff"/>
<path d="M174.3 278.5L182.6 278.0L177.9 277.3L169.6 277.8Z" fill="#6b85ff" stroke="#6b85ff"/>
<path d="M169.6 277.8L177.9 277.3L173.2 276.6L164.9 277.2Z" fill="#657dff" stroke="#657dff"/>
<path d="M164.9 277.2L173.2 276.6L168.6 275.9L160.3 276.5Z" fill="#5f76ff" stroke="#5f76ff"/>
<path d="M240.9 286.4L249.4 286.2L243.6 285.3L235.2 285.5Z" fill="#a6beff" stroke="#a6beff"/>
<path d="M235.2 285.5L243.6 285.3L237.9 284.5L229.5 284.7Z" fill="#9db7ff" stroke="#9db7ff"/>
<path d="M229.5 284.7L237.9 284.5L232.3 283.6L223.9 283.9Z" fill="#93b1ff" stroke="#93b1ff"/>
<path d="M223.9 283.9L232.3 283.6L226.8 282.8L218.4 283.1Z" fill="#89abff" stroke="#89abff"/>
<path d="M218.4 283.1L226.8 282.8L221.4 282.0L213.0 282.3Z" fill="#84a5ff" stroke="#84a5ff"/>
<path d="M213.0 282.3L221.4 282.0L216.0 281.2L207.7 281.6Z" fill="#7f9fff" stroke="#7f9fff"/>
<path d="M207.7 281.6L216.0 281.2L210.8 280.4L202.5 280.8Z" fill="#7a98ff" stroke="#7a98ff"/>
<path d="M202.5 280.8L210.8 280.4L205.7 279.7L197.4 280.1Z" fill="#7692ff" stroke="#7692ff"/>
<path d="M197.4 280.1L205.7 279.7L200.6 278.9L192.4 279.4Z" fill="#718cff" stroke="#718cff"/>
<path d="M192.4 279.4L200.6 278.9L195.7 278.2L187.5 278.7Z" fill="#6c85ff" stroke="#6c85ff"/>
<path d="M187.5 278.7L195.7 278.2L190.8 277.4L182.6 278.0Z" fill="#677fff" stroke="#677fff"/>
<path d="M182.6 278.0L190.8 277.4L186.0 276.7L177.9 277.3Z" fill="#6279ff" stroke="#6279ff"/>
<path d="M177.9 277.3L186.0 276.7L181.3 276.0L173.2 276.6Z" fill="#5d73ff" stroke="#5d73ff"/>
<path d="M173.2 276.6L181.3 276.0L176.6 275.3L168.6 275.9Z" fill="#586cff" stroke="#586cff"/>
<path d="M249.4 286.2L257.7 286.1L251.9 285.1L243.6 285.3Z" fill="#83a3ff" stroke="#83a3ff"/>
<path d="M243.6 285.3L251.9 285.1L246.2 284.3L237.9 284.5Z" fill="#7f9eff" stroke="#7f9eff"/>
<path d="M237.9 284.5L246.2 284.3L240.5 283.4L232.3 283.6Z" fill="#7b99ff" stroke="#7b99ff"/>
<path d="M232.3 283.6L240.5 283.4L235.0 282.5L226.8 282.8Z" fill="#7794ff" stroke="#7794ff"/>
<path d="M226.8 282.8L235.0 282.5L229.6 281.7L221.4 282.0Z" fill="#7390ff" stroke="#7390ff"/>
<path d="M221.4 282.0L229.6 281.7L224.2 280.9L216.0 281.2Z" fill="#708bff" stroke="#708bff"/>
<path d="M216.0 281.2L224.2 280.9L219.0 280.0L210.8 280.4Z" fill="#6c86ff" stroke="#6c86ff"/>
<path d="M210.8 280.4L219.0 280.0L213.8 279.2L205.7 279.7Z" fill="#6881ff" stroke="#6881ff"/>
<path d="M205.7 279.7L213.8 279.2L208.7 278.5L200.6 278.9Z" fill="#647cff" stroke="#647cff"/>
<path d="M200.6 278.9L208.7 278.5L203.7 277.7L195.7 278.2Z" fill="#6077ff" stroke="#6077ff"/>
<path d="M195.7 278.2L203.7 277.7L198.8 276.9L190.8 277.4Z" fill="#5c72ff" stroke="#5c72ff"/>
<path d="M190.8 277.4L198.8 276.9L194.0 276.2L186.0 276.7Z" fill="#596dff" stroke="#596dff"/>
<path d="M186.0 276.7L194.0 276.2L189.3 275.4L181.3 276.0Z" fill="#5568ff" stroke="#5568ff"/>
<path d="M181.3 276.0L189.3 275.4L184.6 274.7L176.6 275.3Z" fill="#5163fc" stroke="#5163fc"/>
<path d="M257.7 286.1L265.9 285.9L260.0 285.0L251.9 285.1Z" fill="#6e89ff" stroke="#6e89ff"/>
<path d="M251.9 285.1L260.0 285.0L254.3 284.0L246.2 284.3Z" fill="#6b85ff" stroke="#6b85ff"/>
<path d="M246.2 284.3L254.3 284.0L248.6 283.1L240.5 283.4Z" fill="#6881ff" stroke="#6881ff"/>
<path d="M240.5 283.4L248.6 283.1L243.1 282.2L235.0 282.5Z" fill="#657eff" stroke="#657eff"/>
<path d="M235.0 282.5L243.1 282.2L237.6 281.4L229.6 281.7Z" fill="#627aff" stroke="#627aff"/>
<path d="M229.6 281.7L237.6 281.4L232.2 280.5L224.2 280.9Z" fill="#6077ff" stroke="#6077ff"/>
<path d="M224.2 280.9L232.2 280.5L227.0 279.7L219.0 280.0Z" fill="#5d73ff" stroke="#5d73ff"/>
<path d="M219.0 280.0L227.0 279.7L221.8 278.8L213.8 279.2Z" fill="#5a6fff" stroke="#5a6fff"/>
<path d="M213.8 279.2L221.8 278.8L216.7 278.0L208.7 278.5Z" fill="#576cff" stroke="#576cff"/>
<path d="M208.7 278.5L216.7 278.0L211.7 277.2L203.7 277.7Z" fill="#5568fe" stroke="#5568fe"/>
<path d="M203.7 277.7L211.7 277.2L206.7 276.4L198.8 276.9Z" fill="#5265fc" stroke="#5265fc"/>
<path d="M198.8 276.9L206.7 276.4L201.9 275.7L194.0 276.2Z" fill="#4f61fa" stroke="#4f61fa"/>
<path d="M194.0 276.2L201.9 275.7L197.1 274.9L189.3 275.4Z" fill="#4c5df8" stroke="#4c5df8"/>
<path d="M189.3 275.4L197.1 274.9L192.4 274.1L184.6 274.7Z" fill="#4a5af6" stroke="#4a5af6"/>
<path d="M265.9 285.9L273.9 285.7L268.0 284.8L260.0 285.0Z" fill="#586eff" stroke="#586eff"/>
<path d="M260.0 285.0L268.0 284.8L262.3 283.8L254.3 284.0Z" fill="#576cff" stroke="#576cff"/>
<path d="M254.3 284.0L262.3 283.8L256.6 282.9L248.6 283.1Z" fill="#5569fe" stroke="#5569fe"/>
<path d="M248.6 283.1L256.6 282.9L251.0 282.0L243.1 282.2Z" fill="#5367fd" stroke="#5367fd"/>
<path d="M243.1 282.2L251.0 282.0L245.5 281.1L237.6 281.4Z" fill="#5265fc" stroke="#5265fc"/>
<path d="M237.6 281.4L245.5 281.1L240.1 280.2L232.2 280.5Z" fill="#5063fa" stroke="#5063fa"/>
<path d="M232.2 280.5L240.1 280.2L234.8 279.3L227.0 279.7Z" fill="#4e60f9" stroke="#4e60f9"/>
<path d="M227.0 279.7L234.8 279.3L229.6 278.4L221.8 278.8Z" fill="#4c5ef8" stroke="#4c5ef8"/>
<path d="M221.8 278.8L229.6 278.4L224.5 277.6L216.7 278.0Z" fill="#4b5cf7" stroke="#4b5cf7"/>
<path d="M216.7 278.0L224.5 277.6L219.5 276.8L211.7 277.2Z" fill="#4959f6" stroke="#4959f6"/>
<path d="M211.7 277.2L219.5 276.8L214.5 275.9L206.7 276.4Z" fill="#4757f5" stroke="#4757f5"/>
<path d="M206.7 276.4L214.5 275.9L209.6 275.1L201.9 275.7Z" fill="#4655f3" stroke="#4655f3"/>
<path d="M201.9 275.7L209.6 275.1L204.8 274.3L197.1 274.9Z" fill="#4453f2" stroke="#4453f2"/>
<path d="M197.1 274.9L204.8 274.3L200.1 273.6L192.4 274.1Z" fill="#4250f1" stroke="#4250f1"/>
<path d="M273.9 285.7L281.8 285.6L275.9 284.6L268.0 284.8Z" fill="#4353f1" stroke="#4353f1"/>
<path d="M268.0 284.8L275.9 284.6L270.1 283.6L262.3 283.8Z" fill="#4352f0" stroke="#4352f0"/>
<path d="M262.3 283.8L270.1 283.6L264.4 282.6L256.6 282.9Z" fill="#4251f0" stroke="#4251f0"/>
<path d="M256.6 282.9L264.4 282.6L258.8 281.7L251.0 282.0Z" fill="#4150ef" stroke="#4150ef"/>
<path d="M251.0 282.0L258.8 281.7L253.3 280.7L245.5 281.1Z" fill="#414fef" stroke="#414fef"/>
<path d="M245.5 281.1L253.3 280.7L247.9 279.8L240.1 280.2Z" fill="#404eef" stroke="#404eef"/>
<path d="M240.1 280.2L247.9 279.8L242.6 278.9L234.8 279.3Z" fill="#3f4eee" stroke="#3f4eee"/>
<path d="M234.8 279.3L242.6 278.9L237.3 278.0L229.6 278.4Z" fill="#3f4dee" stroke="#3f4dee"/>
<path d="M229.6 278.4L237.3 278.0L232.2 277.2L224.5 277.6Z" fill="#3e4cee" stroke="#3e4cee"/>
<path d="M224.5 277.6L232.2 277.2L227.1 276.3L219.5 276.8Z" fill="#3d4bed" stroke="#3d4bed"/>
<path d="M219.5 276.8L227.1 276.3L222.1 275.5L214.5 275.9Z" fill="#3d4aed" stroke="#3d4aed"/>
<path d="M214.5 275.9L222.1 275.5L217.2 274.6L209.6 275.1Z" fill="#3c49ed" stroke="#3c49ed"/>
<path d="M209.6 275.1L217.2 274.6L212.4 273.8L204.8 274.3Z" fill="#3c48ec" stroke="#3c48ec"/>
<path d="M204.8 274.3L212.4 273.8L207.7 273.0L200.1 273.6Z" fill="#3b47ec" stroke="#3b47ec"/>
<path d="M281.8 285.6L289.5 285.4L283.6 284.4L275.9 284.6Z" fill="#2e38e1" stroke="#2e38e1"/>
<path d="M275.9 284.6L283.6 284.4L277.8 283.4L270.1 283.6Z" fill="#2e39e1" stroke="#2e39e1"/>
<path d="M270.1 283.6L277.8 283.4L272.1 282.4L264.4 282.6Z" fill="#2f39e2" stroke="#2f39e2"/>
<path d="M264.4 282.6L272.1 282.4L266.5 281.4L258.8 281.7Z" fill="#2f3ae2" stroke="#2f3ae2"/>
<path d="M258.8 281.7L266.5 281.4L260.9 280.4L253.3 280.7Z" fill="#303ae3" stroke="#303ae3"/>
<path d="M253.3 280.7L260.9 280.4L255.5 279.5L247.9 279.8Z" fill="#303ae3" stroke="#303ae3"/>
<path d="M247.9 279.8L255.5 279.5L250.2 278.6L242.6 278.9Z" fill="#313be4" stroke="#313be4"/>
<path d="M242.6 278.9L250.2 278.6L244.9 277.6L237.3 278.0Z" fill="#313be4" stroke="#313be4"/>
<path d="M237.3 278.0L244.9 277.6L239.7 276.7L232.2 277.2Z" fill="#313ce4" stroke="#313ce4"/>
<path d="M232.2 277.2L239.7 276.7L234.7 275.9L227.1 276.3Z" fill="#323ce5" stroke="#323ce5"/>
<path d="M227.1 276.3L234.7 275.9L229.7 275.0L222.1 275.5Z" fill="#323de5" stroke="#323de5"/>
<path d="M222.1 275.5L229.7 275.0L224.7 274.1L217.2 274.6Z" fill="#333de6" stroke="#333de6"/>
<path d="M217.2 274.6L224.7 274.1L219.9 273.3L212.4 273.8Z" fill="#333de6" stroke="#333de6"/>
<path d="M212.4 273.8L219.9 273.3L215.1 272.4L207.7 273.0Z" fill="#343ee7" stroke="#343ee7"/>
<path d="M289.5 285.4L297.1 284.4L291.2 283.3L283.6 284.4Z" fill="#252cda" stroke="#252cda"/>
<path d="M283.6 284.4L291.2 283.3L285.3 282.3L277.8 283.4Z" fill="#262edb" stroke="#262edb"/>
<path d="M277.8 283.4L285.3 282.3L279.6 281.3L272.1 282.4Z" fill="#272fdc" stroke="#272fdc"/>
<path d="M272.1 282.4L279.6 281.3L274.0 280.3L266.5 281.4Z" fill="#2931dd" stroke="#2931dd"/>
<path d="M266.5 281.4L274.0 280.3L268.4 279.3L260.9 280.4Z" fill="#2a33de" stroke="#2a33de"/>
<path d="M260.9 280.4L268.4 279.3L263.0 278.4L255.5 279.5Z" fill="#2b34e0" stroke="#2b34e0"/>
<path d="M255.5 279.5L263.0 278.4L257.6 277.4L250.2 278.6Z" fill="#2d36e1" stroke="#2d36e1"/>
<path d="M250.2 278.6L257.6 277.4L252.4 276.5L244.9 277.6Z" fill="#2e37e2" stroke="#2e37e2"/>
<path d="M244.9 277.6L252.4 276.5L247.2 275.6L239.7 276.7Z" fill="#2f39e3" stroke="#2f39e3"/>
<path d="M239.7 276.7L247.2 275.6L242.1 274.7L234.7 275.9Z" fill="#303ae4" stroke="#303ae4"/>
<path d="M234.7 275.9L242.1 274.7L237.0 273.8L229.7 275.0Z" fill="#323ce5" stroke="#323ce5"/>
<path d="M229.7 275.0L237.0 273.8L232.1 272.9L224.7 274.1Z" fill="#333de6" stroke="#333de6"/>
<path d="M224.7 274.1L232.1 272.9L227.2 272.1L219.9 273.3Z" fill="#343fe7" stroke="#343fe7"/>
<path d="M219.9 273.3L227.2 272.1L222.5 271.2L215.1 272.4Z" fill="#3640e8" stroke="#3640e8"/>
<path d="M297.1 284.4L304.5 283.3L298.6 282.3L291.2 283.3Z" fill="#272fdc" stroke="#272fdc"/>
<path d="M291.2 283.3L298.6 282.3L292.7 281.2L285.3 282.3Z" fill="#2932de" stroke="#2932de"/>
<path d="M285.3 282.3L292.7 281.2L287.0 280.2L279.6 281.3Z" fill="#2b34df" stroke="#2b34df"/>
<path d="M279.6 281.3L287.0 280.2L281.4 279.2L274.0 280.3Z" fill="#2d37e1" stroke="#2d37e1"/>
<path d="M274.0 280.3L281.4 279.2L275.8 278.2L268.4 279.3Z" fill="#2f39e2" stroke="#2f39e2"/>
<path d="M268.4 279.3L275.8 278.2L270.3 277.3L263.0 278.4Z" fill="#313be4" stroke="#313be4"/>
<path d="M263.0 278.4L270.3 277.3L265.0 276.3L257.6 277.4Z" fill="#333ee6" stroke="#333ee6"/>
<path d="M257.6 277.4L265.0 276.3L259.7 275.4L252.4 276.5Z" fill="#3540e7" stroke="#3540e7"/>
<path d="M252.4 276.5L259.7 275.4L254.5 274.4L247.2 275.6Z" fill="#3743e9" stroke="#3743e9"/>
<path d="M247.2 275.6L254.5 274.4L249.3 273.5L242.1 274.7Z" fill="#3945ea" stroke="#3945ea"/>
<path d="M242.1 274.7L249.3 273.5L244.3 272.6L237.0 273.8Z" fill="#3b48ec" stroke="#3b48ec"/>
<path d="M237.0 273.8L244.3 272.6L239.3 271.8L232.1 272.9Z" fill="#3d4aee" stroke="#3d4aee"/>
<path d="M232.1 272.9L239.3 271.8L234.5 270.9L227.2 272.1Z" fill="#3f4cef" stroke="#3f4cef"/>
<path d="M227.2 272.1L234.5 270.9L229.7 270.1L222.5 271.2Z" fill="#414ff1" stroke="#414ff1"/>
<path d="M304.5 283.3L311.9 282.3L305.9 281.2L298.6 282.3Z" fill="#2932de" stroke="#2932de"/>
<path d="M298.6 282.3L305.9 281.2L300.0 280.2L292.7 281.2Z" fill="#2c35e0" stroke="#2c35e0"/>
<path d="M292.7 281.2L300.0 280.2L294.3 279.1L287.0 280.2Z" fill="#2f39e2" stroke="#2f39e2"/>
<path d="M287.0 280.2L294.3 279.1L288.6 278.1L281.4 279.2Z" fill="#323ce4" stroke="#323ce4"/>
<path d="M281.4 279.2L288.6 278.1L283.0 277.1L275.8 278.2Z" fill="#343fe6" stroke="#343fe6"/>
<path d="M275.8 278.2L283.0 277.1L277.6 276.2L270.3 277.3Z" fill="#3743e9" stroke="#3743e9"/>
<path d="M270.3 277.3L277.6 276.2L272.2 275.2L265.0 276.3Z" fill="#3a46eb" stroke="#3a46eb"/>
<path d="M265.0 276.3L272.2 275.2L266.9 274.3L259.7 275.4Z" fill="#3c49ed" stroke="#3c49ed"/>
<path d="M259.7 275.4L266.9 274.3L261.6 273.3L254.5 274.4Z" fill="#3f4def" stroke="#3f4def"/>
<path d="M254.5 274.4L261.6 273.3L256.5 272.4L249.3 273.5Z" fill="#4250f1" stroke="#4250f1"/>
<path d="M249.3 273.5L256.5 272.4L251.5 271.5L244.3 272.6Z" fill="#4553f3" stroke="#4553f3"/>
<path d="M244.3 272.6L251.5 271.5L246.5 270.6L239.3 271.8Z" fill="#4757f5" stroke="#4757f5"/>
<path d="M239.3 271.8L246.5 270.6L241.6 269.8L234.5 270.9Z" fill="#4a5af7" stroke="#4a5af7"/>
<path d="M234.5 270.9L241.6 269.8L236.7 268.9L229.7 270.1Z" fill="#4d5dfa" stroke="#4d5dfa"/>
<path d="M311.9 282.3L319.0 281.3L313.1 280.2L305.9 281.2Z" fill="#2c35e0" stroke="#2c35e0"/>
<path d="M305.9 281.2L313.1 280.2L307.2 279.1L300.0 280.2Z" fill="#2f39e2" stroke="#2f39e2"/>
<path d="M300.0 280.2L307.2 279.1L301.4 278.1L294.3 279.1Z" fill="#333de5" stroke="#333de5"/>
<path d="M294.3 279.1L301.4 278.1L295.8 277.1L288.6 278.1Z" fill="#3642e8" stroke="#3642e8"/>
<path d="M288.6 278.1L295.8 277.1L290.2 276.1L283.0 277.1Z" fill="#3a46ea" stroke="#3a46ea"/>
<path d="M283.0 277.1L290.2 276.1L284.7 275.1L277.6 276.2Z" fill="#3d4aed" stroke="#3d4aed"/>
<path d="M277.6 276.2L284.7 275.1L279.3 274.1L272.2 275.2Z" fill="#404ef0" stroke="#404ef0"/>
<path d="M272.2 275.2L279.3 274.1L274.0 273.2L266.9 274.3Z" fill="#4452f2" stroke="#4452f2"/>
<path d="M266.9 274.3L274.0 273.2L268.7 272.2L261.6 273.3Z" fill="#4757f5" stroke="#4757f5"/>
<path d="M261.6 273.3L268.7 272.2L263.6 271.3L256.5 272.4Z" fill="#4b5bf8" stroke="#4b5bf8"/>
<path d="M256.5 272.4L263.6 271.3L258.5 270.4L251.5 271.5Z" fill="#4e5ffa" stroke="#4e5ffa"/>
<path d="M251.5 271.5L258.5 270.4L253.5 269.5L246.5 270.6Z" fill="#5263fd" stroke="#5263fd"/>
<path d="M246.5 270.6L253.5 269.5L248.6 268.6L241.6 269.8Z" fill="#5567ff" stroke="#5567ff"/>
<path d="M241.6 269.8L248.6 268.6L243.7 267.7L236.7 268.9Z" fill="#586cff" stroke="#586cff"/>
<path d="M319.0 281.3L326.1 280.3L320.1 279.2L313.1 280.2Z" fill="#2e38e2" stroke="#2e38e2"/>
<path d="M313.1 280.2L320.1 279.2L314.3 278.1L307.2 279.1Z" fill="#323de5" stroke="#323de5"/>
<path d="M307.2 279.1L314.3 278.1L308.5 277.1L301.4 278.1Z" fill="#3642e8" stroke="#3642e8"/>
<path d="M301.4 278.1L308.5 277.1L302.8 276.0L295.8 277.1Z" fill="#3b47eb" stroke="#3b47eb"/>
<path d="M295.8 277.1L302.8 276.0L297.2 275.0L290.2 276.1Z" fill="#3f4cee" stroke="#3f4cee"/>
<path d="M290.2 276.1L297.2 275.0L291.7 274.0L284.7 275.1Z" fill="#4351f2" stroke="#4351f2"/>
<path d="M284.7 275.1L291.7 274.0L286.3 273.1L279.3 274.1Z" fill="#4756f5" stroke="#4756f5"/>
<path d="M279.3 274.1L286.3 273.1L280.9 272.1L274.0 273.2Z" fill="#4b5cf8" stroke="#4b5cf8"/>
<path d="M274.0 273.2L280.9 272.1L275.7 271.1L268.7 272.2Z" fill="#4f61fb" stroke="#4f61fb"/>
<path d="M268.7 272.2L275.7 271.1L270.5 270.2L263.6 271.3Z" fill="#5366fe" stroke="#5366fe"/>
<path d="M263.6 271.3L270.5 270.2L265.4 269.3L258.5 270.4Z" fill="#586bff" stroke="#586bff"/>
<path d="M258.5 270.4L265.4 269.3L260.4 268.4L253.5 269.5Z" fill="#5c70ff" stroke="#5c70ff"/>
<path d="M253.5 269.5L260.4 268.4L255.5 267.5L248.6 268.6Z" fill="#6075ff" stroke="#6075ff"/>
<path d="M248.6 268.6L255.5 267.5L250.6 266.6L243.7 267.7Z" fill="#647aff" stroke="#647aff"/>
<path d="M326.1 280.3L333.1 279.3L327.1 278.2L320.1 279.2Z" fill="#313be3" stroke="#313be3"/>
<path d="M320.1 279.2L327.1 278.2L321.2 277.1L314.3 278.1Z" fill="#3541e7" stroke="#3541e7"/>
<path d="M314.3 278.1L321.2 277.1L315.4 276.1L308.5 277.1Z" fill="#3a47eb" stroke="#3a47eb"/>
<path d="M308.5 277.1L315.4 276.1L309.7 275.0L302.8 276.0Z" fill="#3f4def" stroke="#3f4def"/>
<path d="M302.8 276.0L309.7 275.0L304.1 274.0L297.2 275.0Z" fill="#4453f2" stroke="#4453f2"/>
<path d="M297.2 275.0L304.1 274.0L298.6 273.0L291.7 274.0Z" fill="#4959f6" stroke="#4959f6"/>
<path d="M291.7 274.0L298.6 273.0L293.1 272.0L286.3 273.1Z" fill="#4e5ffa" stroke="#4e5ffa"/>
<path d="M286.3 273.1L293.1 272.0L287.8 271.0L280.9 272.1Z" fill="#5265fd" stroke="#5265fd"/>
<path d="M280.9 272.1L287.8 271.0L282.5 270.1L275.7 271.1Z" fill="#576bff" stroke="#576bff"/>
<path d="M275.7 271.1L282.5 270.1L277.3 269.1L270.5 270.2Z" fill="#5c71ff" stroke="#5c71ff"/>
<path d="M270.5 270.2L277.3 269.1L272.2 268.2L265.4 269.3Z" fill="#6177ff" stroke="#6177ff"/>
<path d="M265.4 269.3L272.2 268.2L267.2 267.3L260.4 268.4Z" fill="#667dff" stroke="#667dff"/>
<path d="M260.4 268.4L267.2 267.3L262.3 266.4L255.5 267.5Z" fill="#6b83ff" stroke="#6b83ff"/>
<path d="M255.5 267.5L262.3 266.4L257.4 265.5L250.6 266.6Z" fill="#6f88ff" stroke="#6f88ff"/>
<path d="M333.1 279.3L339.9 278.3L333.9 277.2L327.1 278.2Z" fill="#333ee5" stroke="#333ee5"/>
<path d="M327.1 278.2L333.9 277.2L328.0 276.1L321.2 277.1Z" fill="#3845ea" stroke="#3845ea"/>
<path d="M321.2 277.1L328.0 276.1L322.2 275.1L315.4 276.1Z" fill="#3e4bee" stroke="#3e4bee"/>
<path d="M315.4 276.1L322.2 275.1L316.5 274.0L309.7 275.0Z" fill="#4452f2" stroke="#4452f2"/>
<path d="M309.7 275.0L316.5 274.0L310.9 273.0L304.1 274.0Z" fill="#4959f6" stroke="#4959f6"/>
<path d="M304.1 274.0L310.9 273.0L305.4 272.0L298.6 273.0Z" fill="#4f60fb" stroke="#4f60fb"/>
<path d="M298.6 273.0L305.4 272.0L299.9 271.0L293.1 272.0Z" fill="#5467ff" stroke="#5467ff"/>
<path d="M293.1 272.0L299.9 271.0L294.6 270.0L287.8 271.0Z" fill="#5a6eff" stroke="#5a6eff"/>
<path d="M287.8 271.0L294.6 270.0L289.3 269.0L282.5 270.1Z" fill="#5f75ff" stroke="#5f75ff"/>
<path d="M282.5 270.1L289.3 269.0L284.1 268.1L277.3 269.1Z" fill="#657bff" stroke="#657bff"/>
<path d="M277.3 269.1L284.1 268.1L279.0 267.1L272.2 268.2Z" fill="#6a82ff" stroke="#6a82ff"/>
<path d="M272.2 268.2L279.0 267.1L273.9 266.2L267.2 267.3Z" fill="#7089ff" stroke="#7089ff"/>
<path d="M267.2 267.3L273.9 266.2L269.0 265.3L262.3 266.4Z" fill="#7590ff" stroke="#7590ff"/>
<path d="M262.3 266.4L269.0 265.3L264.1 264.4L257.4 265.5Z" fill="#7b97ff" stroke="#7b97ff"/>
<path d="M339.9 278.3L346.6 277.3L340.6 276.2L333.9 277.2Z" fill="#3541e7" stroke="#3541e7"/>
<path d="M333.9 277.2L340.6 276.2L334.7 275.1L328.0 276.1Z" fill="#3c48ec" stroke="#3c48ec"/>
<path d="M328.0 276.1L334.7 275.1L328.9 274.1L322.2 275.1Z" fill="#4250f1" stroke="#4250f1"/>
<path d="M322.2 275.1L328.9 274.1L323.2 273.0L316.5 274.0Z" fill="#4858f6" stroke="#4858f6"/>
<path d="M316.5 274.0L323.2 273.0L317.6 272.0L310.9 273.0Z" fill="#4e60fa" stroke="#4e60fa"/>
<path d="M310.9 273.0L317.6 272.0L312.0 271.0L305.4 272.0Z" fill="#5567ff" stroke="#5567ff"/>
<path d="M305.4 272.0L312.0 271.0L306.6 270.0L299.9 271.0Z" fill="#5b6fff" stroke="#5b6fff"/>
<path d="M299.9 271.0L306.6 270.0L301.2 269.0L294.6 270.0Z" fill="#6177ff" stroke="#6177ff"/>
<path d="M294.6 270.0L301.2 269.0L295.9 268.0L289.3 269.0Z" fill="#677fff" stroke="#677fff"/>
<path d="M289.3 269.0L295.9 268.0L290.7 267.0L284.1 268.1Z" fill="#6e86ff" stroke="#6e86ff"/>
<path d="M284.1 268.1L290.7 267.0L285.6 266.1L279.0 267.1Z" fill="#748eff" stroke="#748eff"/>
<path d="M279.0 267.1L285.6 266.1L280.5 265.1L273.9 266.2Z" fill="#7a96ff" stroke="#7a96ff"/>
<path d="M273.9 266.2L280.5 265.1L275.6 264.2L269.0 265.3Z" fill="#809eff" stroke="#809eff"/>
<path d="M269.0 265.3L275.6 264.2L270.7 263.3L264.1 264.4Z" fill="#87a5ff" stroke="#87a5ff"/>
<path d="M346.6 277.3L353.2 276.4L347.2 275.3L340.6 276.2Z" fill="#3843e9" stroke="#3843e9"/>
<path d="M340.6 276.2L347.2 275.3L341.3 274.2L334.7 275.1Z" fill="#3f4cee" stroke="#3f4cee"/>
<path d="M334.7 275.1L341.3 274.2L335.5 273.1L328.9 274.1Z" fill="#4655f4" stroke="#4655f4"/>
<path d="M328.9 274.1L335.5 273.1L329.8 272.0L323.2 273.0Z" fill="#4d5df9" stroke="#4d5df9"/>
<path d="M323.2 273.0L329.8 272.0L324.1 271.0L317.6 272.0Z" fill="#5466fe" stroke="#5466fe"/>
<path d="M317.6 272.0L324.1 271.0L318.6 270.0L312.0 271.0Z" fill="#5a6fff" stroke="#5a6fff"/>
<path d="M312.0 271.0L318.6 270.0L313.1 268.9L306.6 270.0Z" fill="#6177ff" stroke="#6177ff"/>
<path d="M306.6 270.0L313.1 268.9L307.8 267.9L301.2 269.0Z" fill="#6880ff" stroke="#6880ff"/>
<path d="M301.2 269.0L307.8 267.9L302.5 267.0L295.9 268.0Z" fill="#6f89ff" stroke="#6f89ff"/>
<path d="M295.9 268.0L302.5 267.0L297.2 266.0L290.7 267.0Z" fill="#7691ff" stroke="#7691ff"/>
<path d="M290.7 267.0L297.2 266.0L292.1 265.0L285.6 266.1Z" fill="#7d9aff" stroke="#7d9aff"/>
<path d="M285.6 266.1L292.1 265.0L287.0 264.1L280.5 265.1Z" fill="#84a2ff" stroke="#84a2ff"/>
<path d="M280.5 265.1L287.0 264.1L282.1 263.2L275.6 264.2Z" fill="#8babff" stroke="#8babff"/>
<path d="M275.6 264.2L282.1 263.2L277.1 262.3L270.7 263.3Z" fill="#92b4ff" stroke="#92b4ff"/>
<path d="M353.2 276.4L359.7 275.5L353.7 274.4L347.2 275.3Z" fill="#3a46eb" stroke="#3a46eb"/>
<path d="M347.2 275.3L353.7 274.4L347.8 273.2L341.3 274.2Z" fill="#4250f1" stroke="#4250f1"/>
<path d="M341.3 274.2L347.8 273.2L342.0 272.2L335.5 273.1Z" fill="#4959f7" stroke="#4959f7"/>
<path d="M335.5 273.1L342.0 272.2L336.3 271.1L329.8 272.0Z" fill="#5163fc" stroke="#5163fc"/>
<path d="M329.8 272.0L336.3 271.1L330.6 270.0L324.1 271.0Z" fill="#596cff" stroke="#596cff"/>
<path d="M324.1 271.0L330.6 270.0L325.1 269.0L318.6 270.0Z" fill="#6076ff" stroke="#6076ff"/>
<path d="M318.6 270.0L325.1 269.0L319.6 268.0L313.1 268.9Z" fill="#687fff" stroke="#687fff"/>
<path d="M313.1 268.9L319.6 268.0L314.2 267.0L307.8 267.9Z" fill="#7089ff" stroke="#7089ff"/>
<path d="M307.8 267.9L314.2 267.0L308.9 266.0L302.5 267.0Z" fill="#7793ff" stroke="#7793ff"/>
<path d="M302.5 267.0L308.9 266.0L303.7 265.0L297.2 266.0Z" fill="#7f9cff" stroke="#7f9cff"/>
<path d="M297.2 266.0L303.7 265.0L298.5 264.0L292.1 265.0Z" fill="#87a6ff" stroke="#87a6ff"/>
<path d="M292.1 265.0L298.5 264.0L293.5 263.1L287.0 264.1Z" fill="#8eafff" stroke="#8eafff"/>
<path d="M287.0 264.1L293.5 263.1L288.5 262.1L282.1 263.2Z" fill="#98b9ff" stroke="#98b9ff"/>
<path d="M282.1 263.2L288.5 262.1L283.5 261.2L277.1 262.3Z" fill="#a6c2ff" stroke="#a6c2ff"/>
<path d="M359.7 275.5L366.1 274.6L360.1 273.4L353.7 274.4Z" fill="#3c49ed" stroke="#3c49ed"/>
<path d="M353.7 274.4L360.1 273.4L354.2 272.3L347.8 273.2Z" fill="#4554f3" stroke="#4554f3"/>
<path d="M347.8 273.2L354.2 272.3L348.4 271.2L342.0 272.2Z" fill="#4d5efa" stroke="#4d5efa"/>
<path d="M342.0 272.2L348.4 271.2L342.7 270.1L336.3 271.1Z" fill="#5668ff" stroke="#5668ff"/>
<path d="M336.3 271.1L342.7 270.1L337.0 269.1L330.6 270.0Z" fill="#5e73ff" stroke="#5e73ff"/>
<path d="M330.6 270.0L337.0 269.1L331.4 268.0L325.1 269.0Z" fill="#667dff" stroke="#667dff"/>
<path d="M325.1 269.0L331.4 268.0L326.0 267.0L319.6 268.0Z" fill="#6f88ff" stroke="#6f88ff"/>
<path d="M319.6 268.0L326.0 267.0L320.6 266.0L314.2 267.0Z" fill="#7792ff" stroke="#7792ff"/>
<path d="M314.2 267.0L320.6 266.0L315.3 265.0L308.9 266.0Z" fill="#7f9cff" stroke="#7f9cff"/>
<path d="M308.9 266.0L315.3 265.0L310.0 264.0L303.7 265.0Z" fill="#88a7ff" stroke="#88a7ff"/>
<path d="M303.7 265.0L310.0 264.0L304.9 263.0L298.5 264.0Z" fill="#90b1ff" stroke="#90b1ff"/>
<path d="M298.5 264.0L304.9 263.0L299.8 262.0L293.5 263.1Z" fill="#9dbcff" stroke="#9dbcff"/>
<path d="M293.5 263.1L299.8 262.0L294.8 261.1L288.5 262.1Z" fill="#acc6ff" stroke="#acc6ff"/>
<path d="M288.5 262.1L294.8 261.1L289.8 260.2L283.5 261.2Z" fill="#bcd0ff" stroke="#bcd0ff"/>
<path d="M366.1 274.6L372.4 273.7L366.4 272.5L360.1 273.4Z" fill="#3f4cef" stroke="#3f4cef"/>
<path d="M360.1 273.4L366.4 272.5L360.5 271.4L354.2 272.3Z" fill="#4857f6" stroke="#4857f6"/>
<path d="M354.2 272.3L360.5 271.4L354.7 270.3L348.4 271.2Z" fill="#5163fc" stroke="#5163fc"/>
<path d="M348.4 271.2L354.7 270.3L348.9 269.2L342.7 270.1Z" fill="#5a6eff" stroke="#5a6eff"/>
<path d="M342.7 270.1L348.9 269.2L343.3 268.1L337.0 269.1Z" fill="#6379ff" stroke="#6379ff"/>
<path d="M337.0 269.1L343.3 268.1L337.7 267.1L331.4 268.0Z" fill="#6c85ff" stroke="#6c85ff"/>
<path d="M331.4 268.0L337.7 267.1L332.2 266.0L326.0 267.0Z" fill="#7590ff" stroke="#7590ff"/>
<path d="M326.0 267.0L332.2 266.0L326.8 265.0L320.6 266.0Z" fill="#7e9bff" stroke="#7e9bff"/>
<path d="M320.6 266.0L326.8 265.0L321.5 264.0L315.3 265.0Z" fill="#87a6ff" stroke="#87a6ff"/>
<path d="M315.3 265.0L321.5 264.0L316.3 263.0L310.0 264.0Z" fill="#90b2ff" stroke="#90b2ff"/>
<path d="M310.0 264.0L316.3 263.0L311.1 262.0L304.9 263.0Z" fill="#9fbdff" stroke="#9fbdff"/>
<path d="M304.9 263.0L311.1 262.0L306.0 261.0L299.8 262.0Z" fill="#b0c8ff" stroke="#b0c8ff"/>
<path d="M299.8 262.0L306.0 261.0L301.0 260.1L294.8 261.1Z" fill="#c1d3ff" stroke="#c1d3ff"/>
<path d="M294.8 261.1L301.0 260.1L296.0 259.2L289.8 260.2Z" fill="#d2deff" stroke="#d2deff"/>
<path d="M372.4 273.7L378.6 272.8L372.6 271.6L366.4 272.5Z" fill="#414ff1" stroke="#414ff1"/>
<path d="M366.4 272.5L372.6 271.6L366.7 270.5L360.5 271.4Z" fill="#4b5bf8" stroke="#4b5bf8"/>
<path d="M360.5 271.4L366.7 270.5L360.9 269.4L354.7 270.3Z" fill="#5567ff" stroke="#5567ff"/>
<path d="M354.7 270.3L360.9 269.4L355.1 268.3L348.9 269.2Z" fill="#5f74ff" stroke="#5f74ff"/>
<path d="M348.9 269.2L355.1 268.3L349.5 267.2L343.3 268.1Z" fill="#6880ff" stroke="#6880ff"/>
<path d="M343.3 268.1L349.5 267.2L343.9 266.1L337.7 267.1Z" fill="#728cff" stroke="#728cff"/>
<path d="M337.7 267.1L343.9 266.1L338.4 265.1L332.2 266.0Z" fill="#7c98ff" stroke="#7c98ff"/>
<path d="M332.2 266.0L338.4 265.1L333.0 264.1L326.8 265.0Z" fill="#86a4ff" stroke="#86a4ff"/>
<path d="M326.8 265.0L333.0 264.1L327.7 263.0L321.5 264.0Z" fill="#8fb0ff" stroke="#8fb0ff"/>
<path d="M321.5 264.0L327.7 263.0L322.4 262.0L316.3 263.0Z" fill="#9ebcff" stroke="#9ebcff"/>
<path d="M316.3 263.0L322.4 262.0L317.3 261.0L311.1 262.0Z" fill="#b1c8ff" stroke="#b1c8ff"/>
<path d="M311.1 262.0L317.3 261.0L312.2 260.1L306.0 261.0Z" fill="#c3d4ff" stroke="#c3d4ff"/>
<path d="M306.0 261.0L312.2 260.1L307.1 259.1L301.0 260.1Z" fill="#d6e0ff" stroke="#d6e0ff"/>
<path d="M301.0 260.1L307.1 259.1L302.2 258.1L296.0 259.2Z" fill="#e8ecf9" stroke="#e8ecf9"/>
<path d="M378.6 272.8L384.7 271.9L378.7 270.8L372.6 271.6Z" fill="#4452f3" stroke="#4452f3"/>
<path d="M372.6 271.6L378.7 270.8L372.8 269.6L366.7 270.5Z" fill="#4e5ffa" stroke="#4e5ffa"/>
<path d="M366.7 270.5L372.8 269.6L367.0 268.5L360.9 269.4Z" fill="#596cff" stroke="#596cff"/>
<path d="M360.9 269.4L367.0 268.5L361.2 267.4L355.1 268.3Z" fill="#6379ff" stroke="#6379ff"/>
<path d="M355.1 268.3L361.2 267.4L355.6 266.3L349.5 267.2Z" fill="#6e86ff" stroke="#6e86ff"/>
<path d="M349.5 267.2L355.6 266.3L350.0 265.2L343.9 266.1Z" fill="#7893ff" stroke="#7893ff"/>
<path d="M343.9 266.1L350.0 265.2L344.5 264.2L338.4 265.1Z" fill="#82a0ff" stroke="#82a0ff"/>
<path d="M338.4 265.1L344.5 264.2L339.1 263.1L333.0 264.1Z" fill="#8dadff" stroke="#8dadff"/>
<path d="M333.0 264.1L339.1 263.1L333.8 262.1L327.7 263.0Z" fill="#9bbaff" stroke="#9bbaff"/>
<path d="M327.7 263.0L333.8 262.1L328.5 261.1L322.4 262.0Z" fill="#afc7ff" stroke="#afc7ff"/>
<path d="M322.4 262.0L328.5 261.1L323.3 260.1L317.3 261.0Z" fill="#c3d4ff" stroke="#c3d4ff"/>
<path d="M317.3 261.0L323.3 260.1L318.2 259.1L312.2 260.1Z" fill="#d6e1ff" stroke="#d6e1ff"/>
<path d="M312.2 260.1L318.2 259.1L313.2 258.1L307.1 259.1Z" fill="#eaedf7" stroke="#eaedf7"/>
<path d="M307.1 259.1L313.2 258.1L308.2 257.2L302.2 258.1Z" fill="#f9eee6" stroke="#f9eee6"/>
<path d="M384.7 271.9L390.7 271.0L384.7 269.8L378.7 270.8Z" fill="#4756f5" stroke="#4756f5"/>
<path d="M378.7 270.8L384.7 269.8L378.8 268.7L372.8 269.6Z" fill="#5263fd" stroke="#5263fd"/>
<path d="M372.8 269.6L378.8 268.7L373.0 267.7L367.0 268.5Z" fill="#5c70ff" stroke="#5c70ff"/>
<path d="M367.0 268.5L373.0 267.7L367.2 266.6L361.2 267.4Z" fill="#677dff" stroke="#677dff"/>
<path d="M361.2 267.4L367.2 266.6L361.6 265.5L355.6 266.3Z" fill="#718bff" stroke="#718bff"/>
<path d="M355.6 266.3L361.6 265.5L356.0 264.5L350.0 265.2Z" fill="#7c98ff" stroke="#7c98ff"/>
<path d="M350.0 265.2L356.0 264.5L350.5 263.5L344.5 264.2Z" fill="#86a5ff" stroke="#86a5ff"/>
<path d="M344.5 264.2L350.5 263.5L345.1 262.5L339.1 263.1Z" fill="#91b2ff" stroke="#91b2ff"/>
<path d="M339.1 263.1L345.1 262.5L339.7 261.5L333.8 262.1Z" fill="#a1bfff" stroke="#a1bfff"/>
<path d="M333.8 262.1L339.7 261.5L334.5 260.5L328.5 261.1Z" fill="#b5cbff" stroke="#b5cbff"/>
<path d="M328.5 261.1L334.5 260.5L329.3 259.5L323.3 260.1Z" fill="#c9d8ff" stroke="#c9d8ff"/>
<path d="M323.3 260.1L329.3 259.5L324.2 258.6L318.2 259.1Z" fill="#dde5ff" stroke="#dde5ff"/>
<path d="M318.2 259.1L324.2 258.6L319.1 257.6L313.2 258.1Z" fill="#f1f1f4" stroke="#f1f1f4"/>
<path d="M313.2 258.1L319.1 257.6L314.2 256.7L308.2 257.2Z" fill="#fcede1" stroke="#fcede1"/>
<path d="M390.7 271.0L396.7 270.0L390.6 268.9L384.7 269.8Z" fill="#4c5cf9" stroke="#4c5cf9"/>
<path d="M384.7 269.8L390.6 268.9L384.7 267.9L378.8 268.7Z" fill="#5668ff" stroke="#5668ff"/>
<path d="M378.8 268.7L384.7 267.9L378.9 266.8L373.0 267.7Z" fill="#6075ff" stroke="#6075ff"/>
<path d="M373.0 267.7L378.9 266.8L373.1 265.8L367.2 266.6Z" fill="#6981ff" stroke="#6981ff"/>
<path d="M367.2 266.6L373.1 265.8L367.5 264.8L361.6 265.5Z" fill="#738dff" stroke="#738dff"/>
<path d="M361.6 265.5L367.5 264.8L361.9 263.8L356.0 264.5Z" fill="#7d99ff" stroke="#7d99ff"/>
<path d="M356.0 264.5L361.9 263.8L356.4 262.8L350.5 263.5Z" fill="#87a5ff" stroke="#87a5ff"/>
<path d="M350.5 263.5L356.4 262.8L351.0 261.8L345.1 262.5Z" fill="#90b1ff" stroke="#90b1ff"/>
<path d="M345.1 262.5L351.0 261.8L345.6 260.9L339.7 261.5Z" fill="#9fbdff" stroke="#9fbdff"/>
<path d="M339.7 261.5L345.6 260.9L340.4 259.9L334.5 260.5Z" fill="#b1c9ff" stroke="#b1c9ff"/>
<path d="M334.5 260.5L340.4 259.9L335.2 259.0L329.3 259.5Z" fill="#c4d5ff" stroke="#c4d5ff"/>
<path d="M329.3 259.5L335.2 259.0L330.1 258.1L324.2 258.6Z" fill="#d6e1ff" stroke="#d6e1ff"/>
<path d="M324.2 258.6L330.1 258.1L325.0 257.2L319.1 257.6Z" fill="#e9edfa" stroke="#e9edfa"/>
<path d="M319.1 257.6L325.0 257.2L320.0 256.3L314.2 256.7Z" fill="#f8f1eb" stroke="#f8f1eb"/>
<path d="M396.7 270.0L402.5 269.1L396.5 268.0L390.6 268.9Z" fill="#5162fd" stroke="#5162fd"/>
<path d="M390.6 268.9L396.5 268.0L390.5 267.0L384.7 267.9Z" fill="#5a6eff" stroke="#5a6eff"/>
<path d="M384.7 267.9L390.5 267.0L384.7 266.0L378.9 266.8Z" fill="#6379ff" stroke="#6379ff"/>
<path d="M378.9 266.8L384.7 266.0L379.0 265.0L373.1 265.8Z" fill="#6c84ff" stroke="#6c84ff"/>
<path d="M373.1 265.8L379.0 265.0L373.3 264.0L367.5 264.8Z" fill="#758fff" stroke="#758fff"/>
<path d="M367.5 264.8L373.3 264.0L367.7 263.1L361.9 263.8Z" fill="#7e9bff" stroke="#7e9bff"/>
<path d="M361.9 263.8L367.7 263.1L362.2 262.1L356.4 262.8Z" fill="#87a6ff" stroke="#87a6ff"/>
<path d="M356.4 262.8L362.2 262.1L356.8 261.2L351.0 261.8Z" fill="#90b1ff" stroke="#90b1ff"/>
<path d="M351.0 261.8L356.8 261.2L351.5 260.3L345.6 260.9Z" fill="#9dbcff" stroke="#9dbcff"/>
<path d="M345.6 260.9L351.5 260.3L346.2 259.4L340.4 259.9Z" fill="#aec7ff" stroke="#aec7ff"/>
<path d="M340.4 259.9L346.2 259.4L341.0 258.5L335.2 259.0Z" fill="#bfd2ff" stroke="#bfd2ff"/>
<path d="M335.2 259.0L341.0 258.5L335.9 257.6L330.1 258.1Z" fill="#d0ddff" stroke="#d0ddff"/>
<path d="M330.1 258.1L335.9 257.6L330.8 256.7L325.0 257.2Z" fill="#e1e8ff" stroke="#e1e8ff"/>
<path d="M325.0 257.2L330.8 256.7L325.8 255.8L320.0 256.3Z" fill="#f2f3f5" stroke="#f2f3f5"/>
<path d="M402.5 269.1L408.2 268.2L402.2 267.2L396.5 268.0Z" fill="#5668ff" stroke="#5668ff"/>
<path d="M396.5 268.0L402.2 267.2L396.3 266.2L390.5 267.0Z" fill="#5e73ff" stroke="#5e73ff"/>
<path d="M390.5 267.0L396.3 266.2L390.5 265.2L384.7 266.0Z" fill="#667dff" stroke="#667dff"/>
<path d="M384.7 266.0L390.5 265.2L384.7 264.3L379.0 265.0Z" fill="#6f87ff" stroke="#6f87ff"/>
<path d="M379.0 265.0L384.7 264.3L379.0 263.3L373.3 264.0Z" fill="#7792ff" stroke="#7792ff"/>
<path d="M373.3 264.0L379.0 263.3L373.5 262.4L367.7 263.1Z" fill="#7f9cff" stroke="#7f9cff"/>
<path d="M367.7 263.1L373.5 262.4L368.0 261.5L362.2 262.1Z" fill="#88a6ff" stroke="#88a6ff"/>
<path d="M362.2 262.1L368.0 261.5L362.5 260.6L356.8 261.2Z" fill="#90b1ff" stroke="#90b1ff"/>
<path d="M356.8 261.2L362.5 260.6L357.2 259.7L351.5 260.3Z" fill="#9bbbff" stroke="#9bbbff"/>
<path d="M351.5 260.3L357.2 259.7L351.9 258.8L346.2 259.4Z" fill="#aac5ff" stroke="#aac5ff"/>
<path d="M346.2 259.4L351.9 258.8L346.7 257.9L341.0 258.5Z" fill="#bacfff" stroke="#bacfff"/>
<path d="M341.0 258.5L346.7 257.9L341.6 257.1L335.9 257.6Z" fill="#cad9ff" stroke="#cad9ff"/>
<path d="M335.9 257.6L341.6 257.1L336.5 256.2L330.8 256.7Z" fill="#d9e3ff" stroke="#d9e3ff"/>
<path d="M330.8 256.7L336.5 256.2L331.6 255.4L325.8 255.8Z" fill="#e9edfc" stroke="#e9edfc"/>
<path d="M408.2 268.2L413.9 267.3L407.9 266.3L402.2 267.2Z" fill="#5b6eff" stroke="#5b6eff"/>
<path d="M402.2 267.2L407.9 266.3L401.9 265.3L396.3 266.2Z" fill="#6278ff" stroke="#6278ff"/>
<path d="M396.3 266.2L401.9 265.3L396.1 264.4L390.5 265.2Z" fill="#6a81ff" stroke="#6a81ff"/>
<path d="M390.5 265.2L396.1 264.4L390.4 263.5L384.7 264.3Z" fill="#718bff" stroke="#718bff"/>
<path d="M384.7 264.3L390.4 263.5L384.7 262.6L379.0 263.3Z" fill="#7994ff" stroke="#7994ff"/>
<path d="M379.0 263.3L384.7 262.6L379.1 261.7L373.5 262.4Z" fill="#819dff" stroke="#819dff"/>
<path d="M373.5 262.4L379.1 261.7L373.6 260.8L368.0 261.5Z" fill="#88a7ff" stroke="#88a7ff"/>
<path d="M368.0 261.5L373.6 260.8L368.2 259.9L362.5 260.6Z" fill="#90b0ff" stroke="#90b0ff"/>
<path d="M362.5 260.6L368.2 259.9L362.8 259.1L357.2 259.7Z" fill="#98baff" stroke="#98baff"/>
<path d="M357.2 259.7L362.8 259.1L357.6 258.2L351.9 258.8Z" fill="#a7c3ff" stroke="#a7c3ff"/>
<path d="M351.9 258.8L357.6 258.2L352.4 257.4L346.7 257.9Z" fill="#b5ccff" stroke="#b5ccff"/>
<path d="M346.7 257.9L352.4 257.4L347.2 256.6L341.6 257.1Z" fill="#c3d5ff" stroke="#c3d5ff"/>
<path d="M341.6 257.1L347.2 256.6L342.2 255.8L336.5 256.2Z" fill="#d2deff" stroke="#d2deff"/>
<path d="M336.5 256.2L342.2 255.8L337.2 255.0L331.6 255.4Z" fill="#e0e8ff" stroke="#e0e8ff"/>
<path d="M413.9 267.3L419.4 266.4L413.4 265.4L407.9 266.3Z" fill="#6074ff" stroke="#6074ff"/>
<path d="M407.9 266.3L413.4 265.4L407.5 264.5L401.9 265.3Z" fill="#667dff" stroke="#667dff"/>
<path d="M401.9 265.3L407.5 264.5L401.7 263.6L396.1 264.4Z" fill="#6d85ff" stroke="#6d85ff"/>
<path d="M396.1 264.4L401.7 263.6L395.9 262.7L390.4 263.5Z" fill="#748eff" stroke="#748eff"/>
<path d="M390.4 263.5L395.9 262.7L390.3 261.9L384.7 262.6Z" fill="#7b96ff" stroke="#7b96ff"/>
<path d="M384.7 262.6L390.3 261.9L384.7 261.0L379.1 261.7Z" fill="#829fff" stroke="#829fff"/>
<path d="M379.1 261.7L384.7 261.0L379.2 260.2L373.6 260.8Z" fill="#89a7ff" stroke="#89a7ff"/>
<path d="M373.6 260.8L379.2 260.2L373.8 259.3L368.2 259.9Z" fill="#90b0ff" stroke="#90b0ff"/>
<path d="M368.2 259.9L373.8 259.3L368.4 258.5L362.8 259.1Z" fill="#96b8ff" stroke="#96b8ff"/>
<path d="M362.8 259.1L368.4 258.5L363.1 257.7L357.6 258.2Z" fill="#a3c1ff" stroke="#a3c1ff"/>
<path d="M357.6 258.2L363.1 257.7L357.9 256.9L352.4 257.4Z" fill="#b0c9ff" stroke="#b0c9ff"/>
<path d="M352.4 257.4L357.9 256.9L352.8 256.1L347.2 256.6Z" fill="#bdd1ff" stroke="#bdd1ff"/>
<path d="M347.2 256.6L352.8 256.1L347.7 255.3L342.2 255.8Z" fill="#cadaff" stroke="#cadaff"/>
<path d="M342.2 255.8L347.7 255.3L342.8 254.6L337.2 255.0Z" fill="#d7e2ff" stroke="#d7e2ff"/>
<path d="M419.4 266.4L424.9 265.5L418.9 264.6L413.4 265.4Z" fill="#647aff" stroke="#647aff"/>
<path d="M413.4 265.4L418.9 264.6L413.0 263.7L407.5 264.5Z" fill="#6b82ff" stroke="#6b82ff"/>
<path d="M407.5 264.5L413.0 263.7L407.2 262.9L401.7 263.6Z" fill="#718aff" stroke="#718aff"/>
<path d="M401.7 263.6L407.2 262.9L401.4 262.0L395.9 262.7Z" fill="#7791ff" stroke="#7791ff"/>
<path d="M395.9 262.7L401.4 262.0L395.8 261.2L390.3 261.9Z" fill="#7d99ff" stroke="#7d99ff"/>
<path d="M390.3 261.9L395.8 261.2L390.2 260.4L384.7 261.0Z" fill="#83a0ff" stroke="#83a0ff"/>
<path d="M384.7 261.0L390.2 260.4L384.7 259.5L379.2 260.2Z" fill="#89a8ff" stroke="#89a8ff"/>
<path d="M379.2 260.2L384.7 259.5L379.3 258.7L373.8 259.3Z" fill="#8fb0ff" stroke="#8fb0ff"/>
<path d="M373.8 259.3L379.3 258.7L373.9 258.0L368.4 258.5Z" fill="#95b7ff" stroke="#95b7ff"/>
<path d="M368.4 258.5L373.9 258.0L368.6 257.2L363.1 257.7Z" fill="#9fbfff" stroke="#9fbfff"/>
<path d="M363.1 257.7L368.6 257.2L363.4 256.4L357.9 256.9Z" fill="#abc6ff" stroke="#abc6ff"/>
<path d="M357.9 256.9L363.4 256.4L358.3 255.6L352.8 256.1Z" fill="#b6cdff" stroke="#b6cdff"/>
<path d="M352.8 256.1L358.3 255.6L353.2 254.9L347.7 255.3Z" fill="#c2d5ff" stroke="#c2d5ff"/>
<path d="M347.7 255.3L353.2 254.9L348.2 254.2L342.8 254.6Z" fill="#cddcff" stroke="#cddcff"/>
<path d="M424.9 265.5L430.3 264.6L424.3 263.8L418.9 264.6Z" fill="#6980ff" stroke="#6980ff"/>
<path d="M418.9 264.6L424.3 263.8L418.4 262.9L413.0 263.7Z" fill="#6f87ff" stroke="#6f87ff"/>
<path d="M413.0 263.7L418.4 262.9L412.6 262.1L407.2 262.9Z" fill="#748eff" stroke="#748eff"/>
<path d="M407.2 262.9L412.6 262.1L406.8 261.3L401.4 262.0Z" fill="#7a94ff" stroke="#7a94ff"/>
<path d="M401.4 262.0L406.8 261.3L401.2 260.5L395.8 261.2Z" fill="#7f9bff" stroke="#7f9bff"/>
<path d="M395.8 261.2L401.2 260.5L395.6 259.7L390.2 260.4Z" fill="#84a2ff" stroke="#84a2ff"/>
<path d="M390.2 260.4L395.6 259.7L390.1 258.9L384.7 259.5Z" fill="#8aa8ff" stroke="#8aa8ff"/>
<path d="M384.7 259.5L390.1 258.9L384.7 258.2L379.3 258.7Z" fill="#8fafff" stroke="#8fafff"/>
<path d="M379.3 258.7L384.7 258.2L379.3 257.4L373.9 258.0Z" fill="#95b6ff" stroke="#95b6ff"/>
<path d="M373.9 258.0L379.3 257.4L374.1 256.6L368.6 257.2Z" fill="#9cbcff" stroke="#9cbcff"/>
<path d="M368.6 257.2L374.1 256.6L368.8 255.9L363.4 256.4Z" fill="#a6c3ff" stroke="#a6c3ff"/>
<path d="M363.4 256.4L368.8 255.9L363.7 255.2L358.3 255.6Z" fill="#b0caff" stroke="#b0caff"/>
<path d="M358.3 255.6L363.7 255.2L358.6 254.5L353.2 254.9Z" fill="#bad0ff" stroke="#bad0ff"/>
<path d="M353.2 254.9L358.6 254.5L353.6 253.8L348.2 254.2Z" fill="#c4d7ff" stroke="#c4d7ff"/>
<path d="M430.3 264.6L435.6 263.8L429.6 262.9L424.3 263.8Z" fill="#6e86ff" stroke="#6e86ff"/>
<path d="M424.3 263.8L429.6 262.9L423.7 262.1L418.4 262.9Z" fill="#738cff" stroke="#738cff"/>
<path d="M418.4 262.9L423.7 262.1L417.9 261.4L412.6 262.1Z" fill="#7892ff" stroke="#7892ff"/>
<path d="M412.6 262.1L417.9 261.4L412.2 260.6L406.8 261.3Z" fill="#7c98ff" stroke="#7c98ff"/>
<path d="M406.8 261.3L412.2 260.6L406.5 259.8L401.2 260.5Z" fill="#819dff" stroke="#819dff"/>
<path d="M401.2 260.5L406.5 259.8L400.9 259.1L395.6 259.7Z" fill="#86a3ff" stroke="#86a3ff"/>
<path d="M395.6 259.7L400.9 259.1L395.4 258.3L390.1 258.9Z" fill="#8aa9ff" stroke="#8aa9ff"/>
<path d="M390.1 258.9L395.4 258.3L390.0 257.6L384.7 258.2Z" fill="#8fafff" stroke="#8fafff"/>
<path d="M384.7 258.2L390.0 257.6L384.7 256.8L379.3 257.4Z" fill="#94b5ff" stroke="#94b5ff"/>
<path d="M379.3 257.4L384.7 256.8L379.4 256.1L374.1 256.6Z" fill="#98baff" stroke="#98baff"/>
<path d="M374.1 256.6L379.4 256.1L374.2 255.4L368.8 255.9Z" fill="#a1c0ff" stroke="#a1c0ff"/>
<path d="M368.8 255.9L374.2 255.4L369.1 254.7L363.7 255.2Z" fill="#aac6ff" stroke="#aac6ff"/>
<path d="M363.7 255.2L369.1 254.7L364.0 254.0L358.6 254.5Z" fill="#b2cbff" stroke="#b2cbff"/>
<path d="M358.6 254.5L364.0 254.0L359.0 253.4L353.6 253.8Z" fill="#bbd1ff" stroke="#bbd1ff"/>
<path d="M435.6 263.8L440.9 262.9L434.9 262.1L429.6 262.9Z" fill="#738cff" stroke="#738cff"/>
<path d="M429.6 262.9L434.9 262.1L429.0 261.4L423.7 262.1Z" fill="#7791ff" stroke="#7791ff"/>
<path d="M423.7 262.1L429.0 261.4L423.2 260.6L417.9 261.4Z" fill="#7b96ff" stroke="#7b96ff"/>
<path d="M417.9 261.4L423.2 260.6L417.4 259.9L412.2 260.6Z" fill="#7f9bff" stroke="#7f9bff"/>
<path d="M412.2 260.6L417.4 259.9L411.8 259.1L406.5 259.8Z" fill="#83a0ff" stroke="#83a0ff"/>
<path d="M406.5 259.8L411.8 259.1L406.2 258.4L400.9 259.1Z" fill="#87a5ff" stroke="#87a5ff"/>
<path d="M400.9 259.1L406.2 258.4L400.7 257.7L395.4 258.3Z" fill="#8baaff" stroke="#8baaff"/>
<path d="M395.4 258.3L400.7 257.7L395.3 257.0L390.0 257.6Z" fill="#8faeff" stroke="#8faeff"/>
<path d="M390.0 257.6L395.3 257.0L389.9 256.3L384.7 256.8Z" fill="#93b3ff" stroke="#93b3ff"/>
<path d="M384.7 256.8L389.9 256.3L384.7 255.6L379.4 256.1Z" fill="#97b8ff" stroke="#97b8ff"/>
<path d="M379.4 256.1L384.7 255.6L379.5 254.9L374.2 255.4Z" fill="#9cbdff" stroke="#9cbdff"/>
<path d="M374.2 255.4L379.5 254.9L374.3 254.3L369.1 254.7Z" fill="#a3c2ff" stroke="#a3c2ff"/>
<path d="M369.1 254.7L374.3 254.3L369.3 253.6L364.0 254.0Z" fill="#aac6ff" stroke="#aac6ff"/>
<path d="M364.0 254.0L369.3 253.6L364.3 253.0L359.0 253.4Z" fill="#b2cbff" stroke="#b2cbff"/>
<path d="M440.9 262.9L446.1 262.1L440.1 261.3L434.9 262.1Z" fill="#7892ff" stroke="#7892ff"/>
<path d="M434.9 262.1L440.1 261.3L434.2 260.6L429.0 261.4Z" fill="#7b96ff" stroke="#7b96ff"/>
<path d="M429.0 261.4L434.2 260.6L428.4 259.9L423.2 260.6Z" fill="#7e9aff" stroke="#7e9aff"/>
<path d="M423.2 260.6L428.4 259.9L422.6 259.2L417.4 259.9Z" fill="#829eff" stroke="#829eff"/>
<path d="M417.4 259.9L422.6 259.2L417.0 258.5L411.8 259.1Z" fill="#85a2ff" stroke="#85a2ff"/>
<path d="M411.8 259.1L417.0 258.5L411.4 257.8L406.2 258.4Z" fill="#88a6ff" stroke="#88a6ff"/>
<path d="M406.2 258.4L411.4 257.8L405.9 257.1L400.7 257.7Z" fill="#8baaff" stroke="#8baaff"/>
<path d="M400.7 257.7L405.9 257.1L400.5 256.4L395.3 257.0Z" fill="#8faeff" stroke="#8faeff"/>
<path d="M395.3 257.0L400.5 256.4L395.1 255.8L389.9 256.3Z" fill="#92b2ff" stroke="#92b2ff"/>
<path d="M389.9 256.3L395.1 255.8L389.9 255.1L384.7 255.6Z" fill="#95b6ff" stroke="#95b6ff"/>
<path d="M384.7 255.6L389.9 255.1L384.7 254.5L379.5 254.9Z" fill="#98baff" stroke="#98baff"/>
<path d="M379.5 254.9L384.7 254.5L379.5 253.8L374.3 254.3Z" fill="#9dbeff" stroke="#9dbeff"/>
<path d="M374.3 254.3L379.5 253.8L374.5 253.2L369.3 253.6Z" fill="#a3c2ff" stroke="#a3c2ff"/>
<path d="M369.3 253.6L374.5 253.2L369.5 252.6L364.3 253.0Z" fill="#a8c6ff" stroke="#a8c6ff"/>
<path d="M446.1 262.1L451.1 261.3L445.2 260.6L440.1 261.3Z" fill="#7d98ff" stroke="#7d98ff"/>
<path d="M440.1 261.3L445.2 260.6L439.3 259.9L434.2 260.6Z" fill="#7f9bff" stroke="#7f9bff"/>
<path d="M434.2 260.6L439.3 259.9L433.5 259.2L428.4 259.9Z" fill="#829fff" stroke="#829fff"/>
<path d="M428.4 259.9L433.5 259.2L427.7 258.5L422.6 259.2Z" fill="#84a2ff" stroke="#84a2ff"/>
<path d="M422.6 259.2L427.7 258.5L422.1 257.8L417.0 258.5Z" fill="#87a5ff" stroke="#87a5ff"/>
<path d="M417.0 258.5L422.1 257.8L416.5 257.2L411.4 257.8Z" fill="#89a8ff" stroke="#89a8ff"/>
<path d="M411.4 257.8L416.5 257.2L411.0 256.5L405.9 257.1Z" fill="#8cabff" stroke="#8cabff"/>
<path d="M405.9 257.1L411.0 256.5L405.6 255.9L400.5 256.4Z" fill="#8eaeff" stroke="#8eaeff"/>
<path d="M400.5 256.4L405.6 255.9L400.3 255.2L395.1 255.8Z" fill="#91b1ff" stroke="#91b1ff"/>
<path d="M395.1 255.8L400.3 255.2L395.0 254.6L389.9 255.1Z" fill="#93b4ff" stroke="#93b4ff"/>
<path d="M389.9 255.1L395.0 254.6L389.8 254.0L384.7 254.5Z" fill="#96b7ff" stroke="#96b7ff"/>
<path d="M384.7 254.5L389.8 254.0L384.7 253.4L379.5 253.8Z" fill="#98baff" stroke="#98baff"/>
<path d="M379.5 253.8L384.7 253.4L379.6 252.8L374.5 253.2Z" fill="#9bbdff" stroke="#9bbdff"/>
<path d="M374.5 253.2L379.6 252.8L374.6 252.2L369.5 252.6Z" fill="#9fc0ff" stroke="#9fc0ff"/>
<path d="M451.1 261.3L456.2 260.5L450.2 259.8L445.2 260.6Z" fill="#829eff" stroke="#829eff"/>
<path d="M445.2 260.6L450.2 259.8L444.3 259.1L439.3 259.9Z" fill="#83a1ff" stroke="#83a1ff"/>
<path d="M439.3 259.9L444.3 259.1L438.5 258.5L433.5 259.2Z" fill="#85a3ff" stroke="#85a3ff"/>
<path d="M433.5 259.2L438.5 258.5L432.8 257.8L427.7 258.5Z" fill="#87a5ff" stroke="#87a5ff"/>
<path d="M427.7 258.5L432.8 257.8L427.1 257.2L422.1 257.8Z" fill="#89a7ff" stroke="#89a7ff"/>
<path d="M422.1 257.8L427.1 257.2L421.6 256.6L416.5 257.2Z" fill="#8ba9ff" stroke="#8ba9ff"/>
<path d="M416.5 257.2L421.6 256.6L416.1 255.9L411.0 256.5Z" fill="#8cabff" stroke="#8cabff"/>
<path d="M411.0 256.5L416.1 255.9L410.7 255.3L405.6 255.9Z" fill="#8eadff" stroke="#8eadff"/>
<path d="M405.6 255.9L410.7 255.3L405.3 254.7L400.3 255.2Z" fill="#90afff" stroke="#90afff"/>
<path d="M400.3 255.2L405.3 254.7L400.1 254.1L395.0 254.6Z" fill="#92b2ff" stroke="#92b2ff"/>
<path d="M395.0 254.6L400.1 254.1L394.8 253.5L389.8 254.0Z" fill="#93b4ff" stroke="#93b4ff"/>
<path d="M389.8 254.0L394.8 253.5L389.7 253.0L384.7 253.4Z" fill="#95b6ff" stroke="#95b6ff"/>
<path d="M384.7 253.4L389.7 253.0L384.6 252.4L379.6 252.8Z" fill="#97b8ff" stroke="#97b8ff"/>
<path d="M379.6 252.8L384.6 252.4L379.6 251.8L374.6 252.2Z" fill="#99baff" stroke="#99baff"/>
<path d="M456.2 260.5L461.1 259.7L455.2 259.0L450.2 259.8Z" fill="#87a4ff" stroke="#87a4ff"/>
<path d="M450.2 259.8L455.2 259.0L449.3 258.4L444.3 259.1Z" fill="#88a6ff" stroke="#88a6ff"/>
<path d="M444.3 259.1L449.3 258.4L443.5 257.8L438.5 258.5Z" fill="#89a7ff" stroke="#89a7ff"/>
<path d="M438.5 258.5L443.5 257.8L437.8 257.2L432.8 257.8Z" fill="#8aa8ff" stroke="#8aa8ff"/>
<path d="M432.8 257.8L437.8 257.2L432.1 256.5L427.1 257.2Z" fill="#8ba9ff" stroke="#8ba9ff"/>
<path d="M427.1 257.2L432.1 256.5L426.6 256.0L421.6 256.6Z" fill="#8cabff" stroke="#8cabff"/>
<path d="M421.6 256.6L426.6 256.0L421.1 255.4L416.1 255.9Z" fill="#8dacff" stroke="#8dacff"/>
<path d="M416.1 255.9L421.1 255.4L415.7 254.8L410.7 255.3Z" fill="#8eadff" stroke="#8eadff"/>
<path d="M410.7 255.3L415.7 254.8L410.3 254.2L405.3 254.7Z" fill="#8faeff" stroke="#8faeff"/>
<path d="M405.3 254.7L410.3 254.2L405.0 253.6L400.1 254.1Z" fill="#90afff" stroke="#90afff"/>
<path d="M400.1 254.1L405.0 253.6L399.8 253.1L394.8 253.5Z" fill="#91b1ff" stroke="#91b1ff"/>
<path d="M394.8 253.5L399.8 253.1L394.7 252.5L389.7 253.0Z" fill="#92b2ff" stroke="#92b2ff"/>
<path d="M389.7 253.0L394.7 252.5L389.6 252.0L384.6 252.4Z" fill="#93b3ff" stroke="#93b3ff"/>
<path d="M384.6 252.4L389.6 252.0L384.6 251.4L379.6 251.8Z" fill="#94b4ff" stroke="#94b4ff"/>
</g>
<text x="35.7" y="60.6" font-size="18.7" text-anchor="middle" font-family="DejaVu Sans, Verdana, sans-serif" stroke="#f0f0f0" stroke-width="0.3" fill="#f0f0f0">2</text>
<text x="50.0" y="288.6" font-size="18.7" text-anchor="middle" font-family="DejaVu Sans, Verdana, sans-serif" stroke="#f0f0f0" stroke-width="0.3" fill="#f0f0f0">0</text>
<text x="64.5" y="496.6" font-size="18.7" text-anchor="middle" font-family="DejaVu Sans, Verdana, sans-serif" stroke="#f0f0f0" stroke-width="0.3" fill="#f0f0f0">-2</text>
<g transform="translate(66.5 494.7) rotate(-16.6)"><text x="0" y="6.2" font-size="16.8" text-anchor="middle" font-family="DejaVu Sans, Verdana, sans-serif" stroke="#f0f0f0" stroke-width="0.3" fill="#f0f0f0">300</text></g>
<g transform="translate(97.1 516.1) rotate(-18.1)"><text x="0" y="6.2" font-size="16.8" text-anchor="middle" font-family="DejaVu Sans, Verdana, sans-serif" stroke="#f0f0f0" stroke-width="0.3" fill="#f0f0f0">250</text></g>
<g transform="translate(131.2 540.8) rotate(-19.9)"><text x="0" y="6.2" font-size="16.8" text-anchor="middle" font-family="DejaVu Sans, Verdana, sans-serif" stroke="#f0f0f0" stroke-width="0.3" fill="#f0f0f0">200</text></g>
<g transform="translate(170.8 569.3) rotate(-22.1)"><text x="0" y="6.2" font-size="16.8" text-anchor="middle" font-family="DejaVu Sans, Verdana, sans-serif" stroke="#f0f0f0" stroke-width="0.3" fill="#f0f0f0">150</text></g>
<g transform="translate(217.2 601.1) rotate(-24.8)"><text x="0" y="6.2" font-size="16.8" text-anchor="middle" font-family="DejaVu Sans, Verdana, sans-serif" stroke="#f0f0f0" stroke-width="0.3" fill="#f0f0f0">100</text></g>
<g transform="translate(272.1 641.3) rotate(-28.1)"><text x="0" y="6.2" font-size="16.8" text-anchor="middle" font-family="DejaVu Sans, Verdana, sans-serif" stroke="#f0f0f0" stroke-width="0.3" fill="#f0f0f0">50</text></g>
<g transform="translate(694.0 501.9) rotate(17.1)"><text x="0" y="6.2" font-size="16.8" text-anchor="middle" font-family="DejaVu Sans, Verdana, sans-serif" stroke="#f0f0f0" stroke-width="0.3" fill="#f0f0f0">200</text></g>
<g transform="translate(648.2 534.7) rotate(19.4)"><text x="0" y="6.2" font-size="16.8" text-anchor="middle" font-family="DejaVu Sans, Verdana, sans-serif" stroke="#f0f0f0" stroke-width="0.3" fill="#f0f0f0">150</text></g>
<g transform="translate(592.1 574.6) rotate(22.5)"><text x="0" y="6.2" font-size="16.8" text-anchor="middle" font-family="DejaVu Sans, Verdana, sans-serif" stroke="#f0f0f0" stroke-width="0.3" fill="#f0f0f0">100</text></g>
<g transform="translate(521.9 624.0) rotate(26.6)"><text x="0" y="6.2" font-size="16.8" text-anchor="middle" font-family="DejaVu Sans, Verdana, sans-serif" stroke="#f0f0f0" stroke-width="0.3" fill="#f0f0f0">50</text></g>
<text x="111.6" y="598.9" font-size="22.5" text-anchor="middle" font-family="DejaVu Sans, Verdana, sans-serif" stroke="#f0f0f0" stroke-width="0.3" fill="#f0f0f0">y</text>
<text x="658.9" y="600.7" font-size="22.5" text-anchor="middle" font-family="DejaVu Sans, Verdana, sans-serif" stroke="#f0f0f0" stroke-width="0.3" fill="#f0f0f0">x</text>
</svg></div>
<div id="info">Using saved mesh data from 09/04/2020, 02:43:30.</div>
<div id="btn"><svg width="18" height="18" viewBox="-9 -9 18 18"><circle cx="0" cy="0" r="8.65" fill="#fff"/><g fill="#5670d2"><ellipse cx="0.07" cy="-5.5" rx="1.45" ry="1"/><rect x="-1" y="-2.35" width="2" height="7.5"/><rect x="-2.7" y="-2.35" width="1.8" height="1.2"/><rect x="-2.7" y="3.7" width="5.55" height="1.5"/></g></svg><span>Update Mesh Now</span></div>
<div id="hr"></div>
<div id="tbl">
<div id="inner"></div>
<div class="c h" style="left:0;width:78.9px;top:-0.3px">y</div>
<div class="c h" style="left:80.7px;width:384.5px;top:-0.3px;text-align:center;letter-spacing:-0.13px">Adjustment Angle (degrees)</div>
<div class="c h" style="left:0;width:78.9px;top:31.8px">0</div>
<div class="c r" style="left:0;width:180.1px;top:30.9px">4</div>
<div class="c b" style="left:0;width:279.3px;top:30.9px">25</div>
<div class="c b" style="left:0;width:389.6px;top:30.9px">14</div>
<div class="c b" style="left:0;width:463.3px;top:30.9px">32</div>
<div class="c h" style="left:0;width:78.9px;top:62.85px">99</div>
<div class="c r" style="left:0;width:180.1px;top:61.95px">3</div>
<div class="c b" style="left:0;width:279.3px;top:61.95px">30</div>
<div class="c b" style="left:0;width:389.6px;top:61.95px">26</div>
<div class="c b" style="left:0;width:463.3px;top:61.95px">48</div>
<div class="c h" style="left:0;width:78.9px;top:93.9px">198</div>
<div class="c r" style="left:0;width:180.1px;top:93px">37</div>
<div class="c b" style="left:0;width:279.3px;top:93px">46</div>
<div class="c b" style="left:0;width:389.6px;top:93px">40</div>
<div class="c b" style="left:0;width:463.3px;top:93px">22</div>
<div class="c h" style="left:0;width:78.9px;top:124.95px">297</div>
<div class="c b" style="left:0;width:180.1px;top:124.05px">17</div>
<div class="c b" style="left:0;width:279.3px;top:124.05px">44</div>
<div class="c b" style="left:0;width:389.6px;top:124.05px">1</div>
<div class="c b" style="left:0;width:463.3px;top:124.05px">21</div>
<div class="c g" style="left:0;width:78.9px;top:155.4px">x</div>
<div class="c g" style="left:0;width:180.1px;top:155.4px">0</div>
<div class="c g" style="left:0;width:279.3px;top:155.4px">70</div>
<div class="c g" style="left:0;width:389.6px;top:155.4px">140</div>
<div class="c g" style="left:0;width:463.3px;top:155.4px">210</div>
</div>
<div class="leg" style="left:259.2px;top:945px;color:#0f830f">x - Position</div>
<div class="leg" style="left:454.3px;top:945px;color:#000">y - Position</div>
<div class="leg" style="left:223.3px;top:976.3px;font-weight:normal;color:#fff">Turn direction - <span style="color:#0b24fb">clockwise (right)</span> / <span style="color:#fb1c2c">anticlockwise (left)</span></div>
</body></html>
